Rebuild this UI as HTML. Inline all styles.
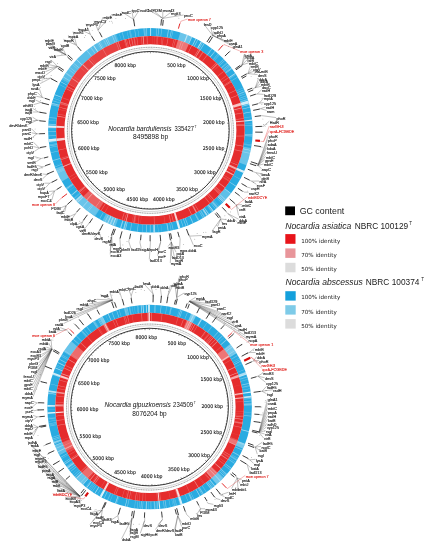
<!DOCTYPE html>
<html><head><meta charset="utf-8"><style>
html,body{margin:0;padding:0;background:#fff;}
svg{display:block;}
text{font-family:'Liberation Sans', 'DejaVu Sans', sans-serif;fill:#1a1a1a;}
.kb{font-size:5.1px;font-family:'DejaVu Sans',sans-serif;fill:#111;stroke:#111;stroke-width:0.12px;}
.it{font-style:italic;}
.gl{font-size:3.75px;fill:#1a1a1a;stroke:#1a1a1a;stroke-width:0.12px;}
.gl.r{fill:#e0201c;stroke:#e0201c;}
.ct{font-size:6.6px;fill:#111;}
.sup{font-size:3.4px;}
.lg{font-size:9.2px;}
.lh{font-size:8.8px;}
.lsup{font-size:4.6px;}
.li{font-size:5.6px;font-family:'DejaVu Sans',sans-serif;}
</style></head><body>
<svg width="435" height="550" viewBox="0 0 435 550">
<rect width="435" height="550" fill="#fff"/>
<circle cx="150.4" cy="130.3" r="98.30" fill="none" stroke="#29abe1" stroke-width="8.00"/>
<path d="M180.55,228.05A102.3,102.3 0 0 1 179.96,228.24L177.65,220.58A94.3,94.3 0 0 0 178.20,220.41Z" fill="#e0f3fb" fill-opacity="0.46"/>
<path d="M69.59,67.58A102.3,102.3 0 0 1 69.82,67.27L76.12,72.20A94.3,94.3 0 0 0 75.90,72.48Z" fill="#e0f3fb" fill-opacity="0.52"/>
<path d="M51.81,103.01A102.3,102.3 0 0 1 51.89,102.70L59.60,104.85A94.3,94.3 0 0 0 59.52,105.14Z" fill="#9ad6f0" fill-opacity="0.35"/>
<path d="M125.77,229.59A102.3,102.3 0 0 1 124.97,229.39L126.96,221.64A94.3,94.3 0 0 0 127.70,221.83Z" fill="#ffffff" fill-opacity="0.51"/>
<path d="M212.51,211.59A102.3,102.3 0 0 1 212.07,211.92L207.25,205.54A94.3,94.3 0 0 0 207.65,205.23Z" fill="#bfe6f7" fill-opacity="0.52"/>
<path d="M61.29,80.06A102.3,102.3 0 0 1 61.44,79.79L68.39,83.74A94.3,94.3 0 0 0 68.25,83.99Z" fill="#ffffff" fill-opacity="0.37"/>
<path d="M252.57,125.12A102.3,102.3 0 0 1 252.58,125.41L244.59,125.79A94.3,94.3 0 0 0 244.58,125.53Z" fill="#e0f3fb" fill-opacity="0.41"/>
<path d="M95.07,216.34A102.3,102.3 0 0 1 94.74,216.13L99.09,209.42A94.3,94.3 0 0 0 99.39,209.61Z" fill="#bfe6f7" fill-opacity="0.52"/>
<path d="M150.55,232.60A102.3,102.3 0 0 1 149.86,232.60L149.91,224.60A94.3,94.3 0 0 0 150.53,224.60Z" fill="#e0f3fb" fill-opacity="0.53"/>
<path d="M206.95,215.55A102.3,102.3 0 0 1 206.44,215.88L202.06,209.19A94.3,94.3 0 0 0 202.53,208.88Z" fill="#ffffff" fill-opacity="0.55"/>
<path d="M244.22,171.09A102.3,102.3 0 0 1 244.05,171.47L236.73,168.25A94.3,94.3 0 0 0 236.88,167.90Z" fill="#9ad6f0" fill-opacity="0.31"/>
<path d="M110.87,224.65A102.3,102.3 0 0 1 110.56,224.52L113.68,217.16A94.3,94.3 0 0 0 113.96,217.28Z" fill="#ffffff" fill-opacity="0.60"/>
<path d="M217.32,207.68A102.3,102.3 0 0 1 216.66,208.24L211.48,202.15A94.3,94.3 0 0 0 212.09,201.63Z" fill="#ffffff" fill-opacity="0.37"/>
<path d="M105.13,38.56A102.3,102.3 0 0 1 105.40,38.43L108.92,45.61A94.3,94.3 0 0 0 108.67,45.74Z" fill="#e0f3fb" fill-opacity="0.64"/>
<path d="M211.86,212.08A102.3,102.3 0 0 1 211.61,212.27L206.82,205.86A94.3,94.3 0 0 0 207.06,205.68Z" fill="#bfe6f7" fill-opacity="0.57"/>
<path d="M251.91,142.98A102.3,102.3 0 0 1 251.87,143.30L243.94,142.28A94.3,94.3 0 0 0 243.97,141.99Z" fill="#9ad6f0" fill-opacity="0.31"/>
<path d="M205.19,216.69A102.3,102.3 0 0 1 204.47,217.14L200.24,210.35A94.3,94.3 0 0 0 200.90,209.94Z" fill="#bfe6f7" fill-opacity="0.39"/>
<path d="M211.07,47.93A102.3,102.3 0 0 1 211.32,48.12L206.55,54.54A94.3,94.3 0 0 0 206.33,54.38Z" fill="#e0f3fb" fill-opacity="0.36"/>
<path d="M113.16,225.58A102.3,102.3 0 0 1 112.65,225.38L115.60,217.95A94.3,94.3 0 0 0 116.07,218.13Z" fill="#bfe6f7" fill-opacity="0.64"/>
<path d="M48.87,117.78A102.3,102.3 0 0 1 48.93,117.26L56.87,118.28A94.3,94.3 0 0 0 56.81,118.76Z" fill="#e0f3fb" fill-opacity="0.34"/>
<path d="M199.26,220.18A102.3,102.3 0 0 1 198.90,220.37L195.11,213.33A94.3,94.3 0 0 0 195.44,213.15Z" fill="#9ad6f0" fill-opacity="0.60"/>
<path d="M134.31,29.27A102.3,102.3 0 0 1 134.94,29.18L136.15,37.08A94.3,94.3 0 0 0 135.56,37.17Z" fill="#ffffff" fill-opacity="0.37"/>
<path d="M213.47,210.85A102.3,102.3 0 0 1 212.83,211.34L207.95,205.00A94.3,94.3 0 0 0 208.54,204.55Z" fill="#ffffff" fill-opacity="0.31"/>
<path d="M231.77,68.29A102.3,102.3 0 0 1 232.09,68.73L225.71,73.54A94.3,94.3 0 0 0 225.40,73.14Z" fill="#ffffff" fill-opacity="0.57"/>
<path d="M240.37,178.99A102.3,102.3 0 0 1 240.15,179.39L233.13,175.55A94.3,94.3 0 0 0 233.33,175.19Z" fill="#ffffff" fill-opacity="0.33"/>
<path d="M249.28,104.07A102.3,102.3 0 0 1 249.45,104.72L241.70,106.72A94.3,94.3 0 0 0 241.55,106.12Z" fill="#ffffff" fill-opacity="0.51"/>
<path d="M224.22,201.12A102.3,102.3 0 0 1 223.84,201.52L218.09,195.95A94.3,94.3 0 0 0 218.45,195.59Z" fill="#e0f3fb" fill-opacity="0.59"/>
<path d="M227.45,63.00A102.3,102.3 0 0 1 227.78,63.39L221.73,68.62A94.3,94.3 0 0 0 221.42,68.27Z" fill="#bfe6f7" fill-opacity="0.41"/>
<path d="M251.76,116.45A102.3,102.3 0 0 1 251.84,117.09L243.91,118.12A94.3,94.3 0 0 0 243.83,117.53Z" fill="#bfe6f7" fill-opacity="0.36"/>
<path d="M76.28,200.81A102.3,102.3 0 0 1 75.86,200.36L81.69,194.88A94.3,94.3 0 0 0 82.07,195.29Z" fill="#e0f3fb" fill-opacity="0.61"/>
<path d="M88.45,211.71A102.3,102.3 0 0 1 88.02,211.38L92.90,205.04A94.3,94.3 0 0 0 93.29,205.34Z" fill="#ffffff" fill-opacity="0.34"/>
<path d="M142.47,232.29A102.3,102.3 0 0 1 142.04,232.26L142.69,224.28A94.3,94.3 0 0 0 143.09,224.32Z" fill="#e0f3fb" fill-opacity="0.39"/>
<path d="M58.88,84.59A102.3,102.3 0 0 1 59.17,84.02L66.30,87.64A94.3,94.3 0 0 0 66.04,88.17Z" fill="#9ad6f0" fill-opacity="0.48"/>
<path d="M106.40,37.95A102.3,102.3 0 0 1 107.19,37.57L110.57,44.82A94.3,94.3 0 0 0 109.84,45.17Z" fill="#bfe6f7" fill-opacity="0.38"/>
<path d="M113.12,225.57A102.3,102.3 0 0 1 112.38,225.27L115.35,217.84A94.3,94.3 0 0 0 116.04,218.12Z" fill="#ffffff" fill-opacity="0.40"/>
<path d="M99.64,41.48A102.3,102.3 0 0 1 99.98,41.29L103.92,48.25A94.3,94.3 0 0 0 103.61,48.43Z" fill="#ffffff" fill-opacity="0.32"/>
<path d="M204.44,217.16A102.3,102.3 0 0 1 204.08,217.39L199.88,210.58A94.3,94.3 0 0 0 200.21,210.37Z" fill="#ffffff" fill-opacity="0.36"/>
<path d="M225.51,199.76A102.3,102.3 0 0 1 225.08,200.22L219.24,194.75A94.3,94.3 0 0 0 219.63,194.33Z" fill="#bfe6f7" fill-opacity="0.33"/>
<path d="M228.57,64.31A102.3,102.3 0 0 1 228.92,64.73L222.78,69.86A94.3,94.3 0 0 0 222.45,69.47Z" fill="#9ad6f0" fill-opacity="0.53"/>
<path d="M55.00,167.23A102.3,102.3 0 0 1 54.77,166.64L62.25,163.80A94.3,94.3 0 0 0 62.46,164.34Z" fill="#bfe6f7" fill-opacity="0.51"/>
<path d="M103.15,39.57A102.3,102.3 0 0 1 103.65,39.31L107.31,46.42A94.3,94.3 0 0 0 106.84,46.66Z" fill="#9ad6f0" fill-opacity="0.55"/>
<path d="M126.69,30.79A102.3,102.3 0 0 1 126.96,30.72L128.79,38.51A94.3,94.3 0 0 0 128.54,38.57Z" fill="#ffffff" fill-opacity="0.47"/>
<path d="M48.87,142.80A102.3,102.3 0 0 1 48.81,142.34L56.76,141.40A94.3,94.3 0 0 0 56.81,141.83Z" fill="#ffffff" fill-opacity="0.33"/>
<path d="M121.18,228.34A102.3,102.3 0 0 1 120.49,228.13L122.83,220.48A94.3,94.3 0 0 0 123.47,220.67Z" fill="#bfe6f7" fill-opacity="0.58"/>
<path d="M98.33,42.25A102.3,102.3 0 0 1 98.75,42.00L102.79,48.90A94.3,94.3 0 0 0 102.40,49.13Z" fill="#e0f3fb" fill-opacity="0.62"/>
<path d="M76.31,59.76A102.3,102.3 0 0 1 76.68,59.37L82.44,64.92A94.3,94.3 0 0 0 82.11,65.27Z" fill="#ffffff" fill-opacity="0.60"/>
<path d="M105.22,222.08A102.3,102.3 0 0 1 104.63,221.79L108.21,214.63A94.3,94.3 0 0 0 108.75,214.90Z" fill="#e0f3fb" fill-opacity="0.43"/>
<path d="M158.39,28.31A102.3,102.3 0 0 1 158.70,28.34L158.06,36.31A94.3,94.3 0 0 0 157.77,36.29Z" fill="#ffffff" fill-opacity="0.52"/>
<path d="M146.11,28.09A102.3,102.3 0 0 1 146.93,28.06L147.20,36.05A94.3,94.3 0 0 0 146.44,36.08Z" fill="#9ad6f0" fill-opacity="0.44"/>
<path d="M48.55,139.90A102.3,102.3 0 0 1 48.49,139.27L56.46,138.57A94.3,94.3 0 0 0 56.52,139.15Z" fill="#e0f3fb" fill-opacity="0.46"/>
<path d="M124.18,229.18A102.3,102.3 0 0 1 123.61,229.03L125.70,221.31A94.3,94.3 0 0 0 126.23,221.45Z" fill="#ffffff" fill-opacity="0.41"/>
<path d="M203.98,43.15A102.3,102.3 0 0 1 204.22,43.30L200.01,50.10A94.3,94.3 0 0 0 199.79,49.97Z" fill="#ffffff" fill-opacity="0.47"/>
<path d="M82.99,207.25A102.3,102.3 0 0 1 82.36,206.69L87.68,200.72A94.3,94.3 0 0 0 88.26,201.23Z" fill="#9ad6f0" fill-opacity="0.61"/>
<path d="M225.87,199.36A102.3,102.3 0 0 1 225.63,199.63L219.74,194.21A94.3,94.3 0 0 0 219.97,193.96Z" fill="#bfe6f7" fill-opacity="0.48"/>
<path d="M48.13,127.88A102.3,102.3 0 0 1 48.14,127.39L56.14,127.62A94.3,94.3 0 0 0 56.13,128.07Z" fill="#e0f3fb" fill-opacity="0.47"/>
<path d="M252.55,124.83A102.3,102.3 0 0 1 252.58,125.35L244.59,125.74A94.3,94.3 0 0 0 244.57,125.26Z" fill="#9ad6f0" fill-opacity="0.37"/>
<path d="M193.44,223.11A102.3,102.3 0 0 1 192.73,223.43L189.42,216.15A94.3,94.3 0 0 0 190.07,215.85Z" fill="#bfe6f7" fill-opacity="0.61"/>
<path d="M218.33,206.79A102.3,102.3 0 0 1 217.86,207.21L212.58,201.19A94.3,94.3 0 0 0 213.02,200.81Z" fill="#9ad6f0" fill-opacity="0.37"/>
<path d="M226.95,62.43A102.3,102.3 0 0 1 227.27,62.80L221.26,68.08A94.3,94.3 0 0 0 220.96,67.74Z" fill="#ffffff" fill-opacity="0.55"/>
<path d="M118.79,33.01A102.3,102.3 0 0 1 119.21,32.87L121.65,40.49A94.3,94.3 0 0 0 121.26,40.62Z" fill="#bfe6f7" fill-opacity="0.34"/>
<path d="M168.71,230.95A102.3,102.3 0 0 1 167.88,231.10L166.51,223.21A94.3,94.3 0 0 0 167.28,223.08Z" fill="#e0f3fb" fill-opacity="0.43"/>
<path d="M137.59,231.80A102.3,102.3 0 0 1 136.91,231.71L137.97,223.78A94.3,94.3 0 0 0 138.60,223.86Z" fill="#e0f3fb" fill-opacity="0.41"/>
<path d="M60.36,81.74A102.3,102.3 0 0 1 60.57,81.35L67.60,85.17A94.3,94.3 0 0 0 67.40,85.53Z" fill="#ffffff" fill-opacity="0.54"/>
<path d="M250.76,150.14A102.3,102.3 0 0 1 250.66,150.62L242.82,149.03A94.3,94.3 0 0 0 242.91,148.59Z" fill="#ffffff" fill-opacity="0.52"/>
<path d="M207.80,214.98A102.3,102.3 0 0 1 207.48,215.19L203.02,208.56A94.3,94.3 0 0 0 203.31,208.36Z" fill="#9ad6f0" fill-opacity="0.38"/>
<path d="M229.58,65.53A102.3,102.3 0 0 1 229.77,65.76L223.56,70.80A94.3,94.3 0 0 0 223.39,70.59Z" fill="#ffffff" fill-opacity="0.46"/>
<path d="M75.84,200.35A102.3,102.3 0 0 1 75.38,199.85L81.25,194.41A94.3,94.3 0 0 0 81.67,194.87Z" fill="#9ad6f0" fill-opacity="0.64"/>
<path d="M56.64,171.23A102.3,102.3 0 0 1 56.49,170.87L63.83,167.69A94.3,94.3 0 0 0 63.98,168.03Z" fill="#e0f3fb" fill-opacity="0.39"/>
<path d="M50.67,153.10A102.3,102.3 0 0 1 50.51,152.38L58.32,150.65A94.3,94.3 0 0 0 58.47,151.32Z" fill="#ffffff" fill-opacity="0.36"/>
<path d="M251.69,144.62A102.3,102.3 0 0 1 251.62,145.10L243.71,143.94A94.3,94.3 0 0 0 243.77,143.50Z" fill="#bfe6f7" fill-opacity="0.44"/>
<path d="M51.63,103.66A102.3,102.3 0 0 1 51.85,102.85L59.56,105.00A94.3,94.3 0 0 0 59.35,105.74Z" fill="#ffffff" fill-opacity="0.44"/>
<path d="M86.51,50.40A102.3,102.3 0 0 1 86.91,50.08L91.88,56.36A94.3,94.3 0 0 0 91.51,56.65Z" fill="#e0f3fb" fill-opacity="0.46"/>
<path d="M77.81,202.39A102.3,102.3 0 0 1 77.23,201.79L82.95,196.20A94.3,94.3 0 0 0 83.49,196.75Z" fill="#e0f3fb" fill-opacity="0.49"/>
<path d="M66.64,189.03A102.3,102.3 0 0 1 66.31,188.55L72.88,184.00A94.3,94.3 0 0 0 73.19,184.44Z" fill="#9ad6f0" fill-opacity="0.46"/>
<path d="M67.14,189.74A102.3,102.3 0 0 1 66.91,189.42L73.44,184.79A94.3,94.3 0 0 0 73.65,185.09Z" fill="#ffffff" fill-opacity="0.37"/>
<path d="M90.26,47.54A102.3,102.3 0 0 1 90.98,47.03L95.62,53.54A94.3,94.3 0 0 0 94.96,54.02Z" fill="#9ad6f0" fill-opacity="0.49"/>
<path d="M51.44,104.37A102.3,102.3 0 0 1 51.56,103.92L59.29,105.98A94.3,94.3 0 0 0 59.18,106.40Z" fill="#ffffff" fill-opacity="0.42"/>
<path d="M201.24,41.53A102.3,102.3 0 0 1 201.71,41.80L197.70,48.72A94.3,94.3 0 0 0 197.26,48.47Z" fill="#e0f3fb" fill-opacity="0.57"/>
<path d="M158.46,232.28A102.3,102.3 0 0 1 158.18,232.30L157.57,224.33A94.3,94.3 0 0 0 157.83,224.31Z" fill="#ffffff" fill-opacity="0.45"/>
<path d="M172.78,30.48A102.3,102.3 0 0 1 173.37,30.61L171.57,38.41A94.3,94.3 0 0 0 171.03,38.28Z" fill="#bfe6f7" fill-opacity="0.46"/>
<path d="M150.29,28.00A102.3,102.3 0 0 1 151.12,28.00L151.06,36.00A94.3,94.3 0 0 0 150.30,36.00Z" fill="#e0f3fb" fill-opacity="0.63"/>
<path d="M155.17,232.49A102.3,102.3 0 0 1 154.31,232.53L154.00,224.53A94.3,94.3 0 0 0 154.79,224.50Z" fill="#ffffff" fill-opacity="0.57"/>
<path d="M188.40,225.28A102.3,102.3 0 0 1 187.83,225.51L184.90,218.06A94.3,94.3 0 0 0 185.43,217.85Z" fill="#bfe6f7" fill-opacity="0.48"/>
<path d="M65.30,73.53A102.3,102.3 0 0 1 65.64,73.02L72.27,77.50A94.3,94.3 0 0 0 71.95,77.97Z" fill="#9ad6f0" fill-opacity="0.53"/>
<path d="M121.73,32.10A102.3,102.3 0 0 1 122.51,31.88L124.69,39.57A94.3,94.3 0 0 0 123.97,39.78Z" fill="#bfe6f7" fill-opacity="0.41"/>
<path d="M229.69,65.66A102.3,102.3 0 0 1 230.08,66.14L223.84,71.15A94.3,94.3 0 0 0 223.49,70.72Z" fill="#9ad6f0" fill-opacity="0.50"/>
<path d="M247.88,99.28A102.3,102.3 0 0 1 248.06,99.85L240.43,102.24A94.3,94.3 0 0 0 240.26,101.71Z" fill="#ffffff" fill-opacity="0.51"/>
<path d="M168.15,29.55A102.3,102.3 0 0 1 169.01,29.71L167.55,37.57A94.3,94.3 0 0 0 166.76,37.43Z" fill="#e0f3fb" fill-opacity="0.49"/>
<path d="M143.59,28.23A102.3,102.3 0 0 1 143.94,28.20L144.44,36.19A94.3,94.3 0 0 0 144.13,36.21Z" fill="#ffffff" fill-opacity="0.54"/>
<path d="M191.56,36.65A102.3,102.3 0 0 1 192.11,36.89L188.85,44.19A94.3,94.3 0 0 0 188.34,43.97Z" fill="#e0f3fb" fill-opacity="0.62"/>
<path d="M53.19,98.45A102.3,102.3 0 0 1 53.35,97.95L60.94,100.48A94.3,94.3 0 0 0 60.79,100.94Z" fill="#bfe6f7" fill-opacity="0.47"/>
<path d="M223.63,58.86A102.3,102.3 0 0 1 224.00,59.25L218.25,64.81A94.3,94.3 0 0 0 217.90,64.45Z" fill="#e0f3fb" fill-opacity="0.48"/>
<path d="M214.92,50.91A102.3,102.3 0 0 1 215.33,51.25L210.25,57.43A94.3,94.3 0 0 0 209.87,57.12Z" fill="#ffffff" fill-opacity="0.62"/>
<path d="M224.74,60.02A102.3,102.3 0 0 1 225.25,60.57L219.40,66.02A94.3,94.3 0 0 0 218.92,65.51Z" fill="#ffffff" fill-opacity="0.31"/>
<path d="M235.20,73.08A102.3,102.3 0 0 1 235.35,73.31L228.71,77.77A94.3,94.3 0 0 0 228.57,77.56Z" fill="#9ad6f0" fill-opacity="0.41"/>
<path d="M231.10,193.18A102.3,102.3 0 0 1 230.69,193.69L224.41,188.73A94.3,94.3 0 0 0 224.79,188.26Z" fill="#ffffff" fill-opacity="0.47"/>
<path d="M99.86,219.24A102.3,102.3 0 0 1 99.17,218.85L103.17,211.92A94.3,94.3 0 0 0 103.81,212.29Z" fill="#9ad6f0" fill-opacity="0.55"/>
<path d="M52.84,161.08A102.3,102.3 0 0 1 52.60,160.30L60.24,157.95A94.3,94.3 0 0 0 60.47,158.67Z" fill="#ffffff" fill-opacity="0.43"/>
<path d="M203.36,217.83A102.3,102.3 0 0 1 202.84,218.14L198.74,211.27A94.3,94.3 0 0 0 199.22,210.98Z" fill="#bfe6f7" fill-opacity="0.49"/>
<path d="M73.17,63.21A102.3,102.3 0 0 1 73.57,62.76L79.58,68.04A94.3,94.3 0 0 0 79.21,68.46Z" fill="#bfe6f7" fill-opacity="0.49"/>
<path d="M68.12,69.52A102.3,102.3 0 0 1 68.50,69.00L74.91,73.79A94.3,94.3 0 0 0 74.55,74.27Z" fill="#bfe6f7" fill-opacity="0.38"/>
<path d="M48.27,136.23A102.3,102.3 0 0 1 48.23,135.46L56.22,135.05A94.3,94.3 0 0 0 56.26,135.76Z" fill="#bfe6f7" fill-opacity="0.41"/>
<path d="M244.29,170.92A102.3,102.3 0 0 1 243.95,171.70L236.63,168.46A94.3,94.3 0 0 0 236.95,167.74Z" fill="#bfe6f7" fill-opacity="0.57"/>
<path d="M246.55,95.37A102.3,102.3 0 0 1 246.66,95.68L239.14,98.39A94.3,94.3 0 0 0 239.03,98.10Z" fill="#bfe6f7" fill-opacity="0.35"/>
<path d="M204.20,43.29A102.3,102.3 0 0 1 204.64,43.56L200.40,50.34A94.3,94.3 0 0 0 200.00,50.10Z" fill="#e0f3fb" fill-opacity="0.59"/>
<path d="M198.76,220.45A102.3,102.3 0 0 1 198.09,220.80L194.36,213.73A94.3,94.3 0 0 0 194.98,213.40Z" fill="#bfe6f7" fill-opacity="0.37"/>
<path d="M76.72,201.26A102.3,102.3 0 0 1 76.19,200.71L81.99,195.20A94.3,94.3 0 0 0 82.48,195.71Z" fill="#ffffff" fill-opacity="0.37"/>
<path d="M57.19,172.47A102.3,102.3 0 0 1 56.85,171.70L64.17,168.46A94.3,94.3 0 0 0 64.48,169.17Z" fill="#9ad6f0" fill-opacity="0.34"/>
<path d="M146.75,232.53A102.3,102.3 0 0 1 146.01,232.51L146.35,224.51A94.3,94.3 0 0 0 147.03,224.54Z" fill="#bfe6f7" fill-opacity="0.58"/>
<path d="M161.90,231.95A102.3,102.3 0 0 1 161.62,231.98L160.74,224.03A94.3,94.3 0 0 0 161.00,224.00Z" fill="#e0f3fb" fill-opacity="0.35"/>
<path d="M244.17,89.40A102.3,102.3 0 0 1 244.32,89.76L236.98,92.93A94.3,94.3 0 0 0 236.83,92.60Z" fill="#bfe6f7" fill-opacity="0.65"/>
<path d="M105.04,38.60A102.3,102.3 0 0 1 105.34,38.46L108.86,45.64A94.3,94.3 0 0 0 108.59,45.78Z" fill="#ffffff" fill-opacity="0.35"/>
<path d="M57.57,173.29A102.3,102.3 0 0 1 57.44,173.01L64.71,169.67A94.3,94.3 0 0 0 64.83,169.93Z" fill="#ffffff" fill-opacity="0.41"/>
<path d="M171.48,230.40A102.3,102.3 0 0 1 170.91,230.52L169.30,222.69A94.3,94.3 0 0 0 169.84,222.58Z" fill="#e0f3fb" fill-opacity="0.37"/>
<path d="M223.57,201.79A102.3,102.3 0 0 1 223.11,202.27L217.42,196.64A94.3,94.3 0 0 0 217.85,196.20Z" fill="#ffffff" fill-opacity="0.60"/>
<path d="M243.31,87.48A102.3,102.3 0 0 1 243.54,87.98L236.25,91.29A94.3,94.3 0 0 0 236.04,90.83Z" fill="#9ad6f0" fill-opacity="0.44"/>
<path d="M246.68,95.72A102.3,102.3 0 0 1 246.80,96.07L239.27,98.75A94.3,94.3 0 0 0 239.15,98.43Z" fill="#ffffff" fill-opacity="0.41"/>
<path d="M202.38,42.19A102.3,102.3 0 0 1 203.06,42.59L198.94,49.45A94.3,94.3 0 0 0 198.31,49.08Z" fill="#e0f3fb" fill-opacity="0.50"/>
<path d="M245.74,93.21A102.3,102.3 0 0 1 245.97,93.80L238.49,96.65A94.3,94.3 0 0 0 238.28,96.11Z" fill="#9ad6f0" fill-opacity="0.58"/>
<path d="M252.56,135.61A102.3,102.3 0 0 1 252.52,136.45L244.53,135.97A94.3,94.3 0 0 0 244.57,135.19Z" fill="#bfe6f7" fill-opacity="0.59"/>
<path d="M207.56,215.14A102.3,102.3 0 0 1 206.87,215.60L202.46,208.93A94.3,94.3 0 0 0 203.09,208.51Z" fill="#9ad6f0" fill-opacity="0.57"/>
<path d="M48.57,120.53A102.3,102.3 0 0 1 48.62,120.01L56.58,120.81A94.3,94.3 0 0 0 56.53,121.29Z" fill="#bfe6f7" fill-opacity="0.32"/>
<path d="M236.18,186.04A102.3,102.3 0 0 1 235.87,186.51L229.19,182.12A94.3,94.3 0 0 0 229.47,181.69Z" fill="#ffffff" fill-opacity="0.61"/>
<path d="M144.35,28.18A102.3,102.3 0 0 1 145.18,28.13L145.59,36.12A94.3,94.3 0 0 0 144.82,36.17Z" fill="#ffffff" fill-opacity="0.38"/>
<path d="M115.55,34.12A102.3,102.3 0 0 1 116.19,33.89L118.87,41.43A94.3,94.3 0 0 0 118.28,41.64Z" fill="#9ad6f0" fill-opacity="0.38"/>
<path d="M207.30,215.32A102.3,102.3 0 0 1 206.98,215.53L202.56,208.86A94.3,94.3 0 0 0 202.85,208.67Z" fill="#ffffff" fill-opacity="0.44"/>
<path d="M150.33,28.00A102.3,102.3 0 0 1 151.00,28.00L150.95,36.00A94.3,94.3 0 0 0 150.33,36.00Z" fill="#ffffff" fill-opacity="0.57"/>
<path d="M137.63,28.80A102.3,102.3 0 0 1 137.91,28.76L138.89,36.71A94.3,94.3 0 0 0 138.63,36.74Z" fill="#ffffff" fill-opacity="0.56"/>
<path d="M252.61,134.56A102.3,102.3 0 0 1 252.59,135.08L244.60,134.71A94.3,94.3 0 0 0 244.62,134.23Z" fill="#ffffff" fill-opacity="0.57"/>
<path d="M68.40,191.46A102.3,102.3 0 0 1 68.23,191.24L74.66,186.47A94.3,94.3 0 0 0 74.81,186.68Z" fill="#9ad6f0" fill-opacity="0.39"/>
<path d="M93.24,45.46A102.3,102.3 0 0 1 93.75,45.12L98.18,51.78A94.3,94.3 0 0 0 97.71,52.09Z" fill="#e0f3fb" fill-opacity="0.64"/>
<path d="M108.02,223.41A102.3,102.3 0 0 1 107.21,223.04L110.59,215.79A94.3,94.3 0 0 0 111.34,216.13Z" fill="#e0f3fb" fill-opacity="0.58"/>
<path d="M197.53,39.50A102.3,102.3 0 0 1 198.10,39.80L194.37,46.88A94.3,94.3 0 0 0 193.84,46.60Z" fill="#ffffff" fill-opacity="0.44"/>
<path d="M111.91,35.52A102.3,102.3 0 0 1 112.38,35.33L115.35,42.75A94.3,94.3 0 0 0 114.92,42.93Z" fill="#bfe6f7" fill-opacity="0.60"/>
<path d="M123.74,229.07A102.3,102.3 0 0 1 123.13,228.90L125.26,221.19A94.3,94.3 0 0 0 125.83,221.34Z" fill="#e0f3fb" fill-opacity="0.63"/>
<path d="M199.29,220.16A102.3,102.3 0 0 1 198.76,220.45L194.98,213.40A94.3,94.3 0 0 0 195.46,213.14Z" fill="#9ad6f0" fill-opacity="0.43"/>
<path d="M250.13,153.09A102.3,102.3 0 0 1 249.98,153.75L242.19,151.91A94.3,94.3 0 0 0 242.33,151.30Z" fill="#9ad6f0" fill-opacity="0.53"/>
<path d="M48.11,131.75A102.3,102.3 0 0 1 48.11,131.46L56.11,131.37A94.3,94.3 0 0 0 56.11,131.63Z" fill="#bfe6f7" fill-opacity="0.51"/>
<path d="M74.52,198.91A102.3,102.3 0 0 1 74.17,198.53L80.13,193.19A94.3,94.3 0 0 0 80.46,193.55Z" fill="#e0f3fb" fill-opacity="0.32"/>
<path d="M244.25,171.01A102.3,102.3 0 0 1 244.04,171.49L236.72,168.27A94.3,94.3 0 0 0 236.91,167.83Z" fill="#9ad6f0" fill-opacity="0.33"/>
<path d="M93.19,45.49A102.3,102.3 0 0 1 93.64,45.19L98.08,51.85A94.3,94.3 0 0 0 97.67,52.12Z" fill="#e0f3fb" fill-opacity="0.39"/>
<path d="M48.16,126.77A102.3,102.3 0 0 1 48.17,126.47L56.17,126.77A94.3,94.3 0 0 0 56.16,127.04Z" fill="#ffffff" fill-opacity="0.63"/>
<path d="M49.60,147.74A102.3,102.3 0 0 1 49.50,147.19L57.39,145.86A94.3,94.3 0 0 0 57.48,146.37Z" fill="#bfe6f7" fill-opacity="0.51"/>
<path d="M218.10,53.60A102.3,102.3 0 0 1 218.59,54.04L213.26,60.00A94.3,94.3 0 0 0 212.80,59.60Z" fill="#e0f3fb" fill-opacity="0.34"/>
<path d="M72.04,64.53A102.3,102.3 0 0 1 72.36,64.16L78.46,69.33A94.3,94.3 0 0 0 78.17,69.68Z" fill="#bfe6f7" fill-opacity="0.34"/>
<path d="M186.34,226.08A102.3,102.3 0 0 1 185.70,226.32L182.94,218.81A94.3,94.3 0 0 0 183.53,218.59Z" fill="#e0f3fb" fill-opacity="0.51"/>
<path d="M71.74,195.71A102.3,102.3 0 0 1 71.30,195.17L77.49,190.10A94.3,94.3 0 0 0 77.89,190.59Z" fill="#9ad6f0" fill-opacity="0.57"/>
<path d="M130.75,230.69A102.3,102.3 0 0 1 129.87,230.52L131.48,222.68A94.3,94.3 0 0 0 132.28,222.84Z" fill="#9ad6f0" fill-opacity="0.56"/>
<path d="M252.43,122.86A102.3,102.3 0 0 1 252.45,123.20L244.47,123.75A94.3,94.3 0 0 0 244.45,123.44Z" fill="#9ad6f0" fill-opacity="0.57"/>
<path d="M78.07,202.65A102.3,102.3 0 0 1 77.73,202.30L83.41,196.67A94.3,94.3 0 0 0 83.73,196.99Z" fill="#9ad6f0" fill-opacity="0.51"/>
<path d="M49.35,146.26A102.3,102.3 0 0 1 49.24,145.56L57.15,144.37A94.3,94.3 0 0 0 57.25,145.01Z" fill="#bfe6f7" fill-opacity="0.52"/>
<path d="M48.12,128.15A102.3,102.3 0 0 1 48.13,127.76L56.13,127.96A94.3,94.3 0 0 0 56.12,128.32Z" fill="#bfe6f7" fill-opacity="0.48"/>
<path d="M66.54,188.89A102.3,102.3 0 0 1 66.32,188.57L72.89,184.02A94.3,94.3 0 0 0 73.10,184.31Z" fill="#ffffff" fill-opacity="0.52"/>
<path d="M156.49,28.18A102.3,102.3 0 0 1 156.92,28.21L156.41,36.19A94.3,94.3 0 0 0 156.01,36.17Z" fill="#ffffff" fill-opacity="0.52"/>
<path d="M211.81,48.48A102.3,102.3 0 0 1 212.29,48.85L207.45,55.22A94.3,94.3 0 0 0 207.01,54.88Z" fill="#ffffff" fill-opacity="0.56"/>
<path d="M97.16,42.95A102.3,102.3 0 0 1 97.48,42.75L101.61,49.60A94.3,94.3 0 0 0 101.32,49.78Z" fill="#bfe6f7" fill-opacity="0.52"/>
<path d="M223.56,201.81A102.3,102.3 0 0 1 223.16,202.21L217.47,196.59A94.3,94.3 0 0 0 217.84,196.21Z" fill="#bfe6f7" fill-opacity="0.42"/>
<path d="M154.00,232.54A102.3,102.3 0 0 1 153.64,232.55L153.39,224.55A94.3,94.3 0 0 0 153.71,224.54Z" fill="#ffffff" fill-opacity="0.58"/>
<path d="M183.65,227.04A102.3,102.3 0 0 1 182.91,227.30L180.37,219.71A94.3,94.3 0 0 0 181.05,219.48Z" fill="#bfe6f7" fill-opacity="0.46"/>
<path d="M48.11,132.02A102.3,102.3 0 0 1 48.11,131.51L56.11,131.42A94.3,94.3 0 0 0 56.11,131.89Z" fill="#bfe6f7" fill-opacity="0.43"/>
<path d="M66.28,188.51A102.3,102.3 0 0 1 65.78,187.78L72.39,183.29A94.3,94.3 0 0 0 72.86,183.96Z" fill="#9ad6f0" fill-opacity="0.40"/>
<path d="M48.26,124.53A102.3,102.3 0 0 1 48.31,123.75L56.29,124.26A94.3,94.3 0 0 0 56.25,124.98Z" fill="#bfe6f7" fill-opacity="0.45"/>
<path d="M225.30,199.98A102.3,102.3 0 0 1 225.07,200.22L219.23,194.75A94.3,94.3 0 0 0 219.44,194.53Z" fill="#9ad6f0" fill-opacity="0.33"/>
<path d="M201.38,41.61A102.3,102.3 0 0 1 201.91,41.92L197.88,48.83A94.3,94.3 0 0 0 197.39,48.54Z" fill="#e0f3fb" fill-opacity="0.59"/>
<path d="M173.65,229.92A102.3,102.3 0 0 1 172.89,230.10L171.13,222.29A94.3,94.3 0 0 0 171.83,222.13Z" fill="#ffffff" fill-opacity="0.33"/>
<path d="M249.99,106.89A102.3,102.3 0 0 1 250.14,107.56L242.34,109.34A94.3,94.3 0 0 0 242.20,108.72Z" fill="#ffffff" fill-opacity="0.54"/>
<path d="M153.77,232.54A102.3,102.3 0 0 1 153.02,232.57L152.82,224.57A94.3,94.3 0 0 0 153.50,224.55Z" fill="#9ad6f0" fill-opacity="0.40"/>
<path d="M230.41,66.55A102.3,102.3 0 0 1 230.71,66.93L224.43,71.89A94.3,94.3 0 0 0 224.15,71.53Z" fill="#9ad6f0" fill-opacity="0.43"/>
<path d="M219.19,54.58A102.3,102.3 0 0 1 219.72,55.06L214.30,60.95A94.3,94.3 0 0 0 213.81,60.51Z" fill="#9ad6f0" fill-opacity="0.45"/>
<path d="M53.73,96.83A102.3,102.3 0 0 1 53.88,96.40L61.43,99.05A94.3,94.3 0 0 0 61.29,99.45Z" fill="#9ad6f0" fill-opacity="0.38"/>
<path d="M129.82,30.09A102.3,102.3 0 0 1 130.53,29.95L132.09,37.80A94.3,94.3 0 0 0 131.43,37.93Z" fill="#bfe6f7" fill-opacity="0.33"/>
<path d="M60.30,81.85A102.3,102.3 0 0 1 60.43,81.60L67.47,85.41A94.3,94.3 0 0 0 67.35,85.64Z" fill="#e0f3fb" fill-opacity="0.50"/>
<path d="M52.37,101.06A102.3,102.3 0 0 1 52.58,100.36L60.23,102.70A94.3,94.3 0 0 0 60.03,103.35Z" fill="#9ad6f0" fill-opacity="0.58"/>
<path d="M124.61,229.30A102.3,102.3 0 0 1 123.85,229.09L125.92,221.37A94.3,94.3 0 0 0 126.63,221.55Z" fill="#bfe6f7" fill-opacity="0.36"/>
<path d="M48.26,124.55A102.3,102.3 0 0 1 48.31,123.74L56.29,124.25A94.3,94.3 0 0 0 56.25,125.00Z" fill="#9ad6f0" fill-opacity="0.58"/>
<path d="M251.03,111.91A102.3,102.3 0 0 1 251.09,112.21L243.21,113.63A94.3,94.3 0 0 0 243.16,113.35Z" fill="#bfe6f7" fill-opacity="0.50"/>
<path d="M128.97,30.27A102.3,102.3 0 0 1 129.63,30.13L131.26,37.96A94.3,94.3 0 0 0 130.65,38.09Z" fill="#e0f3fb" fill-opacity="0.32"/>
<path d="M120.74,228.21A102.3,102.3 0 0 1 120.01,227.98L122.39,220.34A94.3,94.3 0 0 0 123.06,220.55Z" fill="#ffffff" fill-opacity="0.42"/>
<path d="M251.57,145.44A102.3,102.3 0 0 1 251.52,145.77L243.62,144.56A94.3,94.3 0 0 0 243.66,144.26Z" fill="#9ad6f0" fill-opacity="0.33"/>
<path d="M74.04,198.37A102.3,102.3 0 0 1 73.80,198.10L79.79,192.80A94.3,94.3 0 0 0 80.01,193.05Z" fill="#e0f3fb" fill-opacity="0.39"/>
<path d="M250.94,111.41A102.3,102.3 0 0 1 251.08,112.15L243.20,113.57A94.3,94.3 0 0 0 243.08,112.89Z" fill="#9ad6f0" fill-opacity="0.57"/>
<path d="M213.41,210.89A102.3,102.3 0 0 1 213.04,211.18L208.14,204.86A94.3,94.3 0 0 0 208.49,204.59Z" fill="#9ad6f0" fill-opacity="0.54"/>
<path d="M154.47,232.52A102.3,102.3 0 0 1 153.87,232.54L153.60,224.55A94.3,94.3 0 0 0 154.15,224.53Z" fill="#ffffff" fill-opacity="0.55"/>
<path d="M98.31,42.25A102.3,102.3 0 0 1 98.76,41.99L102.80,48.89A94.3,94.3 0 0 0 102.39,49.14Z" fill="#9ad6f0" fill-opacity="0.60"/>
<path d="M54.35,95.10A102.3,102.3 0 0 1 54.62,94.36L62.11,97.17A94.3,94.3 0 0 0 61.86,97.85Z" fill="#e0f3fb" fill-opacity="0.64"/>
<path d="M71.46,195.37A102.3,102.3 0 0 1 71.09,194.91L77.29,189.86A94.3,94.3 0 0 0 77.64,190.28Z" fill="#ffffff" fill-opacity="0.58"/>
<path d="M198.77,220.44A102.3,102.3 0 0 1 198.31,220.69L194.56,213.62A94.3,94.3 0 0 0 194.99,213.39Z" fill="#bfe6f7" fill-opacity="0.39"/>
<path d="M237.54,76.71A102.3,102.3 0 0 1 237.89,77.28L231.05,81.43A94.3,94.3 0 0 0 230.73,80.90Z" fill="#bfe6f7" fill-opacity="0.41"/>
<path d="M215.94,208.85A102.3,102.3 0 0 1 215.48,209.23L210.39,203.06A94.3,94.3 0 0 0 210.82,202.70Z" fill="#9ad6f0" fill-opacity="0.64"/>
<path d="M187.58,35.00A102.3,102.3 0 0 1 188.01,35.17L185.07,42.61A94.3,94.3 0 0 0 184.68,42.45Z" fill="#ffffff" fill-opacity="0.41"/>
<path d="M235.20,73.07A102.3,102.3 0 0 1 235.66,73.77L229.00,78.19A94.3,94.3 0 0 0 228.56,77.55Z" fill="#ffffff" fill-opacity="0.56"/>
<path d="M161.41,28.59A102.3,102.3 0 0 1 161.98,28.66L161.07,36.61A94.3,94.3 0 0 0 160.55,36.55Z" fill="#ffffff" fill-opacity="0.41"/>
<path d="M247.21,97.24A102.3,102.3 0 0 1 247.37,97.71L239.79,100.25A94.3,94.3 0 0 0 239.64,99.82Z" fill="#bfe6f7" fill-opacity="0.51"/>
<path d="M168.36,231.01A102.3,102.3 0 0 1 167.78,231.11L166.42,223.23A94.3,94.3 0 0 0 166.96,223.14Z" fill="#e0f3fb" fill-opacity="0.36"/>
<path d="M250.76,150.14A102.3,102.3 0 0 1 250.68,150.51L242.84,148.93A94.3,94.3 0 0 0 242.91,148.59Z" fill="#9ad6f0" fill-opacity="0.52"/>
<path d="M113.94,34.72A102.3,102.3 0 0 1 114.51,34.50L117.32,41.99A94.3,94.3 0 0 0 116.79,42.19Z" fill="#9ad6f0" fill-opacity="0.47"/>
<path d="M209.16,214.04A102.3,102.3 0 0 1 208.45,214.53L203.91,207.95A94.3,94.3 0 0 0 204.57,207.49Z" fill="#ffffff" fill-opacity="0.47"/>
<path d="M251.01,111.77A102.3,102.3 0 0 1 251.06,112.06L243.19,113.49A94.3,94.3 0 0 0 243.14,113.22Z" fill="#bfe6f7" fill-opacity="0.58"/>
<path d="M218.06,207.03A102.3,102.3 0 0 1 217.61,207.42L212.36,201.39A94.3,94.3 0 0 0 212.77,201.03Z" fill="#9ad6f0" fill-opacity="0.58"/>
<path d="M186.82,34.70A102.3,102.3 0 0 1 187.61,35.01L184.70,42.46A94.3,94.3 0 0 0 183.98,42.18Z" fill="#ffffff" fill-opacity="0.61"/>
<path d="M93.02,45.61A102.3,102.3 0 0 1 93.48,45.30L97.93,51.95A94.3,94.3 0 0 0 97.51,52.23Z" fill="#bfe6f7" fill-opacity="0.55"/>
<path d="M87.16,210.71A102.3,102.3 0 0 1 86.87,210.48L91.84,204.21A94.3,94.3 0 0 0 92.10,204.42Z" fill="#bfe6f7" fill-opacity="0.57"/>
<path d="M231.13,67.47A102.3,102.3 0 0 1 231.64,68.13L225.29,72.99A94.3,94.3 0 0 0 224.82,72.38Z" fill="#bfe6f7" fill-opacity="0.52"/>
<path d="M145.98,28.10A102.3,102.3 0 0 1 146.41,28.08L146.72,36.07A94.3,94.3 0 0 0 146.32,36.09Z" fill="#ffffff" fill-opacity="0.35"/>
<path d="M48.94,117.24A102.3,102.3 0 0 1 48.97,116.97L56.90,118.01A94.3,94.3 0 0 0 56.87,118.26Z" fill="#bfe6f7" fill-opacity="0.59"/>
<path d="M201.04,41.42A102.3,102.3 0 0 1 201.42,41.63L197.43,48.57A94.3,94.3 0 0 0 197.08,48.37Z" fill="#ffffff" fill-opacity="0.61"/>
<path d="M54.44,165.74A102.3,102.3 0 0 1 54.33,165.44L61.84,162.69A94.3,94.3 0 0 0 61.94,162.97Z" fill="#9ad6f0" fill-opacity="0.31"/>
<path d="M244.98,91.31A102.3,102.3 0 0 1 245.12,91.67L237.72,94.69A94.3,94.3 0 0 0 237.58,94.36Z" fill="#ffffff" fill-opacity="0.57"/>
<path d="M187.95,225.46A102.3,102.3 0 0 1 187.67,225.57L184.76,218.12A94.3,94.3 0 0 0 185.01,218.02Z" fill="#e0f3fb" fill-opacity="0.48"/>
<path d="M235.92,74.16A102.3,102.3 0 0 1 236.35,74.82L229.63,79.16A94.3,94.3 0 0 0 229.23,78.55Z" fill="#9ad6f0" fill-opacity="0.41"/>
<path d="M207.66,215.08A102.3,102.3 0 0 1 207.14,215.42L202.71,208.76A94.3,94.3 0 0 0 203.18,208.45Z" fill="#e0f3fb" fill-opacity="0.53"/>
<path d="M192.23,36.94A102.3,102.3 0 0 1 192.52,37.07L189.22,44.36A94.3,94.3 0 0 0 188.96,44.24Z" fill="#bfe6f7" fill-opacity="0.34"/>
<path d="M213.49,210.83A102.3,102.3 0 0 1 213.05,211.17L208.15,204.85A94.3,94.3 0 0 0 208.55,204.53Z" fill="#ffffff" fill-opacity="0.53"/>
<path d="M158.33,28.31A102.3,102.3 0 0 1 158.83,28.35L158.17,36.32A94.3,94.3 0 0 0 157.71,36.28Z" fill="#e0f3fb" fill-opacity="0.38"/>
<path d="M110.29,224.41A102.3,102.3 0 0 1 109.78,224.19L112.96,216.85A94.3,94.3 0 0 0 113.43,217.05Z" fill="#ffffff" fill-opacity="0.60"/>
<path d="M65.61,73.06A102.3,102.3 0 0 1 66.02,72.47L72.61,76.99A94.3,94.3 0 0 0 72.24,77.54Z" fill="#bfe6f7" fill-opacity="0.40"/>
<path d="M222.29,203.09A102.3,102.3 0 0 1 221.85,203.51L216.27,197.78A94.3,94.3 0 0 0 216.66,197.39Z" fill="#9ad6f0" fill-opacity="0.63"/>
<path d="M48.15,127.14A102.3,102.3 0 0 1 48.17,126.52L56.16,126.82A94.3,94.3 0 0 0 56.15,127.38Z" fill="#ffffff" fill-opacity="0.39"/>
<path d="M247.68,98.65A102.3,102.3 0 0 1 247.90,99.34L240.28,101.76A94.3,94.3 0 0 0 240.07,101.13Z" fill="#9ad6f0" fill-opacity="0.41"/>
<path d="M251.56,145.55A102.3,102.3 0 0 1 251.47,146.10L243.57,144.86A94.3,94.3 0 0 0 243.65,144.35Z" fill="#9ad6f0" fill-opacity="0.46"/>
<path d="M219.28,205.94A102.3,102.3 0 0 1 219.03,206.16L213.67,200.23A94.3,94.3 0 0 0 213.89,200.02Z" fill="#ffffff" fill-opacity="0.35"/>
<path d="M75.65,200.15A102.3,102.3 0 0 1 75.40,199.87L81.26,194.43A94.3,94.3 0 0 0 81.50,194.68Z" fill="#bfe6f7" fill-opacity="0.44"/>
<path d="M62.98,77.17A102.3,102.3 0 0 1 63.31,76.62L70.12,80.82A94.3,94.3 0 0 0 69.82,81.32Z" fill="#ffffff" fill-opacity="0.34"/>
<path d="M171.06,30.11A102.3,102.3 0 0 1 171.92,30.29L170.24,38.11A94.3,94.3 0 0 0 169.44,37.94Z" fill="#e0f3fb" fill-opacity="0.44"/>
<path d="M195.51,38.48A102.3,102.3 0 0 1 196.27,38.86L192.68,46.01A94.3,94.3 0 0 0 191.98,45.66Z" fill="#e0f3fb" fill-opacity="0.62"/>
<path d="M228.83,64.62A102.3,102.3 0 0 1 229.09,64.93L222.93,70.04A94.3,94.3 0 0 0 222.70,69.76Z" fill="#bfe6f7" fill-opacity="0.59"/>
<path d="M217.60,207.44A102.3,102.3 0 0 1 217.24,207.75L212.01,201.69A94.3,94.3 0 0 0 212.34,201.40Z" fill="#e0f3fb" fill-opacity="0.52"/>
<path d="M49.17,145.07A102.3,102.3 0 0 1 49.08,144.43L57.00,143.32A94.3,94.3 0 0 0 57.09,143.92Z" fill="#9ad6f0" fill-opacity="0.64"/>
<path d="M51.26,105.06A102.3,102.3 0 0 1 51.43,104.41L59.17,106.43A94.3,94.3 0 0 0 59.01,107.04Z" fill="#ffffff" fill-opacity="0.39"/>
<path d="M245.22,91.90A102.3,102.3 0 0 1 245.39,92.33L237.96,95.30A94.3,94.3 0 0 0 237.80,94.90Z" fill="#e0f3fb" fill-opacity="0.34"/>
<path d="M180.31,32.47A102.3,102.3 0 0 1 192.01,36.84L188.76,44.15A94.3,94.3 0 0 0 177.97,40.12Z" fill="#ffffff" fill-opacity="0.3"/>
<path d="M248.23,100.39A102.3,102.3 0 0 1 249.12,103.48L241.40,105.58A94.3,94.3 0 0 0 240.58,102.73Z" fill="#ffffff" fill-opacity="0.8"/>
<path d="M252.14,119.61A102.3,102.3 0 0 1 252.26,120.85L244.30,121.59A94.3,94.3 0 0 0 244.18,120.44Z" fill="#ffffff" fill-opacity="0.8"/>
<path d="M251.15,148.06A102.3,102.3 0 0 1 246.53,165.29L239.01,162.55A94.3,94.3 0 0 0 243.27,146.68Z" fill="#ffffff" fill-opacity="0.3"/>
<path d="M244.22,171.09A102.3,102.3 0 0 1 243.34,173.05L236.07,169.70A94.3,94.3 0 0 0 236.88,167.90Z" fill="#ffffff" fill-opacity="0.8"/>
<path d="M231.01,193.28A102.3,102.3 0 0 1 223.99,201.36L218.23,195.81A94.3,94.3 0 0 0 224.71,188.36Z" fill="#ffffff" fill-opacity="0.25"/>
<path d="M180.31,228.13A102.3,102.3 0 0 1 178.25,228.73L176.08,221.04A94.3,94.3 0 0 0 177.97,220.48Z" fill="#ffffff" fill-opacity="0.85"/>
<path d="M115.41,226.43A102.3,102.3 0 0 1 102.37,220.63L106.13,213.56A94.3,94.3 0 0 0 118.15,218.91Z" fill="#ffffff" fill-opacity="0.25"/>
<path d="M94.68,216.10A102.3,102.3 0 0 1 75.58,200.07L81.43,194.61A94.3,94.3 0 0 0 99.04,209.39Z" fill="#ffffff" fill-opacity="0.3"/>
<path d="M61.81,181.45A102.3,102.3 0 0 1 55.55,168.62L62.97,165.63A94.3,94.3 0 0 0 68.73,177.45Z" fill="#ffffff" fill-opacity="0.3"/>
<path d="M48.76,141.88A102.3,102.3 0 0 1 48.49,139.22L56.46,138.52A94.3,94.3 0 0 0 56.71,140.98Z" fill="#ffffff" fill-opacity="0.8"/>
<path d="M48.14,127.62A102.3,102.3 0 0 1 48.21,125.48L56.20,125.86A94.3,94.3 0 0 0 56.13,127.83Z" fill="#ffffff" fill-opacity="0.8"/>
<path d="M61.81,79.15A102.3,102.3 0 0 1 115.41,34.17L118.15,41.69A94.3,94.3 0 0 0 68.73,83.15Z" fill="#ffffff" fill-opacity="0.22"/>
<circle cx="150.4" cy="130.3" r="90.15" fill="none" stroke="#e52c2d" stroke-width="8.30"/>
<path d="M165.40,223.40A94.3,94.3 0 0 1 164.78,223.50L163.52,215.29A86.0,86.0 0 0 0 164.08,215.20Z" fill="#f08a8a" fill-opacity="0.35"/>
<path d="M156.83,36.22A94.3,94.3 0 0 1 157.29,36.25L156.68,44.53A86.0,86.0 0 0 0 156.26,44.50Z" fill="#f08a8a" fill-opacity="0.53"/>
<path d="M173.73,221.67A94.3,94.3 0 0 1 173.00,221.85L171.01,213.79A86.0,86.0 0 0 0 171.67,213.63Z" fill="#f6b0b0" fill-opacity="0.50"/>
<path d="M70.36,180.17A94.3,94.3 0 0 1 70.19,179.88L77.25,175.52A86.0,86.0 0 0 0 77.41,175.78Z" fill="#fad6d6" fill-opacity="0.43"/>
<path d="M230.12,180.67A94.3,94.3 0 0 1 229.92,180.98L222.92,176.52A86.0,86.0 0 0 0 223.10,176.24Z" fill="#f6b0b0" fill-opacity="0.33"/>
<path d="M63.40,166.69A94.3,94.3 0 0 1 63.24,166.28L70.91,163.12A86.0,86.0 0 0 0 71.06,163.49Z" fill="#fad6d6" fill-opacity="0.58"/>
<path d="M199.60,49.85A94.3,94.3 0 0 1 200.26,50.26L195.87,57.30A86.0,86.0 0 0 0 195.27,56.93Z" fill="#f6b0b0" fill-opacity="0.33"/>
<path d="M142.79,36.31A94.3,94.3 0 0 1 143.58,36.25L144.18,44.53A86.0,86.0 0 0 0 143.46,44.58Z" fill="#ffffff" fill-opacity="0.53"/>
<path d="M133.50,37.53A94.3,94.3 0 0 1 134.05,37.43L135.49,45.60A86.0,86.0 0 0 0 134.99,45.69Z" fill="#f6b0b0" fill-opacity="0.64"/>
<path d="M88.29,59.34A94.3,94.3 0 0 1 88.72,58.97L94.15,65.25A86.0,86.0 0 0 0 93.76,65.59Z" fill="#ffffff" fill-opacity="0.44"/>
<path d="M196.43,212.60A94.3,94.3 0 0 1 195.91,212.89L191.91,205.62A86.0,86.0 0 0 0 192.38,205.36Z" fill="#fad6d6" fill-opacity="0.51"/>
<path d="M126.29,221.47A94.3,94.3 0 0 1 125.69,221.31L127.87,213.30A86.0,86.0 0 0 0 128.41,213.44Z" fill="#ffffff" fill-opacity="0.64"/>
<path d="M136.41,37.04A94.3,94.3 0 0 1 137.03,36.95L138.21,45.17A86.0,86.0 0 0 0 137.64,45.25Z" fill="#f08a8a" fill-opacity="0.63"/>
<path d="M80.11,67.44A94.3,94.3 0 0 1 80.42,67.09L86.58,72.65A86.0,86.0 0 0 0 86.30,72.97Z" fill="#f08a8a" fill-opacity="0.34"/>
<path d="M244.28,121.41A94.3,94.3 0 0 1 244.32,121.86L236.06,122.61A86.0,86.0 0 0 0 236.02,122.19Z" fill="#f6b0b0" fill-opacity="0.31"/>
<path d="M65.73,88.78A94.3,94.3 0 0 1 65.95,88.33L73.39,92.03A86.0,86.0 0 0 0 73.19,92.43Z" fill="#ffffff" fill-opacity="0.38"/>
<path d="M192.02,214.92A94.3,94.3 0 0 1 191.60,215.12L187.97,207.66A86.0,86.0 0 0 0 188.36,207.47Z" fill="#ffffff" fill-opacity="0.56"/>
<path d="M243.10,113.00A94.3,94.3 0 0 1 243.15,113.29L234.99,114.79A86.0,86.0 0 0 0 234.94,114.53Z" fill="#f08a8a" fill-opacity="0.31"/>
<path d="M243.39,145.96A94.3,94.3 0 0 1 243.32,146.40L235.14,144.98A86.0,86.0 0 0 0 235.21,144.58Z" fill="#ffffff" fill-opacity="0.48"/>
<path d="M219.83,194.12A94.3,94.3 0 0 1 219.52,194.44L213.44,188.80A86.0,86.0 0 0 0 213.71,188.50Z" fill="#fad6d6" fill-opacity="0.47"/>
<path d="M126.23,39.15A94.3,94.3 0 0 1 126.74,39.02L128.82,47.05A86.0,86.0 0 0 0 128.36,47.17Z" fill="#f6b0b0" fill-opacity="0.46"/>
<path d="M121.90,220.19A94.3,94.3 0 0 1 121.57,220.08L124.11,212.18A86.0,86.0 0 0 0 124.41,212.28Z" fill="#f6b0b0" fill-opacity="0.62"/>
<path d="M154.35,36.08A94.3,94.3 0 0 1 154.75,36.10L154.37,44.39A86.0,86.0 0 0 0 154.01,44.38Z" fill="#f08a8a" fill-opacity="0.36"/>
<path d="M59.84,104.02A94.3,94.3 0 0 1 59.99,103.51L67.94,105.87A86.0,86.0 0 0 0 67.81,106.33Z" fill="#f6b0b0" fill-opacity="0.52"/>
<path d="M140.83,36.49A94.3,94.3 0 0 1 141.65,36.41L142.42,44.67A86.0,86.0 0 0 0 141.67,44.74Z" fill="#f6b0b0" fill-opacity="0.31"/>
<path d="M235.10,171.76A94.3,94.3 0 0 1 234.79,172.39L227.36,168.69A86.0,86.0 0 0 0 227.64,168.11Z" fill="#f08a8a" fill-opacity="0.52"/>
<path d="M243.92,118.20A94.3,94.3 0 0 1 243.99,118.74L235.75,119.76A86.0,86.0 0 0 0 235.69,119.26Z" fill="#fad6d6" fill-opacity="0.47"/>
<path d="M225.37,187.50A94.3,94.3 0 0 1 224.98,188.01L218.41,182.93A86.0,86.0 0 0 0 218.77,182.47Z" fill="#fad6d6" fill-opacity="0.61"/>
<path d="M230.69,80.85A94.3,94.3 0 0 1 230.91,81.20L223.83,85.53A86.0,86.0 0 0 0 223.63,85.20Z" fill="#ffffff" fill-opacity="0.40"/>
<path d="M117.85,41.80A94.3,94.3 0 0 1 118.36,41.61L121.18,49.42A86.0,86.0 0 0 0 120.71,49.59Z" fill="#fad6d6" fill-opacity="0.55"/>
<path d="M242.31,109.19A94.3,94.3 0 0 1 242.40,109.59L234.30,111.41A86.0,86.0 0 0 0 234.22,111.05Z" fill="#f08a8a" fill-opacity="0.31"/>
<path d="M152.59,36.03A94.3,94.3 0 0 1 152.85,36.03L152.63,44.33A86.0,86.0 0 0 0 152.39,44.32Z" fill="#f08a8a" fill-opacity="0.45"/>
<path d="M244.56,125.11A94.3,94.3 0 0 1 244.58,125.60L236.29,126.02A86.0,86.0 0 0 0 236.27,125.56Z" fill="#ffffff" fill-opacity="0.50"/>
<path d="M83.83,197.09A94.3,94.3 0 0 1 83.28,196.54L89.19,190.71A86.0,86.0 0 0 0 89.69,191.21Z" fill="#f08a8a" fill-opacity="0.57"/>
<path d="M197.04,212.26A94.3,94.3 0 0 1 196.53,212.55L192.47,205.31A86.0,86.0 0 0 0 192.94,205.04Z" fill="#fad6d6" fill-opacity="0.58"/>
<path d="M104.89,212.89A94.3,94.3 0 0 1 104.49,212.67L108.54,205.42A86.0,86.0 0 0 0 108.89,205.62Z" fill="#f08a8a" fill-opacity="0.52"/>
<path d="M212.74,201.05A94.3,94.3 0 0 1 212.49,201.27L207.02,195.03A86.0,86.0 0 0 0 207.26,194.82Z" fill="#f6b0b0" fill-opacity="0.62"/>
<path d="M60.31,102.44A94.3,94.3 0 0 1 60.54,101.71L68.45,104.23A86.0,86.0 0 0 0 68.24,104.89Z" fill="#fad6d6" fill-opacity="0.49"/>
<path d="M58.93,107.36A94.3,94.3 0 0 1 59.05,106.90L67.09,108.96A86.0,86.0 0 0 0 66.98,109.38Z" fill="#ffffff" fill-opacity="0.55"/>
<path d="M237.84,95.00A94.3,94.3 0 0 1 237.99,95.38L230.28,98.45A86.0,86.0 0 0 0 230.15,98.11Z" fill="#fad6d6" fill-opacity="0.52"/>
<path d="M216.96,63.50A94.3,94.3 0 0 1 217.35,63.90L211.46,69.74A86.0,86.0 0 0 0 211.10,69.38Z" fill="#fad6d6" fill-opacity="0.50"/>
<path d="M191.48,45.42A94.3,94.3 0 0 1 191.88,45.61L188.23,53.07A86.0,86.0 0 0 0 187.86,52.89Z" fill="#ffffff" fill-opacity="0.54"/>
<path d="M223.74,71.02A94.3,94.3 0 0 1 223.93,71.25L217.45,76.45A86.0,86.0 0 0 0 217.28,76.24Z" fill="#f08a8a" fill-opacity="0.41"/>
<path d="M235.65,90.00A94.3,94.3 0 0 1 235.92,90.57L228.40,94.07A86.0,86.0 0 0 0 228.15,93.54Z" fill="#fad6d6" fill-opacity="0.43"/>
<path d="M167.92,37.64A94.3,94.3 0 0 1 168.44,37.74L166.85,45.89A86.0,86.0 0 0 0 166.38,45.80Z" fill="#fad6d6" fill-opacity="0.47"/>
<path d="M183.27,41.91A94.3,94.3 0 0 1 183.82,42.12L180.88,49.88A86.0,86.0 0 0 0 180.38,49.69Z" fill="#fad6d6" fill-opacity="0.38"/>
<path d="M233.75,174.40A94.3,94.3 0 0 1 233.38,175.10L226.08,171.15A86.0,86.0 0 0 0 226.42,170.52Z" fill="#ffffff" fill-opacity="0.64"/>
<path d="M220.55,193.32A94.3,94.3 0 0 1 220.06,193.86L213.93,188.27A86.0,86.0 0 0 0 214.38,187.77Z" fill="#fad6d6" fill-opacity="0.40"/>
<path d="M140.70,224.10A94.3,94.3 0 0 1 140.37,224.07L141.25,215.81A86.0,86.0 0 0 0 141.55,215.84Z" fill="#f08a8a" fill-opacity="0.36"/>
<path d="M171.18,222.28A94.3,94.3 0 0 1 170.60,222.41L168.82,214.30A86.0,86.0 0 0 0 169.36,214.19Z" fill="#f6b0b0" fill-opacity="0.46"/>
<path d="M58.43,109.48A94.3,94.3 0 0 1 58.49,109.21L66.58,111.06A86.0,86.0 0 0 0 66.52,111.31Z" fill="#f6b0b0" fill-opacity="0.44"/>
<path d="M60.93,160.08A94.3,94.3 0 0 1 60.71,159.41L68.60,156.85A86.0,86.0 0 0 0 68.80,157.46Z" fill="#fad6d6" fill-opacity="0.53"/>
<path d="M134.15,37.41A94.3,94.3 0 0 1 134.71,37.31L136.09,45.50A86.0,86.0 0 0 0 135.58,45.59Z" fill="#f08a8a" fill-opacity="0.42"/>
<path d="M56.69,140.79A94.3,94.3 0 0 1 56.64,140.36L64.89,139.48A86.0,86.0 0 0 0 64.93,139.87Z" fill="#fad6d6" fill-opacity="0.61"/>
<path d="M80.64,193.75A94.3,94.3 0 0 1 80.41,193.49L86.57,187.93A86.0,86.0 0 0 0 86.78,188.17Z" fill="#fad6d6" fill-opacity="0.38"/>
<path d="M124.49,220.97A94.3,94.3 0 0 1 124.11,220.86L126.43,212.89A86.0,86.0 0 0 0 126.77,212.99Z" fill="#ffffff" fill-opacity="0.45"/>
<path d="M221.22,192.57A94.3,94.3 0 0 1 220.90,192.93L214.69,187.42A86.0,86.0 0 0 0 214.99,187.09Z" fill="#f08a8a" fill-opacity="0.44"/>
<path d="M82.93,64.42A94.3,94.3 0 0 1 83.46,63.88L89.35,69.72A86.0,86.0 0 0 0 88.87,70.22Z" fill="#f08a8a" fill-opacity="0.35"/>
<path d="M244.54,135.81A94.3,94.3 0 0 1 244.52,136.07L236.24,135.56A86.0,86.0 0 0 0 236.25,135.32Z" fill="#fad6d6" fill-opacity="0.44"/>
<path d="M86.80,199.93A94.3,94.3 0 0 1 86.51,199.66L92.13,193.55A86.0,86.0 0 0 0 92.40,193.80Z" fill="#fad6d6" fill-opacity="0.57"/>
<path d="M154.87,224.49A94.3,94.3 0 0 1 154.08,224.53L153.76,216.23A86.0,86.0 0 0 0 154.48,216.20Z" fill="#f6b0b0" fill-opacity="0.36"/>
<path d="M240.97,104.04A94.3,94.3 0 0 1 241.08,104.42L233.10,106.70A86.0,86.0 0 0 0 233.00,106.35Z" fill="#f08a8a" fill-opacity="0.48"/>
<path d="M181.18,41.17A94.3,94.3 0 0 1 181.87,41.41L179.10,49.23A86.0,86.0 0 0 0 178.47,49.01Z" fill="#f08a8a" fill-opacity="0.64"/>
<path d="M102.42,49.12A94.3,94.3 0 0 1 103.01,48.77L107.18,55.95A86.0,86.0 0 0 0 106.64,56.27Z" fill="#f08a8a" fill-opacity="0.59"/>
<path d="M241.91,107.54A94.3,94.3 0 0 1 242.09,108.27L234.02,110.21A86.0,86.0 0 0 0 233.86,109.55Z" fill="#ffffff" fill-opacity="0.49"/>
<path d="M175.32,39.35A94.3,94.3 0 0 1 176.01,39.54L173.76,47.53A86.0,86.0 0 0 0 173.13,47.36Z" fill="#f6b0b0" fill-opacity="0.36"/>
<path d="M58.27,150.39A94.3,94.3 0 0 1 58.18,149.98L66.29,148.25A86.0,86.0 0 0 0 66.37,148.62Z" fill="#f6b0b0" fill-opacity="0.64"/>
<path d="M57.13,116.43A94.3,94.3 0 0 1 57.21,115.87L65.41,117.14A86.0,86.0 0 0 0 65.34,117.65Z" fill="#ffffff" fill-opacity="0.51"/>
<path d="M206.94,54.83A94.3,94.3 0 0 1 207.45,55.22L202.43,61.82A86.0,86.0 0 0 0 201.96,61.47Z" fill="#f6b0b0" fill-opacity="0.46"/>
<path d="M134.15,223.19A94.3,94.3 0 0 1 133.53,223.08L135.02,214.91A86.0,86.0 0 0 0 135.58,215.01Z" fill="#fad6d6" fill-opacity="0.48"/>
<path d="M79.45,192.42A94.3,94.3 0 0 1 79.11,192.03L85.39,186.59A86.0,86.0 0 0 0 85.69,186.95Z" fill="#fad6d6" fill-opacity="0.60"/>
<path d="M91.56,56.61A94.3,94.3 0 0 1 91.76,56.45L96.92,62.95A86.0,86.0 0 0 0 96.73,63.10Z" fill="#f08a8a" fill-opacity="0.31"/>
<path d="M228.41,77.32A94.3,94.3 0 0 1 228.79,77.89L221.89,82.50A86.0,86.0 0 0 0 221.55,81.99Z" fill="#f08a8a" fill-opacity="0.54"/>
<path d="M124.85,39.53A94.3,94.3 0 0 1 125.46,39.36L127.66,47.36A86.0,86.0 0 0 0 127.10,47.52Z" fill="#fad6d6" fill-opacity="0.49"/>
<path d="M128.47,38.59A94.3,94.3 0 0 1 128.92,38.48L130.81,46.56A86.0,86.0 0 0 0 130.40,46.66Z" fill="#ffffff" fill-opacity="0.59"/>
<path d="M218.86,65.45A94.3,94.3 0 0 1 219.06,65.66L213.01,71.35A86.0,86.0 0 0 0 212.84,71.16Z" fill="#ffffff" fill-opacity="0.45"/>
<path d="M61.85,97.88A94.3,94.3 0 0 1 62.10,97.20L69.87,100.11A86.0,86.0 0 0 0 69.64,100.74Z" fill="#f6b0b0" fill-opacity="0.31"/>
<path d="M63.48,166.88A94.3,94.3 0 0 1 63.26,166.35L70.93,163.18A86.0,86.0 0 0 0 71.13,163.66Z" fill="#ffffff" fill-opacity="0.51"/>
<path d="M101.35,210.84A94.3,94.3 0 0 1 100.74,210.46L105.11,203.41A86.0,86.0 0 0 0 105.66,203.75Z" fill="#f6b0b0" fill-opacity="0.46"/>
<path d="M231.04,179.18A94.3,94.3 0 0 1 230.72,179.71L223.65,175.36A86.0,86.0 0 0 0 223.94,174.88Z" fill="#f08a8a" fill-opacity="0.58"/>
<path d="M210.16,203.24A94.3,94.3 0 0 1 209.68,203.64L204.46,197.18A86.0,86.0 0 0 0 204.90,196.82Z" fill="#f08a8a" fill-opacity="0.63"/>
<path d="M142.54,36.33A94.3,94.3 0 0 1 143.23,36.27L143.86,44.55A86.0,86.0 0 0 0 143.24,44.60Z" fill="#f08a8a" fill-opacity="0.35"/>
<path d="M216.01,62.56A94.3,94.3 0 0 1 216.38,62.93L210.58,68.86A86.0,86.0 0 0 0 210.23,68.52Z" fill="#f6b0b0" fill-opacity="0.53"/>
<path d="M157.82,36.29A94.3,94.3 0 0 1 158.20,36.32L157.51,44.59A86.0,86.0 0 0 0 157.17,44.57Z" fill="#fad6d6" fill-opacity="0.45"/>
<path d="M229.99,180.88A94.3,94.3 0 0 1 229.73,181.28L222.75,176.80A86.0,86.0 0 0 0 222.98,176.43Z" fill="#f08a8a" fill-opacity="0.42"/>
<path d="M214.25,199.70A94.3,94.3 0 0 1 213.70,200.20L208.13,194.05A86.0,86.0 0 0 0 208.63,193.59Z" fill="#fad6d6" fill-opacity="0.42"/>
<path d="M90.03,57.86A94.3,94.3 0 0 1 90.50,57.47L95.77,63.88A86.0,86.0 0 0 0 95.34,64.23Z" fill="#f08a8a" fill-opacity="0.32"/>
<path d="M229.59,181.51A94.3,94.3 0 0 1 229.37,181.84L222.42,177.31A86.0,86.0 0 0 0 222.62,177.00Z" fill="#f6b0b0" fill-opacity="0.59"/>
<path d="M68.86,177.68A94.3,94.3 0 0 1 68.61,177.24L75.81,173.11A86.0,86.0 0 0 0 76.04,173.51Z" fill="#f08a8a" fill-opacity="0.39"/>
<path d="M196.62,212.50A94.3,94.3 0 0 1 196.35,212.65L192.31,205.40A86.0,86.0 0 0 0 192.55,205.26Z" fill="#fad6d6" fill-opacity="0.36"/>
<path d="M122.35,220.33A94.3,94.3 0 0 1 121.79,220.15L124.31,212.25A86.0,86.0 0 0 0 124.82,212.41Z" fill="#f08a8a" fill-opacity="0.43"/>
<path d="M238.11,164.93A94.3,94.3 0 0 1 237.95,165.34L230.24,162.26A86.0,86.0 0 0 0 230.39,161.88Z" fill="#f08a8a" fill-opacity="0.63"/>
<path d="M95.79,207.18A94.3,94.3 0 0 1 95.56,207.01L100.38,200.26A86.0,86.0 0 0 0 100.60,200.41Z" fill="#fad6d6" fill-opacity="0.61"/>
<path d="M115.88,42.55A94.3,94.3 0 0 1 116.44,42.33L119.43,50.07A86.0,86.0 0 0 0 118.92,50.27Z" fill="#f08a8a" fill-opacity="0.60"/>
<path d="M223.75,71.04A94.3,94.3 0 0 1 224.03,71.38L217.55,76.57A86.0,86.0 0 0 0 217.30,76.26Z" fill="#fad6d6" fill-opacity="0.31"/>
<path d="M233.43,175.00A94.3,94.3 0 0 1 233.17,175.49L225.88,171.51A86.0,86.0 0 0 0 226.12,171.06Z" fill="#ffffff" fill-opacity="0.60"/>
<path d="M231.17,81.63A94.3,94.3 0 0 1 231.44,82.08L224.31,86.32A86.0,86.0 0 0 0 224.06,85.91Z" fill="#ffffff" fill-opacity="0.54"/>
<path d="M233.49,85.70A94.3,94.3 0 0 1 233.72,86.14L226.39,90.03A86.0,86.0 0 0 0 226.17,89.63Z" fill="#f08a8a" fill-opacity="0.32"/>
<path d="M63.21,166.22A94.3,94.3 0 0 1 63.07,165.89L70.76,162.75A86.0,86.0 0 0 0 70.88,163.05Z" fill="#f08a8a" fill-opacity="0.52"/>
<path d="M78.82,191.69A94.3,94.3 0 0 1 78.44,191.24L84.77,185.88A86.0,86.0 0 0 0 85.12,186.28Z" fill="#fad6d6" fill-opacity="0.56"/>
<path d="M238.05,165.08A94.3,94.3 0 0 1 237.93,165.38L230.23,162.29A86.0,86.0 0 0 0 230.34,162.02Z" fill="#fad6d6" fill-opacity="0.44"/>
<path d="M170.76,222.37A94.3,94.3 0 0 1 170.32,222.47L168.57,214.36A86.0,86.0 0 0 0 168.97,214.27Z" fill="#f6b0b0" fill-opacity="0.38"/>
<path d="M135.06,223.34A94.3,94.3 0 0 1 134.40,223.23L135.81,215.05A86.0,86.0 0 0 0 136.41,215.15Z" fill="#f08a8a" fill-opacity="0.42"/>
<path d="M238.81,163.12A94.3,94.3 0 0 1 238.71,163.36L230.94,160.45A86.0,86.0 0 0 0 231.02,160.23Z" fill="#f08a8a" fill-opacity="0.44"/>
<path d="M131.10,38.00A94.3,94.3 0 0 1 131.85,37.84L133.49,45.98A86.0,86.0 0 0 0 132.80,46.12Z" fill="#f6b0b0" fill-opacity="0.54"/>
<path d="M138.39,223.83A94.3,94.3 0 0 1 137.82,223.76L138.92,215.53A86.0,86.0 0 0 0 139.45,215.60Z" fill="#f6b0b0" fill-opacity="0.39"/>
<path d="M199.00,211.11A94.3,94.3 0 0 1 198.77,211.25L194.51,204.13A86.0,86.0 0 0 0 194.73,204.00Z" fill="#ffffff" fill-opacity="0.46"/>
<path d="M132.06,222.80A94.3,94.3 0 0 1 131.68,222.72L133.33,214.59A86.0,86.0 0 0 0 133.67,214.66Z" fill="#f6b0b0" fill-opacity="0.34"/>
<path d="M68.31,83.89A94.3,94.3 0 0 1 68.54,83.48L75.75,87.60A86.0,86.0 0 0 0 75.54,87.97Z" fill="#fad6d6" fill-opacity="0.41"/>
<path d="M202.49,51.70A94.3,94.3 0 0 1 202.79,51.89L198.18,58.79A86.0,86.0 0 0 0 197.91,58.61Z" fill="#f6b0b0" fill-opacity="0.43"/>
<path d="M133.44,223.06A94.3,94.3 0 0 1 133.05,222.99L134.58,214.83A86.0,86.0 0 0 0 134.93,214.90Z" fill="#f08a8a" fill-opacity="0.57"/>
<path d="M217.44,63.98A94.3,94.3 0 0 1 217.69,64.24L211.77,70.05A86.0,86.0 0 0 0 211.54,69.82Z" fill="#ffffff" fill-opacity="0.58"/>
<path d="M244.49,136.65A94.3,94.3 0 0 1 244.45,137.20L236.17,136.59A86.0,86.0 0 0 0 236.20,136.09Z" fill="#fad6d6" fill-opacity="0.34"/>
<path d="M86.99,200.10A94.3,94.3 0 0 1 86.73,199.86L92.34,193.74A86.0,86.0 0 0 0 92.57,193.96Z" fill="#ffffff" fill-opacity="0.45"/>
<path d="M163.10,36.86A94.3,94.3 0 0 1 163.63,36.93L162.47,45.15A86.0,86.0 0 0 0 161.99,45.08Z" fill="#f08a8a" fill-opacity="0.59"/>
<path d="M198.39,49.13A94.3,94.3 0 0 1 198.88,49.41L194.61,56.53A86.0,86.0 0 0 0 194.17,56.27Z" fill="#fad6d6" fill-opacity="0.50"/>
<path d="M71.52,78.62A94.3,94.3 0 0 1 71.94,77.99L78.85,82.59A86.0,86.0 0 0 0 78.46,83.17Z" fill="#fad6d6" fill-opacity="0.49"/>
<path d="M73.10,76.29A94.3,94.3 0 0 1 73.36,75.91L80.14,80.70A86.0,86.0 0 0 0 79.90,81.04Z" fill="#f6b0b0" fill-opacity="0.31"/>
<path d="M60.03,103.35A94.3,94.3 0 0 1 60.19,102.83L68.13,105.24A86.0,86.0 0 0 0 67.99,105.73Z" fill="#f08a8a" fill-opacity="0.65"/>
<path d="M243.01,112.55A94.3,94.3 0 0 1 243.10,113.03L234.94,114.55A86.0,86.0 0 0 0 234.86,114.11Z" fill="#fad6d6" fill-opacity="0.48"/>
<path d="M57.46,114.36A94.3,94.3 0 0 1 57.57,113.73L65.74,115.19A86.0,86.0 0 0 0 65.64,115.76Z" fill="#f08a8a" fill-opacity="0.53"/>
<path d="M221.80,191.90A94.3,94.3 0 0 1 221.53,192.21L215.27,186.76A86.0,86.0 0 0 0 215.52,186.47Z" fill="#ffffff" fill-opacity="0.53"/>
<path d="M66.42,87.41A94.3,94.3 0 0 1 66.56,87.13L73.94,90.93A86.0,86.0 0 0 0 73.81,91.18Z" fill="#f6b0b0" fill-opacity="0.32"/>
<path d="M226.80,75.03A94.3,94.3 0 0 1 227.21,75.60L220.45,80.41A86.0,86.0 0 0 0 220.08,79.89Z" fill="#f6b0b0" fill-opacity="0.36"/>
<path d="M66.82,86.64A94.3,94.3 0 0 1 67.16,85.98L74.49,89.88A86.0,86.0 0 0 0 74.17,90.48Z" fill="#f6b0b0" fill-opacity="0.59"/>
<path d="M161.93,36.71A94.3,94.3 0 0 1 162.26,36.75L161.21,44.98A86.0,86.0 0 0 0 160.91,44.95Z" fill="#fad6d6" fill-opacity="0.50"/>
<path d="M60.51,158.81A94.3,94.3 0 0 1 60.31,158.17L68.24,155.71A86.0,86.0 0 0 0 68.43,156.30Z" fill="#f08a8a" fill-opacity="0.56"/>
<path d="M242.38,151.11A94.3,94.3 0 0 1 242.22,151.77L234.14,149.88A86.0,86.0 0 0 0 234.28,149.28Z" fill="#fad6d6" fill-opacity="0.37"/>
<path d="M123.79,39.83A94.3,94.3 0 0 1 124.54,39.62L126.82,47.60A86.0,86.0 0 0 0 126.13,47.80Z" fill="#f08a8a" fill-opacity="0.43"/>
<path d="M202.92,51.98A94.3,94.3 0 0 1 203.36,52.27L198.70,59.14A86.0,86.0 0 0 0 198.30,58.87Z" fill="#fad6d6" fill-opacity="0.42"/>
<path d="M173.91,38.98A94.3,94.3 0 0 1 174.32,39.08L172.22,47.11A86.0,86.0 0 0 0 171.85,47.02Z" fill="#ffffff" fill-opacity="0.40"/>
<path d="M82.47,64.89A94.3,94.3 0 0 1 82.77,64.59L88.72,70.37A86.0,86.0 0 0 0 88.45,70.65Z" fill="#ffffff" fill-opacity="0.62"/>
<path d="M244.48,123.92A94.3,94.3 0 0 1 244.52,124.48L236.24,125.00A86.0,86.0 0 0 0 236.20,124.49Z" fill="#f6b0b0" fill-opacity="0.61"/>
<path d="M199.62,49.86A94.3,94.3 0 0 1 200.30,50.28L195.91,57.33A86.0,86.0 0 0 0 195.29,56.94Z" fill="#f6b0b0" fill-opacity="0.56"/>
<path d="M146.64,36.08A94.3,94.3 0 0 1 147.45,36.05L147.71,44.34A86.0,86.0 0 0 0 146.97,44.37Z" fill="#f08a8a" fill-opacity="0.65"/>
<path d="M68.73,83.15A94.3,94.3 0 0 1 118.15,41.69L120.99,49.49A86.0,86.0 0 0 0 75.92,87.30Z" fill="#ffffff" fill-opacity="0.1"/>
<path d="M177.97,40.12A94.3,94.3 0 0 1 188.76,44.15L185.38,51.74A86.0,86.0 0 0 0 175.54,48.06Z" fill="#ffffff" fill-opacity="0.35"/>
<path d="M240.58,102.73A94.3,94.3 0 0 1 241.40,105.58L233.39,107.75A86.0,86.0 0 0 0 232.64,105.16Z" fill="#ffffff" fill-opacity="0.7"/>
<path d="M244.18,120.44A94.3,94.3 0 0 1 244.30,121.59L236.03,122.36A86.0,86.0 0 0 0 235.93,121.31Z" fill="#ffffff" fill-opacity="0.7"/>
<path d="M236.88,167.90A94.3,94.3 0 0 1 236.07,169.70L228.53,166.24A86.0,86.0 0 0 0 229.27,164.59Z" fill="#ffffff" fill-opacity="0.6"/>
<path d="M177.97,220.48A94.3,94.3 0 0 1 176.08,221.04L173.82,213.05A86.0,86.0 0 0 0 175.54,212.54Z" fill="#ffffff" fill-opacity="0.8"/>
<path d="M99.04,209.39A94.3,94.3 0 0 1 83.72,196.98L89.59,191.11A86.0,86.0 0 0 0 103.56,202.43Z" fill="#ffffff" fill-opacity="0.25"/>
<path d="M56.71,140.98A94.3,94.3 0 0 1 56.46,138.52L64.73,137.80A86.0,86.0 0 0 0 64.95,140.04Z" fill="#ffffff" fill-opacity="0.8"/>
<path d="M56.13,127.83A94.3,94.3 0 0 1 56.20,125.86L64.50,126.25A86.0,86.0 0 0 0 64.43,128.05Z" fill="#ffffff" fill-opacity="0.8"/>
<circle cx="150.4" cy="130.3" r="83.0" fill="none" stroke="#555" stroke-width="0.6" stroke-dasharray="1.2 0.5"/>
<polyline points="150.40,49.17 151.11,49.07 151.82,49.05 152.53,49.00 153.23,49.21 153.94,49.28 154.64,49.35 155.35,49.37 156.07,49.26 156.76,49.45 157.48,49.43 158.17,49.57 158.88,49.63 159.59,49.67 160.31,49.62 161.01,49.74 161.68,50.02 162.39,50.10 163.08,50.24 163.81,50.14 164.52,50.22 165.22,50.34 165.92,50.46 166.61,50.62 167.32,50.71 168.00,50.89 168.66,51.21 169.38,51.25 170.05,51.49 170.75,51.61 171.43,51.82 172.10,52.06 172.77,52.29 173.45,52.48 174.12,52.71 174.78,52.99 175.51,53.02 176.20,53.20 176.89,53.36 177.54,53.65 178.19,53.95 178.87,54.16 179.47,54.57 180.17,54.72 180.81,55.02 181.44,55.37 182.08,55.66 182.77,55.86 183.39,56.20 184.06,56.44 184.73,56.69 185.35,57.03 185.94,57.42 186.61,57.67 187.22,58.03 187.84,58.37 188.46,58.71 189.11,59.01 189.69,59.41 190.38,59.63 191.07,59.86 191.62,60.33 192.26,60.64 192.91,60.94 193.38,61.52 193.96,61.93 194.65,62.16 195.28,62.49 195.85,62.92 196.35,63.45 196.95,63.83 197.61,64.12 198.21,64.49 198.78,64.92 199.24,65.49 199.89,65.81 200.39,66.32 200.99,66.70 201.44,67.27 202.12,67.56 202.64,68.05 203.19,68.49 203.63,69.06 204.22,69.47 204.75,69.93 205.28,70.41 205.76,70.94 206.33,71.36 206.79,71.91 207.26,72.43 207.73,72.97 208.33,73.37 208.73,73.97 209.22,74.49 209.67,75.03 210.26,75.45 210.75,75.96 211.23,76.48 211.58,77.12 212.10,77.60 212.55,78.15 212.95,78.74 213.36,79.32 214.02,79.69 214.32,80.36 214.75,80.92 215.17,81.49 215.67,82.00 215.99,82.65 216.47,83.17 216.87,83.76 217.39,84.26 217.62,84.96 218.04,85.53 218.48,86.09 219.00,86.60 219.30,87.25 219.64,87.87 220.05,88.45 220.33,89.11 220.59,89.78 221.03,90.34 221.51,90.88 221.85,91.50 222.06,92.20 222.46,92.79 222.85,93.38 223.04,94.09 223.40,94.70 223.65,95.36 223.91,96.02 224.21,96.66 224.47,97.32 224.79,97.95 225.00,98.64 225.35,99.26 225.55,99.94 225.98,100.53 226.24,101.19 226.33,101.91 226.74,102.51 226.87,103.22 227.15,103.87 227.41,104.53 227.58,105.22 227.77,105.91 228.01,106.57 228.14,107.27 228.52,107.90 228.56,108.63 228.90,109.27 228.95,109.99 229.11,110.67 229.30,111.36 229.37,112.07 229.52,112.76 229.74,113.44 229.93,114.12 230.21,114.79 230.41,115.47 230.28,116.21 230.47,116.90 230.49,117.62 230.76,118.29 230.77,119.00 231.01,119.69 231.04,120.40 230.98,121.12 230.98,121.83 231.10,122.53 231.36,123.22 231.27,123.94 231.37,124.64 231.40,125.35 231.43,126.05 231.59,126.75 231.49,127.47 231.62,128.17 231.65,128.88 231.75,129.59 231.65,130.30 231.74,131.01 231.61,131.72 231.60,132.43 231.60,133.14 231.64,133.85 231.64,134.56 231.38,135.25 231.27,135.96 231.32,136.67 231.38,137.38 231.26,138.09 231.11,138.78 231.20,139.51 230.97,140.19 230.78,140.88 230.64,141.58 230.52,142.27 230.61,143.00 230.37,143.68 230.40,144.41 230.36,145.12 230.29,145.83 230.12,146.52 229.85,147.19 229.72,147.88 229.63,148.59 229.45,149.28 229.16,149.94 229.08,150.65 228.74,151.29 228.56,151.98 228.57,152.72 228.28,153.37 227.99,154.02 227.91,154.74 227.63,155.39 227.26,156.02 227.00,156.68 226.82,157.36 226.62,158.04 226.56,158.77 226.17,159.38 226.04,160.09 225.81,160.77 225.43,161.38 225.29,162.09 224.98,162.73 224.61,163.34 224.23,163.95 223.96,164.60 223.79,165.31 223.42,165.92 223.00,166.50 222.70,167.14 222.40,167.78 222.01,168.37 221.75,169.04 221.29,169.60 221.12,170.31 220.65,170.86 220.24,171.44 219.99,172.11 219.58,172.69 219.34,173.38 218.91,173.94 218.51,174.53 218.20,175.18 217.67,175.68 217.37,176.32 216.97,176.91 216.50,177.45 216.20,178.11 215.59,178.54 215.31,179.21 214.75,179.68 214.45,180.34 213.88,180.80 213.38,181.30 213.02,181.92 212.69,182.57 212.12,183.01 211.67,183.56 211.24,184.12 210.69,184.59 210.26,185.15 209.68,185.58 209.26,186.15 208.85,186.75 208.29,187.19 207.75,187.65 207.20,188.10 206.81,188.72 206.28,189.19 205.86,189.77 205.33,190.25 204.67,190.58 204.27,191.19 203.78,191.70 203.23,192.15 202.69,192.61 202.11,193.03 201.56,193.48 201.00,193.91 200.42,194.33 199.80,194.67 199.19,195.05 198.72,195.60 198.15,196.02 197.48,196.31 196.98,196.82 196.41,197.25 195.81,197.63 195.27,198.08 194.70,198.52 194.03,198.79 193.48,199.24 192.84,199.56 192.24,199.93 191.60,200.25 191.06,200.73 190.40,200.99 189.84,201.44 189.14,201.65 188.54,202.04 187.96,202.45 187.31,202.74 186.63,202.96 185.94,203.17 185.34,203.55 184.70,203.86 184.11,204.26 183.47,204.58 182.85,204.93 182.14,205.08 181.47,205.30 180.82,205.60 180.19,205.92 179.46,206.01 178.80,206.25 178.12,206.47 177.47,206.75 176.81,206.99 176.20,207.41 175.48,207.47 174.85,207.85 174.13,207.93 173.43,208.06 172.81,208.46 172.08,208.46 171.38,208.60 170.69,208.76 170.00,208.92 169.34,209.17 168.64,209.31 167.95,209.44 167.24,209.54 166.59,209.87 165.87,209.88 165.18,210.02 164.50,210.25 163.82,210.49 163.12,210.58 162.41,210.69 161.71,210.80 161.01,210.92 160.31,211.03 159.59,210.92 158.87,210.90 158.18,211.12 157.48,211.19 156.77,211.26 156.07,211.39 155.35,211.28 154.65,211.43 153.94,211.41 153.23,211.42 152.52,211.39 151.82,211.40 151.11,211.49 150.40,211.52 149.69,211.62 148.98,211.46 148.27,211.53 147.57,211.35 146.86,211.44 146.16,211.29 145.44,211.43 144.72,211.46 144.03,211.22 143.32,211.28 142.62,211.07 141.92,210.98 141.22,210.84 140.51,210.84 139.82,210.67 139.10,210.73 138.39,210.64 137.70,210.49 136.99,210.44 136.31,210.20 135.62,210.07 134.92,209.95 134.24,209.71 133.50,209.79 132.85,209.47 132.17,209.27 131.43,209.30 130.73,209.19 130.06,208.93 129.39,208.72 128.73,208.44 128.07,208.18 127.35,208.11 126.69,207.86 126.02,207.62 125.28,207.60 124.67,207.19 123.99,207.00 123.28,206.89 122.60,206.69 122.00,206.27 121.28,206.15 120.63,205.88 119.96,205.63 119.27,205.46 118.62,205.17 117.99,204.83 117.33,204.57 116.72,204.21 116.07,203.91 115.40,203.68 114.78,203.34 114.18,202.95 113.60,202.52 112.89,202.36 112.30,201.96 111.67,201.63 111.07,201.26 110.42,200.97 109.82,200.59 109.14,200.34 108.55,199.95 107.96,199.56 107.32,199.24 106.77,198.79 106.17,198.41 105.54,198.08 104.94,197.69 104.35,197.30 103.74,196.94 103.21,196.46 102.65,196.02 102.15,195.51 101.59,195.07 101.00,194.68 100.42,194.27 99.78,193.94 99.36,193.32 98.80,192.90 98.17,192.54 97.66,192.05 97.06,191.66 96.64,191.06 96.03,190.69 95.54,190.17 95.01,189.70 94.59,189.11 94.04,188.66 93.44,188.27 92.92,187.78 92.45,187.25 92.00,186.70 91.60,186.10 91.00,185.69 90.54,185.15 90.01,184.68 89.55,184.14 89.13,183.56 88.57,183.11 88.26,182.44 87.66,182.02 87.37,181.34 86.76,180.92 86.37,180.33 85.98,179.73 85.45,179.25 85.09,178.63 84.70,178.04 84.40,177.38 83.84,176.90 83.43,176.32 83.13,175.67 82.80,175.04 82.35,174.49 81.82,173.99 81.42,173.41 81.14,172.74 80.91,172.05 80.38,171.54 80.14,170.86 79.69,170.31 79.37,169.67 78.91,169.11 78.76,168.39 78.31,167.83 77.97,167.20 77.84,166.48 77.43,165.89 77.17,165.23 76.77,164.63 76.37,164.04 76.13,163.37 75.91,162.69 75.62,162.04 75.44,161.35 75.14,160.71 74.97,160.01 74.57,159.41 74.46,158.69 74.12,158.06 73.96,157.37 73.64,156.73 73.53,156.02 73.35,155.34 72.97,154.71 72.69,154.06 72.41,153.40 72.26,152.71 71.98,152.05 72.02,151.30 71.76,150.64 71.57,149.96 71.52,149.24 71.41,148.54 71.24,147.85 71.00,147.18 70.75,146.50 70.61,145.81 70.51,145.11 70.54,144.38 70.28,143.71 70.19,143.00 70.19,142.29 69.98,141.60 69.97,140.89 69.88,140.19 69.76,139.49 69.58,138.79 69.67,138.07 69.56,137.37 69.54,136.66 69.37,135.97 69.25,135.26 69.35,134.55 69.22,133.84 69.24,133.13 69.31,132.42 69.30,131.72 69.22,131.01 69.11,130.30 69.15,129.59 69.35,128.89 69.18,128.17 69.21,127.46 69.29,126.76 69.39,126.05 69.39,125.35 69.35,124.63 69.51,123.93 69.63,123.23 69.50,122.51 69.64,121.81 69.85,121.12 69.73,120.39 69.99,119.71 70.06,119.01 70.08,118.30 70.15,117.59 70.18,116.88 70.49,116.21 70.56,115.50 70.58,114.78 70.81,114.11 70.90,113.40 71.11,112.72 71.21,112.02 71.29,111.31 71.61,110.66 71.72,109.95 71.99,109.29 72.05,108.57 72.24,107.89 72.41,107.20 72.60,106.51 72.89,105.86 73.02,105.16 73.45,104.55 73.62,103.86 73.98,103.24 74.11,102.53 74.29,101.84 74.64,101.22 74.78,100.51 75.11,99.88 75.47,99.26 75.76,98.62 75.95,97.93 76.26,97.29 76.65,96.69 76.90,96.03 77.01,95.29 77.40,94.69 77.68,94.04 78.05,93.44 78.49,92.87 78.71,92.18 79.12,91.60 79.50,91.00 79.73,90.32 80.03,89.67 80.55,89.15 80.72,88.43 81.26,87.93 81.65,87.34 81.99,86.72 82.25,86.04 82.61,85.43 83.00,84.84 83.47,84.30 83.78,83.65 84.35,83.19 84.61,82.50 85.21,82.06 85.66,81.51 85.95,80.85 86.34,80.25 86.79,79.70 87.34,79.23 87.67,78.59 88.17,78.08 88.71,77.62 89.23,77.12 89.51,76.43 90.13,76.04 90.62,75.52 91.07,74.97 91.43,74.34 91.90,73.81 92.38,73.29 92.93,72.83 93.57,72.47 93.97,71.86 94.56,71.46 94.95,70.83 95.42,70.30 96.12,70.01 96.56,69.45 97.17,69.07 97.75,68.66 98.16,68.04 98.75,67.64 99.34,67.24 99.85,66.75 100.49,66.42 101.01,65.93 101.52,65.43 102.03,64.93 102.72,64.67 103.19,64.12 103.88,63.86 104.47,63.48 105.04,63.05 105.65,62.69 106.26,62.33 106.77,61.82 107.39,61.46 108.03,61.15 108.59,60.72 109.25,60.44 109.79,59.96 110.34,59.50 111.02,59.25 111.66,58.95 112.30,58.64 112.93,58.32 113.55,57.99 114.22,57.73 114.85,57.40 115.43,56.98 116.08,56.71 116.78,56.53 117.43,56.25 118.00,55.78 118.68,55.58 119.29,55.20 119.96,54.95 120.62,54.70 121.31,54.52 121.96,54.23 122.64,54.02 123.30,53.76 123.92,53.40 124.66,53.37 125.34,53.18 125.96,52.77 126.61,52.50 127.30,52.31 127.98,52.10 128.72,52.12 129.37,51.82 130.09,51.78 130.74,51.44 131.45,51.35 132.14,51.19 132.82,51.02 133.54,50.96 134.21,50.74 134.89,50.49 135.60,50.44 136.30,50.35 137.01,50.26 137.71,50.20 138.41,50.09 139.09,49.82 139.78,49.63 140.50,49.69 141.21,49.68 141.92,49.61 142.61,49.39 143.33,49.45 144.04,49.46 144.74,49.39 145.45,49.40 146.16,49.36 146.86,49.30 147.57,49.14 148.27,49.00 148.98,49.15 149.69,49.18 150.40,49.10" fill="none" stroke="#9a9a9a" stroke-width="0.45"/>
<circle cx="150.4" cy="130.3" r="78.8" fill="none" stroke="#222" stroke-width="0.9"/>
<path d="M150.40,51.50L150.40,53.30M153.31,51.55L153.28,52.55M156.22,51.72L156.15,52.71M159.12,51.98L159.01,52.98M162.01,52.36L161.87,53.35M164.89,52.84L164.70,53.83M167.74,53.43L167.52,54.41M170.57,54.13L170.31,55.09M173.37,54.92L173.08,55.88M176.14,55.82L175.82,56.77M178.88,56.83L178.23,58.50M181.58,57.93L181.18,58.85M184.23,59.13L183.80,60.03M186.84,60.43L186.38,61.32M189.40,61.83L188.90,62.69M191.90,63.31L191.37,64.16M194.35,64.89L193.79,65.72M196.74,66.56L196.15,67.37M199.06,68.32L198.44,69.11M201.32,70.16L200.67,70.92M203.51,72.09L202.29,73.41M205.62,74.09L204.92,74.80M207.66,76.17L206.94,76.86M209.63,78.32L208.87,78.98M211.51,80.55L210.73,81.18M213.30,82.84L212.51,83.44M215.02,85.20L214.20,85.77M216.64,87.62L215.80,88.16M218.17,90.10L217.31,90.61M219.61,92.63L218.73,93.11M220.96,95.21L219.35,96.02M222.21,97.85L221.30,98.26M223.36,100.52L222.43,100.90M224.41,103.24L223.47,103.58M225.36,105.99L224.41,106.30M226.21,108.78L225.24,109.06M226.95,111.60L225.98,111.84M227.59,114.44L226.61,114.64M228.12,117.31L227.14,117.47M228.55,120.19L227.56,120.32M228.87,123.09L227.08,123.25M229.08,125.99L228.08,126.05M229.19,128.90L228.19,128.92M229.19,131.82L228.19,131.80M229.08,134.73L228.08,134.67M228.86,137.63L227.86,137.54M228.53,140.53L227.54,140.40M228.10,143.41L227.12,143.24M227.56,146.27L226.58,146.07M226.92,149.12L225.95,148.88M226.17,151.93L224.44,151.44M225.32,154.72L224.37,154.41M224.37,157.47L223.43,157.13M223.31,160.19L222.39,159.81M222.16,162.86L221.25,162.45M220.90,165.49L220.01,165.05M219.56,168.08L218.68,167.60M218.11,170.61L217.25,170.10M216.57,173.08L215.74,172.54M214.95,175.50L214.13,174.93M213.23,177.85L211.80,176.77M211.43,180.15L210.66,179.51M209.55,182.37L208.80,181.71M207.58,184.52L206.86,183.83M205.54,186.60L204.84,185.88M203.42,188.60L202.75,187.86M201.23,190.52L200.58,189.75M198.97,192.35L198.35,191.57M196.64,194.11L196.05,193.30M194.25,195.77L193.69,194.94M191.80,197.35L190.85,195.82M189.29,198.83L188.80,197.96M186.73,200.22L186.27,199.34M184.12,201.52L183.69,200.62M181.47,202.72L181.07,201.80M178.77,203.82L178.41,202.88M176.03,204.82L175.70,203.87M173.26,205.71L172.97,204.75M170.45,206.51L170.20,205.54M167.62,207.19L167.40,206.22M164.77,207.78L164.44,206.01M161.89,208.26L161.75,207.27M159.00,208.63L158.90,207.63M156.10,208.89L156.03,207.90M153.19,209.05L153.16,208.05M150.28,209.10L150.28,208.10M147.37,209.04L147.41,208.04M144.46,208.88L144.53,207.88M141.56,208.60L141.67,207.61M138.67,208.22L138.82,207.23M135.80,207.73L136.13,205.97M132.94,207.14L133.16,206.17M130.11,206.44L130.37,205.48M127.31,205.64L127.61,204.69M124.54,204.74L124.87,203.79M121.81,203.73L122.17,202.80M119.11,202.62L119.51,201.71M116.46,201.42L116.89,200.51M113.86,200.11L114.32,199.23M111.30,198.72L111.80,197.85M108.80,197.22L109.75,195.69M106.35,195.64L106.91,194.81M103.97,193.97L104.56,193.16M101.64,192.21L102.26,191.42M99.39,190.36L100.04,189.60M97.20,188.43L97.88,187.70M95.09,186.43L95.79,185.72M93.05,184.34L93.78,183.66M91.09,182.19L91.85,181.53M89.22,179.96L89.99,179.33M87.42,177.66L88.86,176.58M85.72,175.30L86.54,174.73M84.10,172.88L84.94,172.34M82.57,170.40L83.43,169.89M81.13,167.87L82.01,167.39M79.79,165.28L80.69,164.84M78.54,162.65L79.46,162.23M77.40,159.97L78.32,159.59M76.35,157.25L77.29,156.91M75.41,154.49L76.36,154.18M74.56,151.70L76.29,151.21M73.82,148.88L74.79,148.65M73.19,146.04L74.17,145.84M72.66,143.18L73.65,143.01M72.24,140.29L73.23,140.17M71.92,137.40L72.92,137.31M71.71,134.49L72.71,134.44M71.61,131.58L72.61,131.56M71.62,128.66L72.62,128.68M71.73,125.75L72.73,125.81M71.95,122.85L73.75,123.02M72.28,119.95L73.27,120.08M72.72,117.07L73.70,117.24M73.26,114.21L74.24,114.41M73.91,111.37L74.88,111.61M74.66,108.55L75.62,108.83M75.52,105.77L76.47,106.08M76.47,103.02L77.41,103.36M77.53,100.30L78.46,100.68M78.69,97.63L79.60,98.04M79.95,95.00L81.56,95.81M81.30,92.42L82.18,92.90M82.75,89.89L83.61,90.40M84.29,87.42L85.13,87.96M85.92,85.00L86.74,85.58M87.64,82.65L88.44,83.25M89.44,80.36L90.22,81.00M91.33,78.14L92.08,78.80M93.30,75.99L94.02,76.68M95.35,73.92L96.05,74.64M97.47,71.92L98.68,73.26M99.66,70.01L100.31,70.77M101.93,68.17L102.54,68.96M104.26,66.42L104.84,67.23M106.65,64.76L107.20,65.59M109.10,63.19L109.63,64.04M111.61,61.71L112.10,62.58M114.17,60.32L114.63,61.21M116.79,59.03L117.21,59.93M119.44,57.84L119.84,58.75M122.14,56.74L122.79,58.42M124.88,55.75L125.21,56.69M127.66,54.85L127.95,55.81M130.46,54.06L130.71,55.03M133.29,53.38L133.51,54.36M136.15,52.80L136.33,53.78M139.02,52.33L139.17,53.32M141.91,51.96L142.02,52.95M144.82,51.70L144.89,52.70M147.73,51.55L147.76,52.54" stroke="#333" stroke-width="0.55" fill="none"/>
<text x="125.2" y="66.8" text-anchor="middle" class="kb" textLength="21.6" lengthAdjust="spacingAndGlyphs">8000 kbp</text>
<text x="176.4" y="66.8" text-anchor="middle" class="kb" textLength="18.3" lengthAdjust="spacingAndGlyphs">500 kbp</text>
<text x="104.9" y="79.7" text-anchor="middle" class="kb" textLength="21.6" lengthAdjust="spacingAndGlyphs">7500 kbp</text>
<text x="198" y="79.7" text-anchor="middle" class="kb" textLength="21.6" lengthAdjust="spacingAndGlyphs">1000 kbp</text>
<text x="91.9" y="100.3" text-anchor="middle" class="kb" textLength="21.6" lengthAdjust="spacingAndGlyphs">7000 kbp</text>
<text x="210.7" y="100.3" text-anchor="middle" class="kb" textLength="21.6" lengthAdjust="spacingAndGlyphs">1500 kbp</text>
<text x="88" y="124.2" text-anchor="middle" class="kb" textLength="21.6" lengthAdjust="spacingAndGlyphs">6500 kbp</text>
<text x="213.8" y="124.2" text-anchor="middle" class="kb" textLength="21.6" lengthAdjust="spacingAndGlyphs">2000 kbp</text>
<text x="88.7" y="150" text-anchor="middle" class="kb" textLength="21.6" lengthAdjust="spacingAndGlyphs">6000 kbp</text>
<text x="213.5" y="150" text-anchor="middle" class="kb" textLength="21.6" lengthAdjust="spacingAndGlyphs">2500 kbp</text>
<text x="96.9" y="173.6" text-anchor="middle" class="kb" textLength="21.6" lengthAdjust="spacingAndGlyphs">5500 kbp</text>
<text x="204.9" y="173.6" text-anchor="middle" class="kb" textLength="21.6" lengthAdjust="spacingAndGlyphs">3000 kbp</text>
<text x="114.2" y="190.9" text-anchor="middle" class="kb" textLength="21.6" lengthAdjust="spacingAndGlyphs">5000 kbp</text>
<text x="187" y="190.9" text-anchor="middle" class="kb" textLength="21.6" lengthAdjust="spacingAndGlyphs">3500 kbp</text>
<text x="137.4" y="200.5" text-anchor="middle" class="kb" textLength="21.6" lengthAdjust="spacingAndGlyphs">4500 kbp</text>
<text x="163.8" y="200.5" text-anchor="middle" class="kb" textLength="21.6" lengthAdjust="spacingAndGlyphs">4000 kbp</text>
<g fill="none" stroke-width="0.35"><path d="M121.40,11.60L133.40,19.22" stroke="#4a4a4a"/><path d="M131.60,10.00L133.40,19.22" stroke="#4a4a4a"/><path d="M139.80,9.30L133.40,19.22" stroke="#4a4a4a"/><path d="M133.69,21.07L133.40,19.22" stroke="#555"/><path d="M147.90,9.30L162.76,18.35" stroke="#4a4a4a"/><path d="M152.00,9.30L162.76,18.35" stroke="#4a4a4a"/><path d="M162.80,10.00L162.76,18.35" stroke="#4a4a4a"/><path d="M170.90,12.30L162.76,18.35" stroke="#4a4a4a"/><path d="M183.60,15.00L162.76,18.35" stroke="#4a4a4a"/><path d="M162.53,20.47L162.76,18.35" stroke="#555"/><path d="M232.60,46.00L212.68,35.48" stroke="#4a4a4a"/><path d="M228.60,42.60L212.68,35.48" stroke="#4a4a4a"/><path d="M223.60,39.80L212.68,35.48" stroke="#4a4a4a"/><path d="M216.60,34.30L212.68,35.48" stroke="#4a4a4a"/><path d="M213.60,31.30L212.68,35.48" stroke="#4a4a4a"/><path d="M210.60,26.60L212.68,35.48" stroke="#4a4a4a"/><path d="M203.60,23.80L212.68,35.48" stroke="#4a4a4a"/><path d="M211.07,37.94L212.68,35.48" stroke="#555"/><path d="M228.94,52.57L230.87,50.67" stroke="#555"/><path d="M248.60,62.80L241.96,64.99" stroke="#4a4a4a"/><path d="M247.20,59.70L241.96,64.99" stroke="#4a4a4a"/><path d="M245.10,57.00L241.96,64.99" stroke="#4a4a4a"/><path d="M244.10,54.50L241.96,64.99" stroke="#4a4a4a"/><path d="M240.36,66.13L241.96,64.99" stroke="#555"/><path d="M257.60,74.60L247.93,73.54" stroke="#4a4a4a"/><path d="M254.40,71.00L247.93,73.54" stroke="#4a4a4a"/><path d="M252.60,68.60L247.93,73.54" stroke="#4a4a4a"/><path d="M250.60,65.80L247.93,73.54" stroke="#4a4a4a"/><path d="M245.90,74.72L247.93,73.54" stroke="#555"/><path d="M261.60,86.20L255.23,87.73" stroke="#4a4a4a"/><path d="M260.60,83.50L255.23,87.73" stroke="#4a4a4a"/><path d="M259.60,80.80L255.23,87.73" stroke="#4a4a4a"/><path d="M258.60,78.30L255.23,87.73" stroke="#4a4a4a"/><path d="M252.78,88.73L255.23,87.73" stroke="#555"/><path d="M263.60,94.40L257.30,93.91" stroke="#4a4a4a"/><path d="M261.60,89.70L257.30,93.91" stroke="#4a4a4a"/><path d="M255.00,94.69L257.30,93.91" stroke="#555"/><path d="M263.60,102.70L259.43,103.12" stroke="#4a4a4a"/><path d="M263.60,98.00L259.43,103.12" stroke="#4a4a4a"/><path d="M257.62,103.57L259.43,103.12" stroke="#555"/><path d="M266.60,110.40L260.54,108.69" stroke="#4a4a4a"/><path d="M265.60,106.90L260.54,108.69" stroke="#4a4a4a"/><path d="M258.83,109.03L260.54,108.69" stroke="#555"/><path d="M276.10,117.60L261.79,115.64" stroke="#4a4a4a"/><path d="M259.95,115.88L261.79,115.64" stroke="#555"/><path d="M269.30,121.20L263.26,126.36" stroke="#4a4a4a"/><path d="M260.83,126.44L263.26,126.36" stroke="#555"/><path d="M260.88,132.23L262.73,132.26" stroke="#555"/><path d="M259.66,146.82L262.82,147.30" stroke="#555"/><path d="M261.60,168.70L257.92,165.44" stroke="#4a4a4a"/><path d="M263.60,164.00L257.92,165.44" stroke="#4a4a4a"/><path d="M264.60,159.80L257.92,165.44" stroke="#4a4a4a"/><path d="M265.60,156.30L257.92,165.44" stroke="#4a4a4a"/><path d="M266.60,152.00L257.92,165.44" stroke="#4a4a4a"/><path d="M266.60,147.90L257.92,165.44" stroke="#4a4a4a"/><path d="M267.40,143.80L257.92,165.44" stroke="#4a4a4a"/><path d="M267.60,139.60L257.92,165.44" stroke="#4a4a4a"/><path d="M268.30,135.20L257.92,165.44" stroke="#4a4a4a"/><path d="M255.43,164.63L257.92,165.44" stroke="#555"/><path d="M261.00,177.50L255.90,172.71" stroke="#4a4a4a"/><path d="M261.00,173.60L255.90,172.71" stroke="#4a4a4a"/><path d="M252.93,171.52L255.90,172.71" stroke="#555"/><path d="M256.40,184.30L251.53,181.17" stroke="#4a4a4a"/><path d="M259.10,181.00L251.53,181.17" stroke="#4a4a4a"/><path d="M249.12,179.95L251.53,181.17" stroke="#555"/><path d="M250.60,188.00L247.22,187.11" stroke="#4a4a4a"/><path d="M245.71,186.22L247.22,187.11" stroke="#555"/><path d="M248.60,192.20L244.56,192.15" stroke="#4a4a4a"/><path d="M242.76,190.97L244.56,192.15" stroke="#555"/><path d="M244.30,200.40L240.75,196.91" stroke="#4a4a4a"/><path d="M239.34,195.87L240.75,196.91" stroke="#555"/><path d="M238.60,215.50L236.13,204.83" stroke="#4a4a4a"/><path d="M238.60,209.00L236.13,204.83" stroke="#4a4a4a"/><path d="M241.90,204.60L236.13,204.83" stroke="#4a4a4a"/><path d="M233.80,202.79L236.13,204.83" stroke="#555"/><path d="M237.10,221.80L227.78,213.57" stroke="#4a4a4a"/><path d="M238.60,219.20L227.78,213.57" stroke="#4a4a4a"/><path d="M225.62,211.25L227.78,213.57" stroke="#555"/><path d="M212.10,231.00L220.65,218.93" stroke="#4a4a4a"/><path d="M217.60,226.60L220.65,218.93" stroke="#4a4a4a"/><path d="M221.60,222.60L220.65,218.93" stroke="#4a4a4a"/><path d="M226.60,219.70L220.65,218.93" stroke="#4a4a4a"/><path d="M219.04,216.90L220.65,218.93" stroke="#555"/><path d="M193.30,244.90L189.54,236.11" stroke="#4a4a4a"/><path d="M201.60,235.50L189.54,236.11" stroke="#4a4a4a"/><path d="M188.74,233.94L189.54,236.11" stroke="#555"/><path d="M179.60,249.20L180.14,239.01" stroke="#4a4a4a"/><path d="M179.56,236.88L180.14,239.01" stroke="#555"/><path d="M168.00,246.50L171.31,242.05" stroke="#4a4a4a"/><path d="M176.00,252.20L171.31,242.05" stroke="#4a4a4a"/><path d="M171.40,256.40L171.31,242.05" stroke="#4a4a4a"/><path d="M174.90,259.80L171.31,242.05" stroke="#4a4a4a"/><path d="M170.30,263.00L171.31,242.05" stroke="#4a4a4a"/><path d="M170.73,238.91L171.31,242.05" stroke="#555"/><path d="M157.60,251.00L160.59,242.26" stroke="#4a4a4a"/><path d="M157.60,255.70L160.59,242.26" stroke="#4a4a4a"/><path d="M160.41,240.35L160.59,242.26" stroke="#555"/><path d="M149.30,259.50L150.40,243.11" stroke="#4a4a4a"/><path d="M150.40,240.80L150.40,243.11" stroke="#555"/><path d="M141.20,248.30L139.97,242.70" stroke="#4a4a4a"/><path d="M140.19,240.33L139.97,242.70" stroke="#555"/><path d="M130.90,248.30L128.77,241.58" stroke="#4a4a4a"/><path d="M129.32,238.77L128.77,241.58" stroke="#555"/><path d="M120.60,248.80L119.95,239.36" stroke="#4a4a4a"/><path d="M120.68,236.73L119.95,239.36" stroke="#555"/><path d="M109.00,243.50L111.67,236.72" stroke="#4a4a4a"/><path d="M112.50,247.60L111.67,236.72" stroke="#4a4a4a"/><path d="M110.20,251.00L111.67,236.72" stroke="#4a4a4a"/><path d="M110.20,254.50L111.67,236.72" stroke="#4a4a4a"/><path d="M112.61,234.14L111.67,236.72" stroke="#555"/><path d="M94.10,237.30L98.83,231.50" stroke="#4a4a4a"/><path d="M102.10,240.70L98.83,231.50" stroke="#4a4a4a"/><path d="M100.23,228.76L98.83,231.50" stroke="#555"/><path d="M81.40,232.70L87.99,224.59" stroke="#4a4a4a"/><path d="M89.41,222.44L87.99,224.59" stroke="#555"/><path d="M75.60,225.60L82.73,221.75" stroke="#4a4a4a"/><path d="M79.10,229.20L82.73,221.75" stroke="#4a4a4a"/><path d="M84.67,219.13L82.73,221.75" stroke="#555"/><path d="M64.00,219.00L75.40,213.89" stroke="#4a4a4a"/><path d="M69.60,222.40L75.40,213.89" stroke="#4a4a4a"/><path d="M76.60,212.55L75.40,213.89" stroke="#555"/><path d="M61.10,207.70L66.31,205.49" stroke="#4a4a4a"/><path d="M64.80,211.40L66.31,205.49" stroke="#4a4a4a"/><path d="M60.60,215.40L66.31,205.49" stroke="#4a4a4a"/><path d="M68.02,203.95L66.31,205.49" stroke="#555"/><path d="M49.10,191.50L54.50,190.92" stroke="#4a4a4a"/><path d="M50.10,195.60L54.50,190.92" stroke="#4a4a4a"/><path d="M51.90,199.80L54.50,190.92" stroke="#4a4a4a"/><path d="M57.00,189.35L54.50,190.92" stroke="#555"/><path d="M44.40,183.20L49.68,183.18" stroke="#4a4a4a"/><path d="M45.40,187.80L49.68,183.18" stroke="#4a4a4a"/><path d="M52.56,181.67L49.68,183.18" stroke="#555"/><path d="M42.70,174.00L47.27,174.50" stroke="#4a4a4a"/><path d="M42.70,178.70L47.27,174.50" stroke="#4a4a4a"/><path d="M48.84,173.83L47.27,174.50" stroke="#555"/><path d="M37.20,165.40L42.78,166.94" stroke="#4a4a4a"/><path d="M38.10,169.00L42.78,166.94" stroke="#4a4a4a"/><path d="M45.80,165.91L42.78,166.94" stroke="#555"/><path d="M34.40,156.60L41.08,158.57" stroke="#4a4a4a"/><path d="M36.20,161.70L41.08,158.57" stroke="#4a4a4a"/><path d="M43.42,157.97L41.08,158.57" stroke="#555"/><path d="M33.40,142.20L39.40,148.08" stroke="#4a4a4a"/><path d="M33.40,146.50L39.40,148.08" stroke="#4a4a4a"/><path d="M34.40,151.40L39.40,148.08" stroke="#4a4a4a"/><path d="M41.29,147.78L39.40,148.08" stroke="#555"/><path d="M31.70,129.00L36.71,133.87" stroke="#4a4a4a"/><path d="M31.70,132.80L36.71,133.87" stroke="#4a4a4a"/><path d="M32.40,137.40L36.71,133.87" stroke="#4a4a4a"/><path d="M39.95,133.77L36.71,133.87" stroke="#555"/><path d="M32.60,117.20L37.21,120.20" stroke="#4a4a4a"/><path d="M32.60,120.80L37.21,120.20" stroke="#4a4a4a"/><path d="M28.00,124.50L37.21,120.20" stroke="#4a4a4a"/><path d="M40.34,120.48L37.21,120.20" stroke="#555"/><path d="M32.60,108.30L38.42,111.96" stroke="#4a4a4a"/><path d="M32.60,112.00L38.42,111.96" stroke="#4a4a4a"/><path d="M41.35,112.44L38.42,111.96" stroke="#555"/><path d="M35.40,100.00L41.03,102.42" stroke="#4a4a4a"/><path d="M33.50,104.70L41.03,102.42" stroke="#4a4a4a"/><path d="M43.32,103.01L41.03,102.42" stroke="#555"/><path d="M39.00,87.70L42.32,97.46" stroke="#4a4a4a"/><path d="M37.20,92.30L42.32,97.46" stroke="#4a4a4a"/><path d="M36.30,96.30L42.32,97.46" stroke="#4a4a4a"/><path d="M44.67,98.18L42.32,97.46" stroke="#555"/><path d="M41.80,79.00L50.65,78.15" stroke="#4a4a4a"/><path d="M39.90,83.70L50.65,78.15" stroke="#4a4a4a"/><path d="M52.47,79.11L50.65,78.15" stroke="#555"/><path d="M51.90,60.70L57.61,66.53" stroke="#4a4a4a"/><path d="M49.10,64.70L57.61,66.53" stroke="#4a4a4a"/><path d="M47.30,68.00L57.61,66.53" stroke="#4a4a4a"/><path d="M45.40,71.70L57.61,66.53" stroke="#4a4a4a"/><path d="M45.40,75.40L57.61,66.53" stroke="#4a4a4a"/><path d="M59.33,67.71L57.61,66.53" stroke="#555"/><path d="M44.80,40.00L65.98,54.82" stroke="#4a4a4a"/><path d="M45.50,42.80L65.98,54.82" stroke="#4a4a4a"/><path d="M60.60,44.20L65.98,54.82" stroke="#4a4a4a"/><path d="M48.20,47.00L65.98,54.82" stroke="#4a4a4a"/><path d="M53.70,48.30L65.98,54.82" stroke="#4a4a4a"/><path d="M56.40,56.00L65.98,54.82" stroke="#4a4a4a"/><path d="M68.02,56.65L65.98,54.82" stroke="#555"/><path d="M73.00,31.50L76.60,45.40" stroke="#4a4a4a"/><path d="M68.20,35.20L76.60,45.40" stroke="#4a4a4a"/><path d="M63.40,39.30L76.60,45.40" stroke="#4a4a4a"/><path d="M77.91,46.90L76.60,45.40" stroke="#555"/><path d="M85.90,23.80L90.43,34.33" stroke="#4a4a4a"/><path d="M77.90,28.40L90.43,34.33" stroke="#4a4a4a"/><path d="M91.84,36.59L90.43,34.33" stroke="#555"/><path d="M103.00,17.00L98.05,30.16" stroke="#4a4a4a"/><path d="M112.20,14.00L98.05,30.16" stroke="#4a4a4a"/><path d="M94.00,20.80L98.05,30.16" stroke="#4a4a4a"/><path d="M99.21,32.37L98.05,30.16" stroke="#555"/><path d="M187.60,19.00L180.85,21.25" stroke="#e03030"/><path d="M180.12,23.87L180.85,21.25" stroke="#e03030"/><path d="M55.40,204.00L60.00,199.17" stroke="#e03030"/><path d="M62.50,197.26L60.00,199.17" stroke="#e03030"/><path d="M247.60,196.60L231.48,209.42" stroke="#e03030"/><path d="M229.48,207.47L231.48,209.42" stroke="#e03030"/><path d="M269.30,130.40L263.57,141.60" stroke="#e03030"/><path d="M269.30,126.00L263.57,141.60" stroke="#e03030"/><path d="M260.35,141.27L263.57,141.60" stroke="#e03030"/><path d="M239.90,51.00L223.94,44.49" stroke="#e03030"/><path d="M222.31,46.40L223.94,44.49" stroke="#e03030"/></g>
<path d="M134.66,26.23L133.60,19.21M160.87,25.49L161.49,19.21M162.64,25.73L163.30,20.06M206.93,42.03L210.94,35.77M208.59,43.07L212.56,37.12M224.92,56.11L229.53,51.52M235.23,68.89L240.19,65.31M236.01,69.84L242.25,65.43M240.97,77.10L246.56,73.82M242.00,78.39L246.35,75.93M247.20,90.19L252.24,88.10M248.24,91.88L253.24,89.92M250.09,96.09L255.63,94.19M252.05,105.26L257.89,103.82M253.20,110.36L259.68,109.10M254.78,116.54L260.78,115.75M255.37,126.62L261.82,126.39M255.22,132.11L262.55,132.23M254.02,145.57L260.96,146.59M250.89,161.76L257.63,163.87M249.90,163.66L256.04,165.72M247.81,169.23L252.98,171.29M244.09,177.39L249.55,180.13M241.55,183.58L246.63,186.55M237.90,188.26L242.63,191.39M234.94,192.23L239.60,195.64M229.67,198.92L234.71,203.28M222.26,207.35L226.05,211.42M216.57,212.52L220.55,217.47M215.20,213.48L218.57,217.80M186.48,229.06L188.81,235.44M177.79,231.88L179.20,237.10M170.59,233.28L171.69,238.89M169.18,233.40L170.42,240.22M160.14,234.89L160.73,241.18M150.14,235.16L150.12,241.22M141.06,234.70L140.56,240.23M130.63,233.70L129.64,238.89M122.04,231.35L120.04,238.45M115.38,228.91L113.24,234.91M113.85,228.81L111.32,235.62M102.96,224.29L99.78,230.59M92.50,218.45L89.42,223.13M87.41,214.84L83.29,220.38M80.14,208.20L76.50,212.24M72.37,199.96L67.50,204.30M61.54,186.48L56.80,189.48M57.29,179.44L51.69,182.40M53.86,171.18L46.83,174.16M50.45,163.94L45.20,165.70M48.26,156.86L43.87,158.00M46.25,146.56L39.97,147.54M45.02,133.59L39.35,133.77M45.74,121.36L39.36,120.81M46.49,113.36L39.45,112.21M48.94,104.72L41.65,102.88M49.79,99.84L44.83,98.34M57.37,81.94L50.89,78.57M62.78,71.60L57.85,68.30M63.89,70.31L58.60,66.64M71.70,60.76L67.55,57.09M72.69,59.35L67.87,54.94M81.23,50.91L77.51,46.64M94.55,40.97L91.63,36.29M102.06,37.19L99.51,32.28" stroke="#1a1a1a" stroke-width="0.85" fill="none"/>
<path d="M178.43,28.64L179.82,23.60M67.05,193.76L61.84,197.72M218.26,50.52L222.62,45.39" stroke="#e01010" stroke-width="0.9" fill="none"/>
<path d="M225.72,203.79L229.80,207.76M255.31,140.47L259.95,140.92" stroke="#d80c0c" stroke-width="2.2" fill="none"/>
<g fill="#555"><circle cx="85.4" cy="35.6" r="0.35"/><circle cx="216.9" cy="225.2" r="0.35"/><circle cx="79.8" cy="221.2" r="0.35"/><circle cx="245.3" cy="200.6" r="0.35"/><circle cx="111.0" cy="238.5" r="0.35"/><circle cx="42.1" cy="80.9" r="0.35"/><circle cx="197.1" cy="233.3" r="0.35"/><circle cx="261.7" cy="170.6" r="0.35"/><circle cx="251.1" cy="76.5" r="0.35"/><circle cx="40.7" cy="100.4" r="0.35"/><circle cx="57.7" cy="63.4" r="0.35"/><circle cx="225.9" cy="219.1" r="0.35"/><circle cx="226.6" cy="40.7" r="0.35"/><circle cx="194.8" cy="239.2" r="0.35"/><circle cx="37.4" cy="120.3" r="0.35"/><circle cx="44.5" cy="78.4" r="0.35"/><circle cx="266.8" cy="124.2" r="0.35"/><circle cx="262.1" cy="98.2" r="0.35"/><circle cx="35.1" cy="129.0" r="0.35"/><circle cx="127.0" cy="241.7" r="0.35"/><circle cx="61.9" cy="54.1" r="0.35"/><circle cx="51.1" cy="75.4" r="0.35"/><circle cx="36.9" cy="133.6" r="0.35"/><circle cx="110.6" cy="237.6" r="0.35"/><circle cx="84.5" cy="37.7" r="0.35"/><circle cx="170.0" cy="244.5" r="0.35"/><circle cx="224.9" cy="215.8" r="0.35"/><circle cx="47.7" cy="190.1" r="0.35"/><circle cx="241.2" cy="206.3" r="0.35"/><circle cx="247.7" cy="191.0" r="0.35"/><circle cx="183.7" cy="244.4" r="0.35"/><circle cx="35.6" cy="108.8" r="0.35"/><circle cx="178.9" cy="18.2" r="0.35"/><circle cx="161.0" cy="17.4" r="0.35"/><circle cx="230.6" cy="211.9" r="0.35"/><circle cx="221.0" cy="38.2" r="0.35"/><circle cx="34.3" cy="106.3" r="0.35"/><circle cx="92.2" cy="30.5" r="0.35"/><circle cx="257.4" cy="78.6" r="0.35"/><circle cx="203.7" cy="232.3" r="0.35"/><circle cx="46.5" cy="78.0" r="0.35"/><circle cx="115.9" cy="18.3" r="0.35"/><circle cx="112.4" cy="22.9" r="0.35"/><circle cx="109.8" cy="21.4" r="0.35"/><circle cx="42.0" cy="168.1" r="0.35"/><circle cx="265.1" cy="126.1" r="0.35"/><circle cx="254.5" cy="73.1" r="0.35"/><circle cx="228.4" cy="46.6" r="0.35"/><circle cx="65.4" cy="206.6" r="0.35"/><circle cx="261.9" cy="104.4" r="0.35"/><circle cx="262.9" cy="119.0" r="0.35"/><circle cx="33.7" cy="137.6" r="0.35"/><circle cx="260.4" cy="174.0" r="0.35"/><circle cx="108.7" cy="236.8" r="0.35"/><circle cx="125.5" cy="18.7" r="0.35"/><circle cx="40.7" cy="87.2" r="0.35"/><circle cx="152.6" cy="12.2" r="0.35"/><circle cx="205.9" cy="232.2" r="0.35"/><circle cx="111.8" cy="21.2" r="0.35"/><circle cx="263.5" cy="124.4" r="0.35"/><circle cx="74.1" cy="43.3" r="0.35"/><circle cx="37.0" cy="158.5" r="0.35"/><circle cx="135.5" cy="12.6" r="0.35"/><circle cx="104.9" cy="23.6" r="0.35"/><circle cx="89.0" cy="33.2" r="0.35"/><circle cx="232.6" cy="47.3" r="0.35"/><circle cx="171.6" cy="13.4" r="0.35"/><circle cx="253.4" cy="182.7" r="0.35"/><circle cx="261.6" cy="159.5" r="0.35"/><circle cx="122.9" cy="244.9" r="0.35"/></g>
<text x="103.4" y="19.3" text-anchor="start" class="gl">mbtE</text>
<text x="112.6" y="16.3" text-anchor="start" class="gl">mbsE</text>
<text x="121.8" y="13.9" text-anchor="start" class="gl">nodC</text>
<text x="132" y="12.3" text-anchor="start" class="gl">tycC</text>
<text x="140.2" y="11.6" text-anchor="start" class="gl">nodC</text>
<text x="148.3" y="11.6" text-anchor="start" class="gl">lcl</text>
<text x="152.4" y="11.6" text-anchor="start" class="gl">PDIM</text>
<text x="163.2" y="12.3" text-anchor="start" class="gl">mce43</text>
<text x="171.3" y="14.6" text-anchor="start" class="gl">mglt3</text>
<text x="184" y="17.3" text-anchor="start" class="gl">pncC</text>
<text x="188" y="21.3" text-anchor="start" class="gl r">mce operon 7</text>
<text x="94.4" y="23.1" text-anchor="start" class="gl">mycC3</text>
<text x="86.3" y="26.1" text-anchor="start" class="gl">mycP3</text>
<text x="78.3" y="30.7" text-anchor="start" class="gl">eccA1</text>
<text x="73.4" y="33.8" text-anchor="start" class="gl">eccB1</text>
<text x="68.6" y="37.5" text-anchor="start" class="gl">mpxA</text>
<text x="63.8" y="41.6" text-anchor="start" class="gl">mpxR</text>
<text x="45.2" y="42.3" text-anchor="start" class="gl">mbtE</text>
<text x="45.9" y="45.1" text-anchor="start" class="gl">pknG</text>
<text x="61" y="46.5" text-anchor="start" class="gl">cydB</text>
<text x="48.6" y="49.3" text-anchor="start" class="gl">virB</text>
<text x="54.1" y="50.6" text-anchor="start" class="gl">mbtB</text>
<text x="56" y="58.3" text-anchor="end" class="gl">virA</text>
<text x="51.5" y="63.0" text-anchor="end" class="gl">rsgI</text>
<text x="48.7" y="67.0" text-anchor="end" class="gl">mbtB</text>
<text x="46.9" y="70.3" text-anchor="end" class="gl">mbtE</text>
<text x="45" y="74.0" text-anchor="end" class="gl">macD</text>
<text x="45" y="77.7" text-anchor="end" class="gl">ctpV</text>
<text x="41.4" y="81.3" text-anchor="end" class="gl">pmpL</text>
<text x="39.5" y="86.0" text-anchor="end" class="gl">lysA</text>
<text x="38.6" y="90.0" text-anchor="end" class="gl">ruvA</text>
<text x="36.8" y="94.6" text-anchor="end" class="gl">phpC</text>
<text x="35.9" y="98.6" text-anchor="end" class="gl">dsbE</text>
<text x="35" y="102.3" text-anchor="end" class="gl">rsgI</text>
<text x="33.1" y="107.0" text-anchor="end" class="gl">whiB3</text>
<text x="32.2" y="110.6" text-anchor="end" class="gl">isqA</text>
<text x="32.2" y="114.3" text-anchor="end" class="gl">isqB</text>
<text x="32.2" y="119.5" text-anchor="end" class="gl">cyp125</text>
<text x="32.2" y="123.1" text-anchor="end" class="gl">rsgI</text>
<text x="27.6" y="126.8" text-anchor="end" class="gl">devR/devK</text>
<text x="31.3" y="131.3" text-anchor="end" class="gl">panD</text>
<text x="31.3" y="135.1" text-anchor="end" class="gl">panC</text>
<text x="32" y="139.7" text-anchor="end" class="gl">radH</text>
<text x="33" y="144.5" text-anchor="end" class="gl">mbtC</text>
<text x="33" y="148.8" text-anchor="end" class="gl">pchD</text>
<text x="34" y="153.7" text-anchor="end" class="gl">ctpV</text>
<text x="34" y="158.9" text-anchor="end" class="gl">rsgI</text>
<text x="35.8" y="164.0" text-anchor="end" class="gl">smtB</text>
<text x="36.8" y="167.7" text-anchor="end" class="gl">fadE5</text>
<text x="37.7" y="171.3" text-anchor="end" class="gl">rsgI</text>
<text x="42.3" y="176.3" text-anchor="end" class="gl">devR/devK</text>
<text x="42.3" y="181.0" text-anchor="end" class="gl">devS</text>
<text x="44" y="185.5" text-anchor="end" class="gl">ctpV</text>
<text x="45" y="190.1" text-anchor="end" class="gl">ctpV</text>
<text x="48.7" y="193.8" text-anchor="end" class="gl">hupA</text>
<text x="49.7" y="197.9" text-anchor="end" class="gl">mpcFT</text>
<text x="51.5" y="202.1" text-anchor="end" class="gl">ecoC4</text>
<text x="55" y="206.3" text-anchor="end" class="gl r">mce operon 8</text>
<text x="60.7" y="210.0" text-anchor="end" class="gl">PDIM</text>
<text x="64.4" y="213.7" text-anchor="end" class="gl">fadC</text>
<text x="61" y="217.7" text-anchor="start" class="gl">mbtE</text>
<text x="64.4" y="221.3" text-anchor="start" class="gl">mbtB</text>
<text x="70" y="224.7" text-anchor="start" class="gl">clpA</text>
<text x="76" y="227.9" text-anchor="start" class="gl">cysA</text>
<text x="79.5" y="231.5" text-anchor="start" class="gl">virB</text>
<text x="81.8" y="235.0" text-anchor="start" class="gl">devR/devK</text>
<text x="94.5" y="239.6" text-anchor="start" class="gl">devS</text>
<text x="102.5" y="243.0" text-anchor="start" class="gl">rsgM</text>
<text x="109.4" y="245.8" text-anchor="start" class="gl">relA</text>
<text x="112.9" y="249.9" text-anchor="start" class="gl">mprF</text>
<text x="121" y="251.1" text-anchor="start" class="gl">pknG</text>
<text x="110.6" y="253.3" text-anchor="start" class="gl">ecoB3</text>
<text x="110.6" y="256.8" text-anchor="start" class="gl">ecoA3</text>
<text x="131.3" y="250.6" text-anchor="start" class="gl">fadD5</text>
<text x="141.6" y="250.6" text-anchor="start" class="gl">sigA/rpoH</text>
<text x="149.7" y="261.8" text-anchor="start" class="gl">fadD13</text>
<text x="158" y="253.3" text-anchor="start" class="gl">purC</text>
<text x="158" y="258.0" text-anchor="start" class="gl">purF</text>
<text x="168.4" y="248.8" text-anchor="start" class="gl">ecoB3</text>
<text x="180" y="251.5" text-anchor="start" class="gl">mpa ddrA</text>
<text x="176.4" y="254.5" text-anchor="start" class="gl">pqlA</text>
<text x="171.8" y="258.7" text-anchor="start" class="gl">fadD13</text>
<text x="175.3" y="262.1" text-anchor="start" class="gl">fagR</text>
<text x="170.7" y="265.3" text-anchor="start" class="gl">mymA</text>
<text x="193.7" y="247.2" text-anchor="start" class="gl">ecoC</text>
<text x="202" y="237.8" text-anchor="start" class="gl">mymA</text>
<text x="212.5" y="233.3" text-anchor="start" class="gl">fagR</text>
<text x="218" y="228.9" text-anchor="start" class="gl">pntA</text>
<text x="222" y="224.9" text-anchor="start" class="gl">fes</text>
<text x="227" y="222.0" text-anchor="start" class="gl">ddrA</text>
<text x="237.5" y="224.1" text-anchor="start" class="gl">mbtE</text>
<text x="239" y="221.5" text-anchor="start" class="gl">ddrA</text>
<text x="239" y="217.8" text-anchor="start" class="gl">virA</text>
<text x="239" y="211.3" text-anchor="start" class="gl">cnB</text>
<text x="242.3" y="206.9" text-anchor="start" class="gl">mbtC</text>
<text x="244.7" y="202.7" text-anchor="start" class="gl">fadA</text>
<text x="248" y="198.9" text-anchor="start" class="gl r">mbtBDCYE</text>
<text x="249" y="194.5" text-anchor="start" class="gl">narK2</text>
<text x="251" y="190.3" text-anchor="start" class="gl">cspH</text>
<text x="256.8" y="186.6" text-anchor="start" class="gl">ecsF</text>
<text x="259.5" y="183.3" text-anchor="start" class="gl">nirA</text>
<text x="261.4" y="179.8" text-anchor="start" class="gl">glnB</text>
<text x="261.4" y="175.9" text-anchor="start" class="gl">kasA</text>
<text x="262" y="171.0" text-anchor="start" class="gl">napC</text>
<text x="264" y="166.3" text-anchor="start" class="gl">mbtC</text>
<text x="265" y="162.1" text-anchor="start" class="gl">gpsE</text>
<text x="266" y="158.6" text-anchor="start" class="gl">mbtC</text>
<text x="267" y="154.3" text-anchor="start" class="gl">fenuU</text>
<text x="267" y="150.2" text-anchor="start" class="gl">kduA</text>
<text x="267.8" y="146.1" text-anchor="start" class="gl">adaA</text>
<text x="268" y="141.9" text-anchor="start" class="gl">phoP</text>
<text x="268.7" y="137.5" text-anchor="start" class="gl">phoR</text>
<text x="269.7" y="132.7" text-anchor="start" class="gl r">qcrA-FCGBDE</text>
<text x="269.7" y="128.3" text-anchor="start" class="gl r">narGHJI</text>
<text x="269.7" y="123.5" text-anchor="start" class="gl">HsdR</text>
<text x="276.5" y="119.9" text-anchor="start" class="gl">phoR</text>
<text x="267" y="112.7" text-anchor="start" class="gl">nam</text>
<text x="266" y="109.2" text-anchor="start" class="gl">radH</text>
<text x="264" y="105.0" text-anchor="start" class="gl">cyp125</text>
<text x="264" y="100.3" text-anchor="start" class="gl">mptA</text>
<text x="264" y="96.7" text-anchor="start" class="gl">fadD29</text>
<text x="262" y="92.0" text-anchor="start" class="gl">radH</text>
<text x="262" y="88.5" text-anchor="start" class="gl">dacC</text>
<text x="261" y="85.8" text-anchor="start" class="gl">mbtB</text>
<text x="260" y="83.1" text-anchor="start" class="gl">ddrA</text>
<text x="259" y="80.6" text-anchor="start" class="gl">ddrA</text>
<text x="258" y="76.9" text-anchor="start" class="gl">devS</text>
<text x="254.8" y="73.3" text-anchor="start" class="gl">cfa-mtB</text>
<text x="253" y="70.9" text-anchor="start" class="gl">ctpV</text>
<text x="251" y="68.1" text-anchor="start" class="gl">rmlB</text>
<text x="249" y="65.1" text-anchor="start" class="gl">mbtC</text>
<text x="247.6" y="62.0" text-anchor="start" class="gl">lsrB</text>
<text x="245.5" y="59.3" text-anchor="start" class="gl">nopA</text>
<text x="244.5" y="56.8" text-anchor="start" class="gl">katA</text>
<text x="240.3" y="53.3" text-anchor="start" class="gl r">mce operon 3</text>
<text x="233" y="48.3" text-anchor="start" class="gl">glnA1</text>
<text x="229" y="44.9" text-anchor="start" class="gl">cseA</text>
<text x="224" y="42.1" text-anchor="start" class="gl">mbtE</text>
<text x="217" y="36.6" text-anchor="start" class="gl">phpA</text>
<text x="214" y="33.6" text-anchor="start" class="gl">adhD</text>
<text x="211" y="28.9" text-anchor="start" class="gl">cyp125</text>
<text x="204" y="26.1" text-anchor="start" class="gl">lesD</text>
<circle cx="149.6" cy="407.05" r="98.30" fill="none" stroke="#29abe1" stroke-width="8.00"/>
<path d="M237.64,354.95A102.3,102.3 0 0 1 237.99,355.55L231.08,359.58A94.3,94.3 0 0 0 230.75,359.02Z" fill="#9ad6f0" fill-opacity="0.47"/>
<path d="M249.58,385.37A102.3,102.3 0 0 1 249.74,386.12L241.90,387.75A94.3,94.3 0 0 0 241.76,387.07Z" fill="#bfe6f7" fill-opacity="0.48"/>
<path d="M251.51,398.10A102.3,102.3 0 0 1 251.53,398.37L243.56,399.05A94.3,94.3 0 0 0 243.54,398.80Z" fill="#9ad6f0" fill-opacity="0.63"/>
<path d="M194.21,499.11A102.3,102.3 0 0 1 193.88,499.27L190.42,492.06A94.3,94.3 0 0 0 190.72,491.91Z" fill="#bfe6f7" fill-opacity="0.62"/>
<path d="M53.59,442.36A102.3,102.3 0 0 1 53.40,441.85L60.92,439.13A94.3,94.3 0 0 0 61.09,439.60Z" fill="#e0f3fb" fill-opacity="0.52"/>
<path d="M171.33,307.09A102.3,102.3 0 0 1 171.79,307.19L170.06,315.00A94.3,94.3 0 0 0 169.63,314.90Z" fill="#e0f3fb" fill-opacity="0.54"/>
<path d="M67.29,467.79A102.3,102.3 0 0 1 66.78,467.11L73.26,462.41A94.3,94.3 0 0 0 73.72,463.04Z" fill="#ffffff" fill-opacity="0.35"/>
<path d="M56.37,364.95A102.3,102.3 0 0 1 56.51,364.63L63.79,367.95A94.3,94.3 0 0 0 63.66,368.24Z" fill="#ffffff" fill-opacity="0.46"/>
<path d="M116.77,503.94A102.3,102.3 0 0 1 116.31,503.78L118.91,496.22A94.3,94.3 0 0 0 119.33,496.36Z" fill="#e0f3fb" fill-opacity="0.35"/>
<path d="M61.51,459.07A102.3,102.3 0 0 1 61.23,458.58L68.14,454.55A94.3,94.3 0 0 0 68.40,455.00Z" fill="#bfe6f7" fill-opacity="0.33"/>
<path d="M246.36,373.84A102.3,102.3 0 0 1 246.58,374.49L239.00,377.04A94.3,94.3 0 0 0 238.79,376.44Z" fill="#ffffff" fill-opacity="0.34"/>
<path d="M164.76,508.22A102.3,102.3 0 0 1 163.98,508.33L162.86,500.41A94.3,94.3 0 0 0 163.58,500.31Z" fill="#bfe6f7" fill-opacity="0.42"/>
<path d="M230.88,344.94A102.3,102.3 0 0 1 231.25,345.42L224.86,350.24A94.3,94.3 0 0 0 224.53,349.79Z" fill="#9ad6f0" fill-opacity="0.43"/>
<path d="M180.40,504.60A102.3,102.3 0 0 1 179.92,504.75L177.55,497.11A94.3,94.3 0 0 0 177.99,496.97Z" fill="#e0f3fb" fill-opacity="0.44"/>
<path d="M166.77,306.20A102.3,102.3 0 0 1 167.09,306.26L165.72,314.14A94.3,94.3 0 0 0 165.43,314.09Z" fill="#e0f3fb" fill-opacity="0.30"/>
<path d="M193.23,314.52A102.3,102.3 0 0 1 193.81,314.79L190.35,322.01A94.3,94.3 0 0 0 189.81,321.75Z" fill="#bfe6f7" fill-opacity="0.50"/>
<path d="M242.53,449.82A102.3,102.3 0 0 1 242.16,450.61L234.92,447.21A94.3,94.3 0 0 0 235.26,446.47Z" fill="#ffffff" fill-opacity="0.36"/>
<path d="M239.27,357.82A102.3,102.3 0 0 1 239.51,358.24L232.48,362.06A94.3,94.3 0 0 0 232.26,361.67Z" fill="#9ad6f0" fill-opacity="0.42"/>
<path d="M90.92,490.84A102.3,102.3 0 0 1 90.54,490.58L95.16,484.05A94.3,94.3 0 0 0 95.50,484.29Z" fill="#ffffff" fill-opacity="0.36"/>
<path d="M102.09,316.45A102.3,102.3 0 0 1 102.42,316.28L106.11,323.38A94.3,94.3 0 0 0 105.80,323.54Z" fill="#e0f3fb" fill-opacity="0.43"/>
<path d="M56.14,448.65A102.3,102.3 0 0 1 55.86,448.02L63.19,444.81A94.3,94.3 0 0 0 63.45,445.40Z" fill="#bfe6f7" fill-opacity="0.44"/>
<path d="M142.61,304.99A102.3,102.3 0 0 1 143.47,304.93L143.95,312.92A94.3,94.3 0 0 0 143.15,312.97Z" fill="#ffffff" fill-opacity="0.61"/>
<path d="M155.44,509.18A102.3,102.3 0 0 1 154.94,509.21L154.52,501.22A94.3,94.3 0 0 0 154.98,501.20Z" fill="#bfe6f7" fill-opacity="0.63"/>
<path d="M251.87,404.40A102.3,102.3 0 0 1 251.88,405.02L243.88,405.17A94.3,94.3 0 0 0 243.87,404.60Z" fill="#e0f3fb" fill-opacity="0.58"/>
<path d="M48.45,391.73A102.3,102.3 0 0 1 48.54,391.17L56.44,392.41A94.3,94.3 0 0 0 56.36,392.93Z" fill="#9ad6f0" fill-opacity="0.32"/>
<path d="M251.77,412.17A102.3,102.3 0 0 1 251.75,412.62L243.76,412.19A94.3,94.3 0 0 0 243.78,411.77Z" fill="#e0f3fb" fill-opacity="0.39"/>
<path d="M212.54,487.70A102.3,102.3 0 0 1 211.90,488.19L207.03,481.85A94.3,94.3 0 0 0 207.62,481.39Z" fill="#bfe6f7" fill-opacity="0.64"/>
<path d="M47.33,409.72A102.3,102.3 0 0 1 47.32,409.15L55.32,408.99A94.3,94.3 0 0 0 55.33,409.51Z" fill="#9ad6f0" fill-opacity="0.35"/>
<path d="M66.74,467.05A102.3,102.3 0 0 1 66.25,466.37L72.77,461.73A94.3,94.3 0 0 0 73.22,462.36Z" fill="#e0f3fb" fill-opacity="0.31"/>
<path d="M249.01,382.91A102.3,102.3 0 0 1 249.20,383.68L241.41,385.51A94.3,94.3 0 0 0 241.24,384.80Z" fill="#bfe6f7" fill-opacity="0.61"/>
<path d="M88.77,489.30A102.3,102.3 0 0 1 88.34,488.98L93.13,482.57A94.3,94.3 0 0 0 93.52,482.87Z" fill="#e0f3fb" fill-opacity="0.41"/>
<path d="M127.70,506.98A102.3,102.3 0 0 1 127.27,506.88L129.02,499.08A94.3,94.3 0 0 0 129.41,499.16Z" fill="#ffffff" fill-opacity="0.43"/>
<path d="M222.34,335.12A102.3,102.3 0 0 1 222.84,335.63L217.11,341.21A94.3,94.3 0 0 0 216.65,340.74Z" fill="#9ad6f0" fill-opacity="0.51"/>
<path d="M69.22,470.33A102.3,102.3 0 0 1 68.73,469.70L75.05,464.80A94.3,94.3 0 0 0 75.50,465.38Z" fill="#e0f3fb" fill-opacity="0.39"/>
<path d="M206.78,491.88A102.3,102.3 0 0 1 206.06,492.36L201.64,485.69A94.3,94.3 0 0 0 202.31,485.25Z" fill="#bfe6f7" fill-opacity="0.35"/>
<path d="M207.02,322.38A102.3,102.3 0 0 1 207.29,322.57L202.77,329.17A94.3,94.3 0 0 0 202.53,329.00Z" fill="#ffffff" fill-opacity="0.52"/>
<path d="M49.93,384.02A102.3,102.3 0 0 1 50.00,383.71L57.79,385.54A94.3,94.3 0 0 0 57.72,385.82Z" fill="#ffffff" fill-opacity="0.53"/>
<path d="M222.63,335.41A102.3,102.3 0 0 1 223.05,335.84L217.31,341.41A94.3,94.3 0 0 0 216.92,341.01Z" fill="#9ad6f0" fill-opacity="0.44"/>
<path d="M83.38,329.07A102.3,102.3 0 0 1 83.89,328.65L89.03,334.78A94.3,94.3 0 0 0 88.56,335.17Z" fill="#bfe6f7" fill-opacity="0.36"/>
<path d="M220.65,480.65A102.3,102.3 0 0 1 220.13,481.15L214.62,475.35A94.3,94.3 0 0 0 215.09,474.90Z" fill="#ffffff" fill-opacity="0.51"/>
<path d="M146.46,509.30A102.3,102.3 0 0 1 145.73,509.28L146.03,501.28A94.3,94.3 0 0 0 146.71,501.31Z" fill="#ffffff" fill-opacity="0.58"/>
<path d="M154.63,304.87A102.3,102.3 0 0 1 155.18,304.90L154.75,312.89A94.3,94.3 0 0 0 154.23,312.86Z" fill="#ffffff" fill-opacity="0.44"/>
<path d="M107.83,500.43A102.3,102.3 0 0 1 107.10,500.10L110.42,492.83A94.3,94.3 0 0 0 111.10,493.13Z" fill="#bfe6f7" fill-opacity="0.39"/>
<path d="M52.98,440.65A102.3,102.3 0 0 1 52.82,440.21L60.39,437.62A94.3,94.3 0 0 0 60.53,438.02Z" fill="#ffffff" fill-opacity="0.39"/>
<path d="M234.63,350.17A102.3,102.3 0 0 1 235.03,350.78L228.35,355.18A94.3,94.3 0 0 0 227.98,354.62Z" fill="#9ad6f0" fill-opacity="0.59"/>
<path d="M52.94,373.56A102.3,102.3 0 0 1 53.12,373.02L60.67,375.68A94.3,94.3 0 0 0 60.49,376.18Z" fill="#ffffff" fill-opacity="0.49"/>
<path d="M187.29,311.95A102.3,102.3 0 0 1 187.88,312.18L184.89,319.60A94.3,94.3 0 0 0 184.34,319.38Z" fill="#9ad6f0" fill-opacity="0.64"/>
<path d="M244.68,444.80A102.3,102.3 0 0 1 244.42,445.46L237.00,442.45A94.3,94.3 0 0 0 237.24,441.85Z" fill="#bfe6f7" fill-opacity="0.32"/>
<path d="M55.63,366.61A102.3,102.3 0 0 1 55.98,365.80L63.31,369.03A94.3,94.3 0 0 0 62.98,369.77Z" fill="#9ad6f0" fill-opacity="0.32"/>
<path d="M63.94,462.97A102.3,102.3 0 0 1 63.65,462.52L70.37,458.18A94.3,94.3 0 0 0 70.63,458.60Z" fill="#ffffff" fill-opacity="0.53"/>
<path d="M76.56,478.68A102.3,102.3 0 0 1 76.02,478.13L81.78,472.57A94.3,94.3 0 0 0 82.27,473.08Z" fill="#e0f3fb" fill-opacity="0.48"/>
<path d="M116.19,310.36A102.3,102.3 0 0 1 116.85,310.14L119.41,317.71A94.3,94.3 0 0 0 118.80,317.92Z" fill="#e0f3fb" fill-opacity="0.46"/>
<path d="M141.25,509.01A102.3,102.3 0 0 1 140.44,508.94L141.15,500.97A94.3,94.3 0 0 0 141.90,501.04Z" fill="#ffffff" fill-opacity="0.38"/>
<path d="M180.49,309.53A102.3,102.3 0 0 1 181.00,309.69L178.55,317.30A94.3,94.3 0 0 0 178.07,317.15Z" fill="#bfe6f7" fill-opacity="0.40"/>
<path d="M95.11,493.63A102.3,102.3 0 0 1 94.67,493.35L98.96,486.60A94.3,94.3 0 0 0 99.37,486.86Z" fill="#e0f3fb" fill-opacity="0.46"/>
<path d="M251.53,398.34A102.3,102.3 0 0 1 251.57,398.85L243.60,399.49A94.3,94.3 0 0 0 243.56,399.02Z" fill="#e0f3fb" fill-opacity="0.38"/>
<path d="M97.34,319.10A102.3,102.3 0 0 1 97.92,318.76L101.97,325.67A94.3,94.3 0 0 0 101.43,325.98Z" fill="#ffffff" fill-opacity="0.47"/>
<path d="M154.81,509.22A102.3,102.3 0 0 1 154.10,509.25L153.75,501.26A94.3,94.3 0 0 0 154.41,501.23Z" fill="#bfe6f7" fill-opacity="0.57"/>
<path d="M76.45,478.56A102.3,102.3 0 0 1 75.93,478.03L81.69,472.48A94.3,94.3 0 0 0 82.17,472.97Z" fill="#9ad6f0" fill-opacity="0.39"/>
<path d="M98.46,318.45A102.3,102.3 0 0 1 98.90,318.20L102.86,325.15A94.3,94.3 0 0 0 102.46,325.38Z" fill="#e0f3fb" fill-opacity="0.59"/>
<path d="M126.47,307.40A102.3,102.3 0 0 1 127.34,307.20L129.08,315.01A94.3,94.3 0 0 0 128.28,315.19Z" fill="#ffffff" fill-opacity="0.36"/>
<path d="M247.29,376.68A102.3,102.3 0 0 1 247.53,377.46L239.87,379.78A94.3,94.3 0 0 0 239.65,379.06Z" fill="#bfe6f7" fill-opacity="0.33"/>
<path d="M240.84,360.79A102.3,102.3 0 0 1 241.11,361.32L233.95,364.90A94.3,94.3 0 0 0 233.71,364.41Z" fill="#e0f3fb" fill-opacity="0.56"/>
<path d="M173.58,506.50A102.3,102.3 0 0 1 173.25,506.58L171.40,498.80A94.3,94.3 0 0 0 171.70,498.72Z" fill="#bfe6f7" fill-opacity="0.55"/>
<path d="M247.98,379.01A102.3,102.3 0 0 1 248.11,379.47L240.41,381.63A94.3,94.3 0 0 0 240.29,381.21Z" fill="#bfe6f7" fill-opacity="0.39"/>
<path d="M118.75,309.51A102.3,102.3 0 0 1 119.19,309.37L121.57,317.01A94.3,94.3 0 0 0 121.16,317.14Z" fill="#9ad6f0" fill-opacity="0.63"/>
<path d="M128.66,306.92A102.3,102.3 0 0 1 129.48,306.75L131.05,314.59A94.3,94.3 0 0 0 130.30,314.75Z" fill="#bfe6f7" fill-opacity="0.38"/>
<path d="M54.92,445.80A102.3,102.3 0 0 1 54.66,445.14L62.08,442.16A94.3,94.3 0 0 0 62.33,442.77Z" fill="#bfe6f7" fill-opacity="0.63"/>
<path d="M170.68,507.15A102.3,102.3 0 0 1 170.15,507.26L168.54,499.43A94.3,94.3 0 0 0 169.03,499.33Z" fill="#9ad6f0" fill-opacity="0.53"/>
<path d="M60.69,457.64A102.3,102.3 0 0 1 60.36,457.07L67.34,453.16A94.3,94.3 0 0 0 67.64,453.69Z" fill="#ffffff" fill-opacity="0.37"/>
<path d="M124.65,307.84A102.3,102.3 0 0 1 124.93,307.77L126.86,315.53A94.3,94.3 0 0 0 126.60,315.60Z" fill="#9ad6f0" fill-opacity="0.31"/>
<path d="M148.83,509.35A102.3,102.3 0 0 1 148.54,509.34L148.62,501.34A94.3,94.3 0 0 0 148.89,501.35Z" fill="#e0f3fb" fill-opacity="0.55"/>
<path d="M251.71,400.77A102.3,102.3 0 0 1 251.72,401.04L243.74,401.51A94.3,94.3 0 0 0 243.72,401.26Z" fill="#bfe6f7" fill-opacity="0.33"/>
<path d="M244.96,444.09A102.3,102.3 0 0 1 244.76,444.60L237.32,441.67A94.3,94.3 0 0 0 237.50,441.19Z" fill="#ffffff" fill-opacity="0.43"/>
<path d="M226.32,339.37A102.3,102.3 0 0 1 226.82,339.95L220.78,345.20A94.3,94.3 0 0 0 220.32,344.67Z" fill="#e0f3fb" fill-opacity="0.49"/>
<path d="M180.70,309.59A102.3,102.3 0 0 1 181.06,309.71L178.60,317.32A94.3,94.3 0 0 0 178.27,317.21Z" fill="#e0f3fb" fill-opacity="0.61"/>
<path d="M251.83,403.40A102.3,102.3 0 0 1 251.86,404.03L243.86,404.26A94.3,94.3 0 0 0 243.84,403.69Z" fill="#e0f3fb" fill-opacity="0.61"/>
<path d="M160.89,305.38A102.3,102.3 0 0 1 161.52,305.45L160.59,313.39A94.3,94.3 0 0 0 160.01,313.33Z" fill="#ffffff" fill-opacity="0.45"/>
<path d="M60.81,356.24A102.3,102.3 0 0 1 61.25,355.48L68.16,359.51A94.3,94.3 0 0 0 67.75,360.22Z" fill="#bfe6f7" fill-opacity="0.35"/>
<path d="M151.30,509.34A102.3,102.3 0 0 1 150.70,509.34L150.62,501.34A94.3,94.3 0 0 0 151.17,501.34Z" fill="#e0f3fb" fill-opacity="0.46"/>
<path d="M52.33,375.37A102.3,102.3 0 0 1 52.48,374.91L60.07,377.43A94.3,94.3 0 0 0 59.94,377.85Z" fill="#9ad6f0" fill-opacity="0.35"/>
<path d="M249.00,431.23A102.3,102.3 0 0 1 248.84,431.88L241.08,429.93A94.3,94.3 0 0 0 241.23,429.34Z" fill="#ffffff" fill-opacity="0.61"/>
<path d="M193.75,314.77A102.3,102.3 0 0 1 194.03,314.90L190.55,322.11A94.3,94.3 0 0 0 190.29,321.98Z" fill="#ffffff" fill-opacity="0.54"/>
<path d="M244.66,369.26A102.3,102.3 0 0 1 244.82,369.67L237.38,372.59A94.3,94.3 0 0 0 237.23,372.22Z" fill="#ffffff" fill-opacity="0.36"/>
<path d="M97.37,495.01A102.3,102.3 0 0 1 96.99,494.79L101.11,487.93A94.3,94.3 0 0 0 101.45,488.13Z" fill="#e0f3fb" fill-opacity="0.36"/>
<path d="M211.85,325.87A102.3,102.3 0 0 1 212.52,326.39L207.60,332.70A94.3,94.3 0 0 0 206.98,332.22Z" fill="#9ad6f0" fill-opacity="0.44"/>
<path d="M54.28,444.19A102.3,102.3 0 0 1 54.02,443.52L61.50,440.67A94.3,94.3 0 0 0 61.74,441.29Z" fill="#e0f3fb" fill-opacity="0.33"/>
<path d="M59.12,359.31A102.3,102.3 0 0 1 59.31,358.95L66.37,362.71A94.3,94.3 0 0 0 66.20,363.04Z" fill="#ffffff" fill-opacity="0.55"/>
<path d="M86.05,487.22A102.3,102.3 0 0 1 85.53,486.80L90.54,480.57A94.3,94.3 0 0 0 91.02,480.95Z" fill="#bfe6f7" fill-opacity="0.31"/>
<path d="M224.83,476.37A102.3,102.3 0 0 1 224.45,476.79L218.59,471.33A94.3,94.3 0 0 0 218.95,470.95Z" fill="#e0f3fb" fill-opacity="0.58"/>
<path d="M92.83,321.95A102.3,102.3 0 0 1 93.41,321.57L97.80,328.25A94.3,94.3 0 0 0 97.27,328.60Z" fill="#bfe6f7" fill-opacity="0.54"/>
<path d="M67.65,468.29A102.3,102.3 0 0 1 67.27,467.77L73.70,463.02A94.3,94.3 0 0 0 74.06,463.50Z" fill="#ffffff" fill-opacity="0.64"/>
<path d="M214.74,485.93A102.3,102.3 0 0 1 214.07,486.48L209.03,480.26A94.3,94.3 0 0 0 209.64,479.76Z" fill="#9ad6f0" fill-opacity="0.30"/>
<path d="M231.63,468.17A102.3,102.3 0 0 1 231.24,468.69L224.86,463.87A94.3,94.3 0 0 0 225.22,463.39Z" fill="#ffffff" fill-opacity="0.56"/>
<path d="M68.04,468.80A102.3,102.3 0 0 1 67.82,468.51L74.21,463.70A94.3,94.3 0 0 0 74.42,463.97Z" fill="#e0f3fb" fill-opacity="0.37"/>
<path d="M148.35,304.76A102.3,102.3 0 0 1 148.97,304.75L149.02,312.75A94.3,94.3 0 0 0 148.45,312.76Z" fill="#e0f3fb" fill-opacity="0.56"/>
<path d="M80.89,331.26A102.3,102.3 0 0 1 81.25,330.93L86.60,336.88A94.3,94.3 0 0 0 86.26,337.19Z" fill="#ffffff" fill-opacity="0.38"/>
<path d="M89.80,490.05A102.3,102.3 0 0 1 89.40,489.76L94.11,483.30A94.3,94.3 0 0 0 94.47,483.56Z" fill="#9ad6f0" fill-opacity="0.50"/>
<path d="M145.84,304.82A102.3,102.3 0 0 1 146.68,304.79L146.91,312.79A94.3,94.3 0 0 0 146.14,312.81Z" fill="#ffffff" fill-opacity="0.64"/>
<path d="M47.50,413.43A102.3,102.3 0 0 1 47.46,412.70L55.44,412.26A94.3,94.3 0 0 0 55.48,412.93Z" fill="#bfe6f7" fill-opacity="0.62"/>
<path d="M134.85,508.28A102.3,102.3 0 0 1 134.03,508.16L135.25,500.25A94.3,94.3 0 0 0 136.00,500.36Z" fill="#9ad6f0" fill-opacity="0.34"/>
<path d="M251.70,400.66A102.3,102.3 0 0 1 251.73,401.19L243.75,401.65A94.3,94.3 0 0 0 243.72,401.16Z" fill="#e0f3fb" fill-opacity="0.57"/>
<path d="M47.30,406.16A102.3,102.3 0 0 1 47.31,405.49L55.31,405.61A94.3,94.3 0 0 0 55.30,406.23Z" fill="#9ad6f0" fill-opacity="0.36"/>
<path d="M59.07,359.42A102.3,102.3 0 0 1 59.26,359.06L66.32,362.81A94.3,94.3 0 0 0 66.15,363.14Z" fill="#e0f3fb" fill-opacity="0.39"/>
<path d="M125.52,506.48A102.3,102.3 0 0 1 124.98,506.34L126.91,498.58A94.3,94.3 0 0 0 127.40,498.70Z" fill="#ffffff" fill-opacity="0.58"/>
<path d="M237.29,459.73A102.3,102.3 0 0 1 237.01,460.20L230.18,456.04A94.3,94.3 0 0 0 230.43,455.61Z" fill="#9ad6f0" fill-opacity="0.56"/>
<path d="M48.04,419.34A102.3,102.3 0 0 1 47.94,418.46L55.89,417.56A94.3,94.3 0 0 0 55.98,418.38Z" fill="#e0f3fb" fill-opacity="0.35"/>
<path d="M170.50,306.91A102.3,102.3 0 0 1 171.24,307.06L169.55,314.88A94.3,94.3 0 0 0 168.87,314.74Z" fill="#9ad6f0" fill-opacity="0.50"/>
<path d="M148.09,304.76A102.3,102.3 0 0 1 148.48,304.76L148.57,312.76A94.3,94.3 0 0 0 148.21,312.76Z" fill="#bfe6f7" fill-opacity="0.60"/>
<path d="M115.96,503.66A102.3,102.3 0 0 1 115.25,503.41L117.94,495.88A94.3,94.3 0 0 0 118.59,496.10Z" fill="#ffffff" fill-opacity="0.31"/>
<path d="M98.30,318.54A102.3,102.3 0 0 1 98.60,318.37L102.59,325.30A94.3,94.3 0 0 0 102.31,325.46Z" fill="#9ad6f0" fill-opacity="0.46"/>
<path d="M215.08,485.65A102.3,102.3 0 0 1 214.57,486.07L209.49,479.89A94.3,94.3 0 0 0 209.96,479.50Z" fill="#ffffff" fill-opacity="0.60"/>
<path d="M47.30,406.22A102.3,102.3 0 0 1 47.31,405.72L55.31,405.82A94.3,94.3 0 0 0 55.30,406.28Z" fill="#9ad6f0" fill-opacity="0.56"/>
<path d="M175.79,505.94A102.3,102.3 0 0 1 175.46,506.03L173.44,498.29A94.3,94.3 0 0 0 173.75,498.21Z" fill="#bfe6f7" fill-opacity="0.51"/>
<path d="M238.24,458.12A102.3,102.3 0 0 1 237.84,458.81L230.94,454.76A94.3,94.3 0 0 0 231.31,454.13Z" fill="#9ad6f0" fill-opacity="0.39"/>
<path d="M224.12,336.97A102.3,102.3 0 0 1 224.63,337.51L218.76,342.94A94.3,94.3 0 0 0 218.29,342.45Z" fill="#9ad6f0" fill-opacity="0.34"/>
<path d="M80.96,482.90A102.3,102.3 0 0 1 80.46,482.45L85.87,476.55A94.3,94.3 0 0 0 86.33,476.97Z" fill="#bfe6f7" fill-opacity="0.35"/>
<path d="M48.20,393.47A102.3,102.3 0 0 1 48.28,392.90L56.21,394.01A94.3,94.3 0 0 0 56.13,394.54Z" fill="#ffffff" fill-opacity="0.54"/>
<path d="M237.62,459.18A102.3,102.3 0 0 1 237.27,459.76L230.42,455.64A94.3,94.3 0 0 0 230.74,455.11Z" fill="#9ad6f0" fill-opacity="0.30"/>
<path d="M64.19,350.74A102.3,102.3 0 0 1 64.44,350.37L71.10,354.80A94.3,94.3 0 0 0 70.87,355.14Z" fill="#9ad6f0" fill-opacity="0.54"/>
<path d="M202.41,494.66A102.3,102.3 0 0 1 202.11,494.84L198.01,487.98A94.3,94.3 0 0 0 198.28,487.81Z" fill="#ffffff" fill-opacity="0.65"/>
<path d="M251.28,395.81A102.3,102.3 0 0 1 251.36,396.51L243.40,397.34A94.3,94.3 0 0 0 243.33,396.69Z" fill="#e0f3fb" fill-opacity="0.48"/>
<path d="M125.54,307.62A102.3,102.3 0 0 1 126.03,307.50L127.87,315.29A94.3,94.3 0 0 0 127.42,315.39Z" fill="#ffffff" fill-opacity="0.52"/>
<path d="M226.03,475.05A102.3,102.3 0 0 1 225.70,475.41L219.75,470.07A94.3,94.3 0 0 0 220.05,469.74Z" fill="#e0f3fb" fill-opacity="0.52"/>
<path d="M176.96,505.62A102.3,102.3 0 0 1 176.39,505.78L174.29,498.06A94.3,94.3 0 0 0 174.82,497.92Z" fill="#bfe6f7" fill-opacity="0.45"/>
<path d="M251.28,395.81A102.3,102.3 0 0 1 251.37,396.60L243.41,397.42A94.3,94.3 0 0 0 243.33,396.69Z" fill="#e0f3fb" fill-opacity="0.60"/>
<path d="M48.53,391.24A102.3,102.3 0 0 1 48.66,390.42L56.55,391.72A94.3,94.3 0 0 0 56.43,392.48Z" fill="#ffffff" fill-opacity="0.42"/>
<path d="M233.99,349.23A102.3,102.3 0 0 1 234.15,349.46L227.54,353.96A94.3,94.3 0 0 0 227.39,353.75Z" fill="#9ad6f0" fill-opacity="0.41"/>
<path d="M239.75,455.40A102.3,102.3 0 0 1 239.56,455.76L232.53,451.95A94.3,94.3 0 0 0 232.70,451.62Z" fill="#ffffff" fill-opacity="0.46"/>
<path d="M247.26,376.58A102.3,102.3 0 0 1 247.34,376.84L239.69,379.20A94.3,94.3 0 0 0 239.62,378.96Z" fill="#bfe6f7" fill-opacity="0.60"/>
<path d="M250.21,388.52A102.3,102.3 0 0 1 250.27,388.86L242.40,390.28A94.3,94.3 0 0 0 242.34,389.97Z" fill="#ffffff" fill-opacity="0.52"/>
<path d="M220.69,333.49A102.3,102.3 0 0 1 220.94,333.73L215.36,339.46A94.3,94.3 0 0 0 215.13,339.24Z" fill="#bfe6f7" fill-opacity="0.49"/>
<path d="M201.67,318.99A102.3,102.3 0 0 1 202.03,319.21L197.93,326.08A94.3,94.3 0 0 0 197.60,325.88Z" fill="#ffffff" fill-opacity="0.39"/>
<path d="M192.08,500.11A102.3,102.3 0 0 1 191.39,500.43L188.12,493.12A94.3,94.3 0 0 0 188.76,492.83Z" fill="#ffffff" fill-opacity="0.44"/>
<path d="M123.88,308.03A102.3,102.3 0 0 1 124.63,307.84L126.58,315.60A94.3,94.3 0 0 0 125.90,315.78Z" fill="#9ad6f0" fill-opacity="0.61"/>
<path d="M200.15,495.99A102.3,102.3 0 0 1 199.61,496.29L195.70,489.32A94.3,94.3 0 0 0 196.20,489.03Z" fill="#ffffff" fill-opacity="0.61"/>
<path d="M48.22,393.39A102.3,102.3 0 0 1 48.30,392.77L56.22,393.89A94.3,94.3 0 0 0 56.14,394.46Z" fill="#bfe6f7" fill-opacity="0.31"/>
<path d="M70.55,471.98A102.3,102.3 0 0 1 70.07,471.39L76.29,466.36A94.3,94.3 0 0 0 76.73,466.90Z" fill="#9ad6f0" fill-opacity="0.57"/>
<path d="M49.15,426.40A102.3,102.3 0 0 1 49.04,425.82L56.90,424.35A94.3,94.3 0 0 0 57.00,424.89Z" fill="#bfe6f7" fill-opacity="0.40"/>
<path d="M223.69,477.59A102.3,102.3 0 0 1 223.30,478.00L217.53,472.45A94.3,94.3 0 0 0 217.90,472.07Z" fill="#9ad6f0" fill-opacity="0.44"/>
<path d="M52.55,374.70A102.3,102.3 0 0 1 52.65,374.41L60.23,376.97A94.3,94.3 0 0 0 60.14,377.23Z" fill="#9ad6f0" fill-opacity="0.50"/>
<path d="M158.11,509.00A102.3,102.3 0 0 1 157.33,509.06L156.73,501.08A94.3,94.3 0 0 0 157.45,501.02Z" fill="#bfe6f7" fill-opacity="0.56"/>
<path d="M232.12,346.59A102.3,102.3 0 0 1 232.40,346.97L225.92,351.66A94.3,94.3 0 0 0 225.67,351.32Z" fill="#ffffff" fill-opacity="0.39"/>
<path d="M57.82,452.24A102.3,102.3 0 0 1 57.46,451.49L64.66,448.01A94.3,94.3 0 0 0 65.00,448.70Z" fill="#ffffff" fill-opacity="0.43"/>
<path d="M72.95,339.30A102.3,102.3 0 0 1 73.31,338.90L79.27,344.23A94.3,94.3 0 0 0 78.95,344.60Z" fill="#ffffff" fill-opacity="0.52"/>
<path d="M166.48,507.95A102.3,102.3 0 0 1 165.88,508.05L164.60,500.15A94.3,94.3 0 0 0 165.16,500.06Z" fill="#9ad6f0" fill-opacity="0.55"/>
<path d="M179.20,309.13A102.3,102.3 0 0 1 179.83,309.32L177.47,316.96A94.3,94.3 0 0 0 176.89,316.78Z" fill="#9ad6f0" fill-opacity="0.45"/>
<path d="M48.14,393.96A102.3,102.3 0 0 1 48.18,393.68L56.11,394.73A94.3,94.3 0 0 0 56.08,394.98Z" fill="#bfe6f7" fill-opacity="0.36"/>
<path d="M249.80,386.41A102.3,102.3 0 0 1 249.87,386.77L242.03,388.36A94.3,94.3 0 0 0 241.96,388.02Z" fill="#9ad6f0" fill-opacity="0.30"/>
<path d="M48.41,391.99A102.3,102.3 0 0 1 48.53,391.20L56.44,392.44A94.3,94.3 0 0 0 56.33,393.17Z" fill="#e0f3fb" fill-opacity="0.39"/>
<path d="M230.57,469.57A102.3,102.3 0 0 1 230.08,470.20L223.79,465.26A94.3,94.3 0 0 0 224.24,464.68Z" fill="#bfe6f7" fill-opacity="0.40"/>
<path d="M92.49,491.93A102.3,102.3 0 0 1 91.84,491.48L96.36,484.88A94.3,94.3 0 0 0 96.96,485.29Z" fill="#9ad6f0" fill-opacity="0.47"/>
<path d="M239.70,455.49A102.3,102.3 0 0 1 239.31,456.22L232.29,452.37A94.3,94.3 0 0 0 232.66,451.70Z" fill="#bfe6f7" fill-opacity="0.40"/>
<path d="M47.30,407.03A102.3,102.3 0 0 1 47.30,406.33L55.30,406.38A94.3,94.3 0 0 0 55.30,407.03Z" fill="#ffffff" fill-opacity="0.61"/>
<path d="M251.87,404.52A102.3,102.3 0 0 1 251.89,405.41L243.89,405.54A94.3,94.3 0 0 0 243.87,404.72Z" fill="#9ad6f0" fill-opacity="0.50"/>
<path d="M57.34,362.85A102.3,102.3 0 0 1 57.67,362.16L64.86,365.67A94.3,94.3 0 0 0 64.56,366.30Z" fill="#e0f3fb" fill-opacity="0.31"/>
<path d="M101.51,497.34A102.3,102.3 0 0 1 100.77,496.94L104.59,489.91A94.3,94.3 0 0 0 105.27,490.28Z" fill="#bfe6f7" fill-opacity="0.58"/>
<path d="M83.15,484.83A102.3,102.3 0 0 1 82.60,484.35L87.84,478.31A94.3,94.3 0 0 0 88.35,478.75Z" fill="#ffffff" fill-opacity="0.61"/>
<path d="M86.18,326.78A102.3,102.3 0 0 1 86.80,326.29L91.71,332.61A94.3,94.3 0 0 0 91.14,333.05Z" fill="#bfe6f7" fill-opacity="0.47"/>
<path d="M52.00,437.69A102.3,102.3 0 0 1 51.82,437.13L59.47,434.78A94.3,94.3 0 0 0 59.63,435.30Z" fill="#bfe6f7" fill-opacity="0.53"/>
<path d="M192.82,499.77A102.3,102.3 0 0 1 192.20,500.06L188.87,492.78A94.3,94.3 0 0 0 189.44,492.52Z" fill="#9ad6f0" fill-opacity="0.57"/>
<path d="M137.24,508.60A102.3,102.3 0 0 1 136.95,508.56L137.94,500.63A94.3,94.3 0 0 0 138.21,500.66Z" fill="#ffffff" fill-opacity="0.56"/>
<path d="M237.96,355.50A102.3,102.3 0 0 1 238.13,355.79L231.21,359.80A94.3,94.3 0 0 0 231.05,359.53Z" fill="#e0f3fb" fill-opacity="0.32"/>
<path d="M72.15,473.88A102.3,102.3 0 0 1 71.93,473.63L78.00,468.42A94.3,94.3 0 0 0 78.20,468.66Z" fill="#9ad6f0" fill-opacity="0.53"/>
<path d="M76.01,335.98A102.3,102.3 0 0 1 76.33,335.66L82.06,341.24A94.3,94.3 0 0 0 81.77,341.54Z" fill="#e0f3fb" fill-opacity="0.63"/>
<path d="M115.48,503.49A102.3,102.3 0 0 1 115.06,503.34L117.77,495.81A94.3,94.3 0 0 0 118.15,495.95Z" fill="#ffffff" fill-opacity="0.55"/>
<path d="M61.52,355.02A102.3,102.3 0 0 1 61.97,354.26L68.82,358.39A94.3,94.3 0 0 0 68.41,359.09Z" fill="#9ad6f0" fill-opacity="0.46"/>
<path d="M93.45,321.54A102.3,102.3 0 0 1 94.14,321.09L98.47,327.81A94.3,94.3 0 0 0 97.84,328.22Z" fill="#9ad6f0" fill-opacity="0.60"/>
<path d="M226.37,339.44A102.3,102.3 0 0 1 226.69,339.80L220.66,345.06A94.3,94.3 0 0 0 220.37,344.73Z" fill="#9ad6f0" fill-opacity="0.37"/>
<path d="M236.32,352.78A102.3,102.3 0 0 1 236.49,353.06L229.70,357.28A94.3,94.3 0 0 0 229.54,357.03Z" fill="#bfe6f7" fill-opacity="0.30"/>
<path d="M235.82,462.11A102.3,102.3 0 0 1 235.62,462.42L228.89,458.09A94.3,94.3 0 0 0 229.08,457.80Z" fill="#9ad6f0" fill-opacity="0.54"/>
<path d="M146.63,509.31A102.3,102.3 0 0 1 146.33,509.30L146.59,501.30A94.3,94.3 0 0 0 146.86,501.31Z" fill="#ffffff" fill-opacity="0.36"/>
<path d="M104.19,498.72A102.3,102.3 0 0 1 103.64,498.45L107.24,491.30A94.3,94.3 0 0 0 107.74,491.55Z" fill="#bfe6f7" fill-opacity="0.60"/>
<path d="M78.80,480.90A102.3,102.3 0 0 1 78.53,480.64L84.09,474.88A94.3,94.3 0 0 0 84.34,475.12Z" fill="#bfe6f7" fill-opacity="0.33"/>
<path d="M105.21,314.88A102.3,102.3 0 0 1 105.63,314.68L109.07,321.91A94.3,94.3 0 0 0 108.69,322.09Z" fill="#9ad6f0" fill-opacity="0.41"/>
<path d="M48.36,421.72A102.3,102.3 0 0 1 48.29,421.22L56.21,420.11A94.3,94.3 0 0 0 56.27,420.57Z" fill="#9ad6f0" fill-opacity="0.56"/>
<path d="M48.16,420.31A102.3,102.3 0 0 1 48.11,419.89L56.05,418.89A94.3,94.3 0 0 0 56.10,419.27Z" fill="#9ad6f0" fill-opacity="0.38"/>
<path d="M57.40,362.73A102.3,102.3 0 0 1 57.72,362.06L64.91,365.58A94.3,94.3 0 0 0 64.61,366.20Z" fill="#bfe6f7" fill-opacity="0.65"/>
<path d="M200.98,318.59A102.3,102.3 0 0 1 201.74,319.03L197.66,325.92A94.3,94.3 0 0 0 196.97,325.51Z" fill="#e0f3fb" fill-opacity="0.46"/>
<path d="M53.84,443.03A102.3,102.3 0 0 1 53.57,442.32L61.08,439.56A94.3,94.3 0 0 0 61.32,440.21Z" fill="#bfe6f7" fill-opacity="0.55"/>
<path d="M188.30,501.75A102.3,102.3 0 0 1 188.02,501.86L185.02,494.45A94.3,94.3 0 0 0 185.27,494.34Z" fill="#e0f3fb" fill-opacity="0.62"/>
<path d="M201.53,318.91A102.3,102.3 0 0 1 202.14,319.27L198.03,326.14A94.3,94.3 0 0 0 197.47,325.80Z" fill="#e0f3fb" fill-opacity="0.62"/>
<path d="M107.70,313.73A102.3,102.3 0 0 1 108.41,313.41L111.63,320.73A94.3,94.3 0 0 0 110.97,321.02Z" fill="#ffffff" fill-opacity="0.52"/>
<path d="M155.31,304.91A102.3,102.3 0 0 1 156.06,304.95L155.55,312.94A94.3,94.3 0 0 0 154.87,312.90Z" fill="#9ad6f0" fill-opacity="0.48"/>
<path d="M48.91,425.11A102.3,102.3 0 0 1 48.86,424.84L56.74,423.45A94.3,94.3 0 0 0 56.78,423.69Z" fill="#ffffff" fill-opacity="0.61"/>
<path d="M140.74,305.13A102.3,102.3 0 0 1 141.60,305.06L142.23,313.04A94.3,94.3 0 0 0 141.43,313.10Z" fill="#ffffff" fill-opacity="0.50"/>
<path d="M226.99,473.95A102.3,102.3 0 0 1 226.57,474.44L220.55,469.17A94.3,94.3 0 0 0 220.94,468.72Z" fill="#e0f3fb" fill-opacity="0.58"/>
<path d="M156.97,509.08A102.3,102.3 0 0 1 156.54,509.11L156.00,501.13A94.3,94.3 0 0 0 156.40,501.10Z" fill="#9ad6f0" fill-opacity="0.52"/>
<path d="M131.80,306.31A102.3,102.3 0 0 1 132.25,306.23L133.60,314.12A94.3,94.3 0 0 0 133.19,314.19Z" fill="#bfe6f7" fill-opacity="0.36"/>
<path d="M203.84,493.79A102.3,102.3 0 0 1 203.45,494.03L199.24,487.23A94.3,94.3 0 0 0 199.60,487.00Z" fill="#9ad6f0" fill-opacity="0.57"/>
<path d="M213.61,486.85A102.3,102.3 0 0 1 213.03,487.31L208.07,481.03A94.3,94.3 0 0 0 208.60,480.61Z" fill="#9ad6f0" fill-opacity="0.49"/>
<path d="M181.87,309.97A102.3,102.3 0 0 1 182.17,310.07L179.62,317.66A94.3,94.3 0 0 0 179.34,317.56Z" fill="#bfe6f7" fill-opacity="0.61"/>
<path d="M174.98,506.15A102.3,102.3 0 0 1 174.44,506.29L172.49,498.53A94.3,94.3 0 0 0 173.00,498.40Z" fill="#bfe6f7" fill-opacity="0.53"/>
<path d="M166.76,507.90A102.3,102.3 0 0 1 166.02,508.02L164.73,500.13A94.3,94.3 0 0 0 165.42,500.01Z" fill="#9ad6f0" fill-opacity="0.41"/>
<path d="M94.97,493.54A102.3,102.3 0 0 1 94.49,493.23L98.80,486.49A94.3,94.3 0 0 0 99.24,486.78Z" fill="#e0f3fb" fill-opacity="0.56"/>
<path d="M73.81,475.76A102.3,102.3 0 0 1 73.24,475.13L79.21,469.81A94.3,94.3 0 0 0 79.74,470.39Z" fill="#9ad6f0" fill-opacity="0.37"/>
<path d="M242.07,363.30A102.3,102.3 0 0 1 242.33,363.85L235.08,367.22A94.3,94.3 0 0 0 234.84,366.72Z" fill="#bfe6f7" fill-opacity="0.33"/>
<path d="M48.71,423.98A102.3,102.3 0 0 1 48.64,423.56L56.54,422.26A94.3,94.3 0 0 0 56.60,422.66Z" fill="#e0f3fb" fill-opacity="0.45"/>
<path d="M127.27,506.88A102.3,102.3 0 0 1 126.85,506.79L128.63,498.99A94.3,94.3 0 0 0 129.01,499.08Z" fill="#9ad6f0" fill-opacity="0.33"/>
<path d="M86.91,487.89A102.3,102.3 0 0 1 86.30,487.41L91.25,481.13A94.3,94.3 0 0 0 91.81,481.57Z" fill="#ffffff" fill-opacity="0.60"/>
<path d="M110.06,501.40A102.3,102.3 0 0 1 109.78,501.28L112.89,493.91A94.3,94.3 0 0 0 113.15,494.02Z" fill="#bfe6f7" fill-opacity="0.54"/>
<path d="M142.86,509.13A102.3,102.3 0 0 1 142.25,509.09L142.83,501.11A94.3,94.3 0 0 0 143.39,501.15Z" fill="#bfe6f7" fill-opacity="0.52"/>
<path d="M52.60,439.55A102.3,102.3 0 0 1 52.32,438.71L59.93,436.23A94.3,94.3 0 0 0 60.19,437.01Z" fill="#e0f3fb" fill-opacity="0.39"/>
<path d="M53.93,443.27A102.3,102.3 0 0 1 53.74,442.76L61.23,439.97A94.3,94.3 0 0 0 61.41,440.43Z" fill="#ffffff" fill-opacity="0.55"/>
<path d="M129.47,306.75A102.3,102.3 0 0 1 129.99,306.65L131.53,314.50A94.3,94.3 0 0 0 131.05,314.59Z" fill="#9ad6f0" fill-opacity="0.63"/>
<path d="M75.19,477.25A102.3,102.3 0 0 1 74.64,476.67L80.50,471.22A94.3,94.3 0 0 0 81.01,471.76Z" fill="#e0f3fb" fill-opacity="0.40"/>
<path d="M47.91,418.25A102.3,102.3 0 0 1 47.87,417.84L55.83,417.00A94.3,94.3 0 0 0 55.87,417.37Z" fill="#9ad6f0" fill-opacity="0.39"/>
<path d="M124.62,307.85A102.3,102.3 0 0 1 125.20,307.70L127.11,315.47A94.3,94.3 0 0 0 126.57,315.60Z" fill="#ffffff" fill-opacity="0.39"/>
<path d="M236.16,352.52A102.3,102.3 0 0 1 236.59,353.22L229.79,357.43A94.3,94.3 0 0 0 229.39,356.79Z" fill="#bfe6f7" fill-opacity="0.34"/>
<path d="M64.92,464.45A102.3,102.3 0 0 1 64.45,463.75L71.11,459.32A94.3,94.3 0 0 0 71.54,459.96Z" fill="#bfe6f7" fill-opacity="0.57"/>
<path d="M240.07,359.30A102.3,102.3 0 0 1 240.37,359.86L233.27,363.55A94.3,94.3 0 0 0 233.00,363.03Z" fill="#ffffff" fill-opacity="0.31"/>
<path d="M182.02,310.02A102.3,102.3 0 0 1 182.67,310.24L180.08,317.81A94.3,94.3 0 0 0 179.48,317.61Z" fill="#bfe6f7" fill-opacity="0.36"/>
<path d="M211.32,488.63A102.3,102.3 0 0 1 210.70,489.10L205.92,482.68A94.3,94.3 0 0 0 206.50,482.25Z" fill="#e0f3fb" fill-opacity="0.57"/>
<path d="M137.72,305.44A102.3,102.3 0 0 1 138.07,305.40L138.98,313.35A94.3,94.3 0 0 0 138.65,313.39Z" fill="#e0f3fb" fill-opacity="0.53"/>
<path d="M182.52,503.91A102.3,102.3 0 0 1 182.02,504.08L179.49,496.49A94.3,94.3 0 0 0 179.94,496.34Z" fill="#e0f3fb" fill-opacity="0.42"/>
<path d="M59.33,455.18A102.3,102.3 0 0 1 59.15,454.83L66.22,451.10A94.3,94.3 0 0 0 66.39,451.42Z" fill="#bfe6f7" fill-opacity="0.33"/>
<path d="M137.02,305.53A102.3,102.3 0 0 1 137.31,305.49L138.27,313.43A94.3,94.3 0 0 0 138.00,313.47Z" fill="#e0f3fb" fill-opacity="0.58"/>
<path d="M236.97,460.27A102.3,102.3 0 0 1 236.70,460.71L229.89,456.52A94.3,94.3 0 0 0 230.13,456.11Z" fill="#e0f3fb" fill-opacity="0.40"/>
<path d="M54.93,368.27A102.3,102.3 0 0 1 55.26,367.49L62.63,370.59A94.3,94.3 0 0 0 62.34,371.30Z" fill="#ffffff" fill-opacity="0.56"/>
<path d="M133.84,305.97A102.3,102.3 0 0 1 134.43,305.88L135.62,313.79A94.3,94.3 0 0 0 135.08,313.88Z" fill="#9ad6f0" fill-opacity="0.35"/>
<path d="M139.07,508.81A102.3,102.3 0 0 1 138.75,508.77L139.60,500.82A94.3,94.3 0 0 0 139.90,500.85Z" fill="#ffffff" fill-opacity="0.46"/>
<path d="M203.41,494.06A102.3,102.3 0 0 1 202.94,494.34L198.77,487.52A94.3,94.3 0 0 0 199.20,487.25Z" fill="#e0f3fb" fill-opacity="0.57"/>
<path d="M81.49,330.72A102.3,102.3 0 0 1 82.07,330.21L87.35,336.22A94.3,94.3 0 0 0 86.82,336.69Z" fill="#e0f3fb" fill-opacity="0.39"/>
<path d="M94.24,321.02A102.3,102.3 0 0 1 94.87,320.62L99.15,327.38A94.3,94.3 0 0 0 98.57,327.75Z" fill="#9ad6f0" fill-opacity="0.38"/>
<path d="M251.52,415.81A102.3,102.3 0 0 1 251.47,416.43L243.50,415.70A94.3,94.3 0 0 0 243.55,415.12Z" fill="#e0f3fb" fill-opacity="0.38"/>
<path d="M111.48,312.12A102.3,102.3 0 0 1 112.16,311.85L115.09,319.29A94.3,94.3 0 0 0 114.46,319.54Z" fill="#e0f3fb" fill-opacity="0.43"/>
<path d="M235.13,463.18A102.3,102.3 0 0 1 234.65,463.89L228.00,459.45A94.3,94.3 0 0 0 228.44,458.79Z" fill="#bfe6f7" fill-opacity="0.41"/>
<path d="M63.60,351.66A102.3,102.3 0 0 1 63.84,351.28L70.54,355.64A94.3,94.3 0 0 0 70.32,355.99Z" fill="#9ad6f0" fill-opacity="0.54"/>
<path d="M166.33,306.13A102.3,102.3 0 0 1 166.98,306.24L165.62,314.12A94.3,94.3 0 0 0 165.02,314.02Z" fill="#9ad6f0" fill-opacity="0.32"/>
<path d="M218.41,331.35A102.3,102.3 0 0 1 218.84,331.74L213.43,337.63A94.3,94.3 0 0 0 213.03,337.27Z" fill="#e0f3fb" fill-opacity="0.41"/>
<path d="M148.35,304.76A102.3,102.3 0 0 1 149.78,304.75L149.76,312.75A94.3,94.3 0 0 0 148.45,312.76Z" fill="#ffffff" fill-opacity="0.9"/>
<path d="M191.21,313.59A102.3,102.3 0 0 1 196.04,315.90L192.41,323.03A94.3,94.3 0 0 0 187.96,320.90Z" fill="#ffffff" fill-opacity="0.4"/>
<path d="M230.21,344.07A102.3,102.3 0 0 1 236.36,352.84L229.57,357.08A94.3,94.3 0 0 0 223.91,348.99Z" fill="#ffffff" fill-opacity="0.35"/>
<path d="M245.73,372.06A102.3,102.3 0 0 1 246.61,374.59L239.03,377.13A94.3,94.3 0 0 0 238.21,374.80Z" fill="#ffffff" fill-opacity="0.6"/>
<path d="M250.72,391.58A102.3,102.3 0 0 1 250.88,392.64L242.96,393.76A94.3,94.3 0 0 0 242.81,392.79Z" fill="#ffffff" fill-opacity="0.8"/>
<path d="M251.34,396.36A102.3,102.3 0 0 1 251.45,397.42L243.48,398.18A94.3,94.3 0 0 0 243.38,397.19Z" fill="#ffffff" fill-opacity="0.7"/>
<path d="M245.11,443.71A102.3,102.3 0 0 1 243.06,448.66L235.75,445.41A94.3,94.3 0 0 0 237.64,440.84Z" fill="#ffffff" fill-opacity="0.35"/>
<path d="M223.19,478.11A102.3,102.3 0 0 1 216.71,484.26L211.47,478.22A94.3,94.3 0 0 0 217.43,472.56Z" fill="#ffffff" fill-opacity="0.35"/>
<path d="M182.57,503.89A102.3,102.3 0 0 1 180.53,504.56L178.11,496.94A94.3,94.3 0 0 0 179.99,496.32Z" fill="#ffffff" fill-opacity="0.8"/>
<path d="M160.29,508.79A102.3,102.3 0 0 1 159.23,508.90L158.47,500.93A94.3,94.3 0 0 0 159.46,500.83Z" fill="#ffffff" fill-opacity="0.8"/>
<path d="M101.57,497.38A102.3,102.3 0 0 1 99.69,496.35L103.59,489.37A94.3,94.3 0 0 0 105.33,490.31Z" fill="#ffffff" fill-opacity="0.8"/>
<path d="M82.49,484.26A102.3,102.3 0 0 1 76.01,478.11L81.77,472.56A94.3,94.3 0 0 0 87.73,478.22Z" fill="#ffffff" fill-opacity="0.3"/>
<path d="M59.27,455.08A102.3,102.3 0 0 1 54.75,445.37L62.17,442.38A94.3,94.3 0 0 0 66.34,451.32Z" fill="#ffffff" fill-opacity="0.25"/>
<path d="M47.51,413.65A102.3,102.3 0 0 1 47.44,412.40L55.43,411.99A94.3,94.3 0 0 0 55.50,413.14Z" fill="#ffffff" fill-opacity="0.9"/>
<path d="M47.30,406.16A102.3,102.3 0 0 1 47.32,405.09L55.32,405.24A94.3,94.3 0 0 0 55.30,406.23Z" fill="#ffffff" fill-opacity="0.8"/>
<path d="M48.42,391.93A102.3,102.3 0 0 1 48.70,390.17L56.59,391.49A94.3,94.3 0 0 0 56.34,393.11Z" fill="#ffffff" fill-opacity="0.5"/>
<path d="M52.59,374.59A102.3,102.3 0 0 1 53.29,372.57L60.82,375.26A94.3,94.3 0 0 0 60.17,377.13Z" fill="#ffffff" fill-opacity="0.7"/>
<path d="M63.80,351.33A102.3,102.3 0 0 1 71.23,341.29L77.36,346.44A94.3,94.3 0 0 0 70.51,355.69Z" fill="#ffffff" fill-opacity="0.3"/>
<path d="M99.23,318.01A102.3,102.3 0 0 1 102.36,316.31L106.06,323.40A94.3,94.3 0 0 0 103.16,324.98Z" fill="#ffffff" fill-opacity="0.4"/>
<circle cx="149.6" cy="407.05" r="90.15" fill="none" stroke="#e52c2d" stroke-width="8.30"/>
<path d="M125.12,315.98A94.3,94.3 0 0 1 125.44,315.90L127.57,323.92A86.0,86.0 0 0 0 127.28,324.00Z" fill="#ffffff" fill-opacity="0.51"/>
<path d="M180.35,496.20A94.3,94.3 0 0 1 179.73,496.41L177.08,488.54A86.0,86.0 0 0 0 177.64,488.35Z" fill="#f08a8a" fill-opacity="0.58"/>
<path d="M194.85,324.32A94.3,94.3 0 0 1 195.20,324.51L191.19,331.78A86.0,86.0 0 0 0 190.87,331.60Z" fill="#ffffff" fill-opacity="0.41"/>
<path d="M93.63,482.94A94.3,94.3 0 0 1 93.00,482.47L97.98,475.83A86.0,86.0 0 0 0 98.55,476.26Z" fill="#fad6d6" fill-opacity="0.55"/>
<path d="M177.86,317.08A94.3,94.3 0 0 1 178.58,317.31L176.03,325.21A86.0,86.0 0 0 0 175.37,325.00Z" fill="#f08a8a" fill-opacity="0.41"/>
<path d="M237.31,372.41A94.3,94.3 0 0 1 237.57,373.10L229.83,376.08A86.0,86.0 0 0 0 229.59,375.46Z" fill="#ffffff" fill-opacity="0.54"/>
<path d="M88.44,478.82A94.3,94.3 0 0 1 88.14,478.57L93.55,472.27A86.0,86.0 0 0 0 93.82,472.51Z" fill="#fad6d6" fill-opacity="0.41"/>
<path d="M57.10,388.73A94.3,94.3 0 0 1 57.25,387.95L65.38,389.63A86.0,86.0 0 0 0 65.24,390.35Z" fill="#f6b0b0" fill-opacity="0.40"/>
<path d="M243.11,419.22A94.3,94.3 0 0 1 243.03,419.86L234.80,418.74A86.0,86.0 0 0 0 234.88,418.15Z" fill="#fad6d6" fill-opacity="0.32"/>
<path d="M130.87,499.47A94.3,94.3 0 0 1 130.61,499.42L132.28,491.29A86.0,86.0 0 0 0 132.52,491.34Z" fill="#f08a8a" fill-opacity="0.48"/>
<path d="M139.36,500.79A94.3,94.3 0 0 1 138.88,500.74L139.83,492.49A86.0,86.0 0 0 0 140.26,492.54Z" fill="#f6b0b0" fill-opacity="0.41"/>
<path d="M216.79,473.22A94.3,94.3 0 0 1 216.38,473.63L210.50,467.77A86.0,86.0 0 0 0 210.88,467.39Z" fill="#f08a8a" fill-opacity="0.50"/>
<path d="M114.17,494.44A94.3,94.3 0 0 1 113.66,494.23L116.82,486.56A86.0,86.0 0 0 0 117.29,486.75Z" fill="#fad6d6" fill-opacity="0.33"/>
<path d="M147.52,312.77A94.3,94.3 0 0 1 147.97,312.76L148.11,321.06A86.0,86.0 0 0 0 147.70,321.07Z" fill="#fad6d6" fill-opacity="0.57"/>
<path d="M183.24,318.96A94.3,94.3 0 0 1 183.92,319.22L180.90,326.95A86.0,86.0 0 0 0 180.28,326.71Z" fill="#f6b0b0" fill-opacity="0.48"/>
<path d="M204.71,483.57A94.3,94.3 0 0 1 204.47,483.75L199.64,477.00A86.0,86.0 0 0 0 199.86,476.83Z" fill="#f6b0b0" fill-opacity="0.36"/>
<path d="M122.37,497.33A94.3,94.3 0 0 1 121.94,497.20L124.37,489.27A86.0,86.0 0 0 0 124.76,489.39Z" fill="#f08a8a" fill-opacity="0.62"/>
<path d="M81.04,471.80A94.3,94.3 0 0 1 80.70,471.43L86.76,465.77A86.0,86.0 0 0 0 87.08,466.10Z" fill="#ffffff" fill-opacity="0.49"/>
<path d="M59.20,380.23A94.3,94.3 0 0 1 59.37,379.63L67.32,382.05A86.0,86.0 0 0 0 67.15,382.59Z" fill="#f6b0b0" fill-opacity="0.53"/>
<path d="M205.51,331.11A94.3,94.3 0 0 1 205.79,331.32L200.85,337.99A86.0,86.0 0 0 0 200.59,337.79Z" fill="#ffffff" fill-opacity="0.59"/>
<path d="M104.70,324.13A94.3,94.3 0 0 1 105.15,323.88L109.06,331.20A86.0,86.0 0 0 0 108.65,331.42Z" fill="#ffffff" fill-opacity="0.47"/>
<path d="M135.46,500.28A94.3,94.3 0 0 1 134.88,500.19L136.18,492.00A86.0,86.0 0 0 0 136.70,492.08Z" fill="#fad6d6" fill-opacity="0.47"/>
<path d="M187.52,320.71A94.3,94.3 0 0 1 188.12,320.98L184.73,328.55A86.0,86.0 0 0 0 184.18,328.31Z" fill="#ffffff" fill-opacity="0.59"/>
<path d="M90.22,480.31A94.3,94.3 0 0 1 89.61,479.81L94.89,473.40A86.0,86.0 0 0 0 95.45,473.86Z" fill="#ffffff" fill-opacity="0.37"/>
<path d="M225.80,462.60A94.3,94.3 0 0 1 225.64,462.83L218.94,457.92A86.0,86.0 0 0 0 219.10,457.71Z" fill="#ffffff" fill-opacity="0.36"/>
<path d="M61.48,440.62A94.3,94.3 0 0 1 61.30,440.15L69.07,437.24A86.0,86.0 0 0 0 69.23,437.66Z" fill="#f08a8a" fill-opacity="0.36"/>
<path d="M193.17,323.42A94.3,94.3 0 0 1 193.48,323.58L189.62,330.93A86.0,86.0 0 0 0 189.33,330.78Z" fill="#ffffff" fill-opacity="0.65"/>
<path d="M129.37,499.15A94.3,94.3 0 0 1 128.85,499.04L130.68,490.94A86.0,86.0 0 0 0 131.15,491.05Z" fill="#ffffff" fill-opacity="0.36"/>
<path d="M242.61,422.60A94.3,94.3 0 0 1 242.56,422.90L234.38,421.50A86.0,86.0 0 0 0 234.42,421.23Z" fill="#fad6d6" fill-opacity="0.52"/>
<path d="M203.70,484.29A94.3,94.3 0 0 1 203.44,484.47L198.70,477.66A86.0,86.0 0 0 0 198.93,477.49Z" fill="#f6b0b0" fill-opacity="0.31"/>
<path d="M215.12,474.87A94.3,94.3 0 0 1 214.58,475.38L208.87,469.37A86.0,86.0 0 0 0 209.35,468.90Z" fill="#ffffff" fill-opacity="0.37"/>
<path d="M55.33,404.84A94.3,94.3 0 0 1 55.34,404.23L63.64,404.47A86.0,86.0 0 0 0 63.62,405.03Z" fill="#ffffff" fill-opacity="0.56"/>
<path d="M57.18,425.80A94.3,94.3 0 0 1 57.08,425.30L65.23,423.69A86.0,86.0 0 0 0 65.32,424.15Z" fill="#f6b0b0" fill-opacity="0.61"/>
<path d="M210.87,335.36A94.3,94.3 0 0 1 211.46,335.87L206.01,342.14A86.0,86.0 0 0 0 205.48,341.67Z" fill="#f6b0b0" fill-opacity="0.36"/>
<path d="M127.13,315.47A94.3,94.3 0 0 1 127.55,315.36L129.49,323.43A86.0,86.0 0 0 0 129.11,323.53Z" fill="#ffffff" fill-opacity="0.47"/>
<path d="M92.43,482.04A94.3,94.3 0 0 1 92.21,481.88L97.27,475.29A86.0,86.0 0 0 0 97.46,475.44Z" fill="#fad6d6" fill-opacity="0.55"/>
<path d="M242.54,423.01A94.3,94.3 0 0 1 242.42,423.69L234.25,422.23A86.0,86.0 0 0 0 234.36,421.61Z" fill="#f6b0b0" fill-opacity="0.52"/>
<path d="M141.05,313.14A94.3,94.3 0 0 1 141.78,313.07L142.47,321.35A86.0,86.0 0 0 0 141.80,321.40Z" fill="#f6b0b0" fill-opacity="0.46"/>
<path d="M189.86,492.32A94.3,94.3 0 0 1 189.45,492.52L185.94,484.99A86.0,86.0 0 0 0 186.32,484.82Z" fill="#f08a8a" fill-opacity="0.60"/>
<path d="M63.71,368.12A94.3,94.3 0 0 1 63.82,367.89L71.37,371.34A86.0,86.0 0 0 0 71.27,371.54Z" fill="#fad6d6" fill-opacity="0.51"/>
<path d="M208.43,333.35A94.3,94.3 0 0 1 209.00,333.81L203.77,340.26A86.0,86.0 0 0 0 203.25,339.84Z" fill="#f08a8a" fill-opacity="0.40"/>
<path d="M71.43,354.31A94.3,94.3 0 0 1 71.65,353.98L78.51,358.65A86.0,86.0 0 0 0 78.31,358.95Z" fill="#f08a8a" fill-opacity="0.40"/>
<path d="M228.94,356.09A94.3,94.3 0 0 1 229.33,356.70L222.32,361.13A86.0,86.0 0 0 0 221.96,360.57Z" fill="#fad6d6" fill-opacity="0.54"/>
<path d="M63.62,368.32A94.3,94.3 0 0 1 63.96,367.59L71.49,371.06A86.0,86.0 0 0 0 71.19,371.73Z" fill="#f6b0b0" fill-opacity="0.47"/>
<path d="M228.16,459.21A94.3,94.3 0 0 1 227.74,459.83L220.86,455.19A86.0,86.0 0 0 0 221.25,454.62Z" fill="#ffffff" fill-opacity="0.44"/>
<path d="M71.35,459.68A94.3,94.3 0 0 1 71.15,459.38L78.06,454.77A86.0,86.0 0 0 0 78.24,455.04Z" fill="#f6b0b0" fill-opacity="0.33"/>
<path d="M104.66,324.15A94.3,94.3 0 0 1 105.05,323.94L108.97,331.25A86.0,86.0 0 0 0 108.62,331.44Z" fill="#ffffff" fill-opacity="0.48"/>
<path d="M131.64,314.48A94.3,94.3 0 0 1 131.97,314.41L133.52,322.57A86.0,86.0 0 0 0 133.22,322.62Z" fill="#f08a8a" fill-opacity="0.60"/>
<path d="M94.94,483.89A94.3,94.3 0 0 1 94.49,483.57L99.34,476.84A86.0,86.0 0 0 0 99.75,477.13Z" fill="#ffffff" fill-opacity="0.34"/>
<path d="M145.62,501.27A94.3,94.3 0 0 1 145.34,501.25L145.72,492.96A86.0,86.0 0 0 0 145.97,492.97Z" fill="#ffffff" fill-opacity="0.33"/>
<path d="M187.92,320.89A94.3,94.3 0 0 1 188.24,321.03L184.84,328.60A86.0,86.0 0 0 0 184.55,328.47Z" fill="#f08a8a" fill-opacity="0.63"/>
<path d="M98.72,327.65A94.3,94.3 0 0 1 99.13,327.39L103.57,334.40A86.0,86.0 0 0 0 103.20,334.64Z" fill="#f08a8a" fill-opacity="0.41"/>
<path d="M65.28,449.26A94.3,94.3 0 0 1 64.96,448.63L72.41,444.97A86.0,86.0 0 0 0 72.70,445.55Z" fill="#ffffff" fill-opacity="0.62"/>
<path d="M60.07,377.44A94.3,94.3 0 0 1 60.27,376.85L68.13,379.51A86.0,86.0 0 0 0 67.95,380.05Z" fill="#f08a8a" fill-opacity="0.54"/>
<path d="M151.62,312.77A94.3,94.3 0 0 1 152.00,312.78L151.79,321.08A86.0,86.0 0 0 0 151.44,321.07Z" fill="#ffffff" fill-opacity="0.62"/>
<path d="M239.58,435.26A94.3,94.3 0 0 1 239.50,435.50L231.59,433.00A86.0,86.0 0 0 0 231.66,432.77Z" fill="#f08a8a" fill-opacity="0.34"/>
<path d="M97.58,328.40A94.3,94.3 0 0 1 98.18,328.00L102.71,334.96A86.0,86.0 0 0 0 102.16,335.32Z" fill="#f6b0b0" fill-opacity="0.36"/>
<path d="M241.69,427.33A94.3,94.3 0 0 1 241.59,427.79L233.49,425.97A86.0,86.0 0 0 0 233.59,425.55Z" fill="#f6b0b0" fill-opacity="0.58"/>
<path d="M237.96,439.98A94.3,94.3 0 0 1 237.77,440.51L230.01,437.56A86.0,86.0 0 0 0 230.18,437.08Z" fill="#f08a8a" fill-opacity="0.62"/>
<path d="M170.58,498.99A94.3,94.3 0 0 1 170.19,499.08L168.37,490.98A86.0,86.0 0 0 0 168.74,490.89Z" fill="#f6b0b0" fill-opacity="0.33"/>
<path d="M64.94,365.52A94.3,94.3 0 0 1 65.24,364.92L72.66,368.62A86.0,86.0 0 0 0 72.39,369.18Z" fill="#f6b0b0" fill-opacity="0.46"/>
<path d="M243.80,411.30A94.3,94.3 0 0 1 243.79,411.69L235.50,411.28A86.0,86.0 0 0 0 235.51,410.93Z" fill="#f6b0b0" fill-opacity="0.34"/>
<path d="M160.99,500.66A94.3,94.3 0 0 1 160.29,500.74L159.34,492.50A86.0,86.0 0 0 0 159.99,492.42Z" fill="#fad6d6" fill-opacity="0.32"/>
<path d="M229.33,457.40A94.3,94.3 0 0 1 229.08,457.80L222.09,453.33A86.0,86.0 0 0 0 222.31,452.97Z" fill="#fad6d6" fill-opacity="0.45"/>
<path d="M126.91,498.58A94.3,94.3 0 0 1 126.45,498.47L128.49,490.42A86.0,86.0 0 0 0 128.91,490.52Z" fill="#fad6d6" fill-opacity="0.58"/>
<path d="M66.76,452.10A94.3,94.3 0 0 1 66.54,451.70L73.85,447.77A86.0,86.0 0 0 0 74.05,448.14Z" fill="#f08a8a" fill-opacity="0.54"/>
<path d="M112.81,320.22A94.3,94.3 0 0 1 113.09,320.10L116.31,327.76A86.0,86.0 0 0 0 116.04,327.87Z" fill="#fad6d6" fill-opacity="0.56"/>
<path d="M194.82,324.30A94.3,94.3 0 0 1 195.33,324.58L191.30,331.84A86.0,86.0 0 0 0 190.84,331.59Z" fill="#f08a8a" fill-opacity="0.52"/>
<path d="M161.73,313.53A94.3,94.3 0 0 1 162.50,313.64L161.37,321.86A86.0,86.0 0 0 0 160.66,321.76Z" fill="#f08a8a" fill-opacity="0.49"/>
<path d="M100.93,487.82A94.3,94.3 0 0 1 100.62,487.63L104.93,480.54A86.0,86.0 0 0 0 105.21,480.71Z" fill="#f08a8a" fill-opacity="0.56"/>
<path d="M179.29,496.55A94.3,94.3 0 0 1 178.66,496.76L176.10,488.86A86.0,86.0 0 0 0 176.68,488.68Z" fill="#fad6d6" fill-opacity="0.53"/>
<path d="M178.06,496.95A94.3,94.3 0 0 1 177.39,497.16L174.94,489.23A86.0,86.0 0 0 0 175.56,489.04Z" fill="#fad6d6" fill-opacity="0.39"/>
<path d="M80.34,343.06A94.3,94.3 0 0 1 80.81,342.55L86.87,348.23A86.0,86.0 0 0 0 86.43,348.69Z" fill="#f6b0b0" fill-opacity="0.53"/>
<path d="M243.12,419.16A94.3,94.3 0 0 1 243.06,419.57L234.84,418.47A86.0,86.0 0 0 0 234.89,418.10Z" fill="#ffffff" fill-opacity="0.51"/>
<path d="M243.72,401.16A94.3,94.3 0 0 1 243.75,401.73L235.46,402.20A86.0,86.0 0 0 0 235.43,401.68Z" fill="#f08a8a" fill-opacity="0.46"/>
<path d="M61.32,373.89A94.3,94.3 0 0 1 61.61,373.13L69.35,376.12A86.0,86.0 0 0 0 69.09,376.81Z" fill="#ffffff" fill-opacity="0.50"/>
<path d="M242.98,393.91A94.3,94.3 0 0 1 243.05,394.39L234.82,395.51A86.0,86.0 0 0 0 234.76,395.07Z" fill="#f6b0b0" fill-opacity="0.64"/>
<path d="M221.55,346.09A94.3,94.3 0 0 1 221.91,346.53L215.55,351.85A86.0,86.0 0 0 0 215.22,351.46Z" fill="#f08a8a" fill-opacity="0.53"/>
<path d="M209.12,333.91A94.3,94.3 0 0 1 209.67,334.36L204.38,340.76A86.0,86.0 0 0 0 203.88,340.35Z" fill="#f6b0b0" fill-opacity="0.44"/>
<path d="M206.06,331.52A94.3,94.3 0 0 1 206.49,331.84L201.48,338.46A86.0,86.0 0 0 0 201.09,338.17Z" fill="#f08a8a" fill-opacity="0.30"/>
<path d="M230.97,359.40A94.3,94.3 0 0 1 231.39,360.11L224.19,364.24A86.0,86.0 0 0 0 223.81,363.59Z" fill="#f08a8a" fill-opacity="0.36"/>
<path d="M115.28,319.22A94.3,94.3 0 0 1 115.78,319.02L118.76,326.77A86.0,86.0 0 0 0 118.30,326.95Z" fill="#f6b0b0" fill-opacity="0.55"/>
<path d="M243.66,413.78A94.3,94.3 0 0 1 243.64,414.09L235.36,413.47A86.0,86.0 0 0 0 235.38,413.18Z" fill="#f6b0b0" fill-opacity="0.36"/>
<path d="M197.14,325.61A94.3,94.3 0 0 1 197.61,325.88L193.38,333.03A86.0,86.0 0 0 0 192.96,332.78Z" fill="#f08a8a" fill-opacity="0.54"/>
<path d="M127.37,498.69A94.3,94.3 0 0 1 126.94,498.59L128.94,490.53A86.0,86.0 0 0 0 129.32,490.63Z" fill="#f08a8a" fill-opacity="0.38"/>
<path d="M234.85,366.73A94.3,94.3 0 0 1 235.16,367.41L227.63,370.89A86.0,86.0 0 0 0 227.34,370.28Z" fill="#ffffff" fill-opacity="0.51"/>
<path d="M221.03,468.61A94.3,94.3 0 0 1 220.87,468.80L214.60,463.37A86.0,86.0 0 0 0 214.75,463.19Z" fill="#fad6d6" fill-opacity="0.52"/>
<path d="M230.65,455.26A94.3,94.3 0 0 1 230.39,455.68L223.28,451.40A86.0,86.0 0 0 0 223.51,451.02Z" fill="#ffffff" fill-opacity="0.38"/>
<path d="M60.49,376.20A94.3,94.3 0 0 1 60.65,375.75L68.48,378.50A86.0,86.0 0 0 0 68.33,378.92Z" fill="#ffffff" fill-opacity="0.50"/>
<path d="M87.64,478.14A94.3,94.3 0 0 1 87.34,477.88L92.82,471.64A86.0,86.0 0 0 0 93.10,471.88Z" fill="#f08a8a" fill-opacity="0.62"/>
<path d="M142.89,501.11A94.3,94.3 0 0 1 142.13,501.05L142.78,492.78A86.0,86.0 0 0 0 143.48,492.83Z" fill="#f08a8a" fill-opacity="0.49"/>
<path d="M228.62,355.58A94.3,94.3 0 0 1 229.05,356.25L222.05,360.72A86.0,86.0 0 0 0 221.66,360.11Z" fill="#ffffff" fill-opacity="0.46"/>
<path d="M212.02,477.73A94.3,94.3 0 0 1 211.80,477.92L206.33,471.69A86.0,86.0 0 0 0 206.53,471.51Z" fill="#ffffff" fill-opacity="0.60"/>
<path d="M210.22,479.28A94.3,94.3 0 0 1 209.90,479.55L204.60,473.17A86.0,86.0 0 0 0 204.88,472.93Z" fill="#f6b0b0" fill-opacity="0.63"/>
<path d="M149.29,312.75A94.3,94.3 0 0 1 149.60,312.75L149.60,321.05A86.0,86.0 0 0 0 149.32,321.05Z" fill="#fad6d6" fill-opacity="0.59"/>
<path d="M236.02,444.80A94.3,94.3 0 0 1 235.72,445.46L228.14,442.08A86.0,86.0 0 0 0 228.41,441.47Z" fill="#fad6d6" fill-opacity="0.38"/>
<path d="M186.70,320.36A94.3,94.3 0 0 1 187.45,320.68L184.12,328.28A86.0,86.0 0 0 0 183.44,327.99Z" fill="#f6b0b0" fill-opacity="0.39"/>
<path d="M55.41,402.56A94.3,94.3 0 0 1 55.44,401.86L63.73,402.32A86.0,86.0 0 0 0 63.70,402.96Z" fill="#f08a8a" fill-opacity="0.41"/>
<path d="M68.73,455.55A94.3,94.3 0 0 1 68.39,454.98L75.53,450.76A86.0,86.0 0 0 0 75.85,451.28Z" fill="#f08a8a" fill-opacity="0.41"/>
<path d="M115.97,495.15A94.3,94.3 0 0 1 115.22,494.86L118.24,487.13A86.0,86.0 0 0 0 118.93,487.39Z" fill="#f6b0b0" fill-opacity="0.37"/>
<path d="M209.45,479.92A94.3,94.3 0 0 1 209.23,480.11L203.98,473.68A86.0,86.0 0 0 0 204.18,473.51Z" fill="#f08a8a" fill-opacity="0.56"/>
<path d="M221.26,468.35A94.3,94.3 0 0 1 220.76,468.93L214.49,463.49A86.0,86.0 0 0 0 214.95,462.95Z" fill="#fad6d6" fill-opacity="0.48"/>
<path d="M86.92,336.60A94.3,94.3 0 0 1 87.31,336.25L92.79,342.48A86.0,86.0 0 0 0 92.44,342.80Z" fill="#ffffff" fill-opacity="0.37"/>
<path d="M55.76,416.36A94.3,94.3 0 0 1 55.73,416.09L64.00,415.30A86.0,86.0 0 0 0 64.02,415.54Z" fill="#ffffff" fill-opacity="0.59"/>
<path d="M213.26,337.48A94.3,94.3 0 0 1 213.59,337.78L207.96,343.88A86.0,86.0 0 0 0 207.66,343.60Z" fill="#ffffff" fill-opacity="0.52"/>
<path d="M123.44,316.45A94.3,94.3 0 0 1 124.21,316.23L126.44,324.23A86.0,86.0 0 0 0 125.74,324.43Z" fill="#f6b0b0" fill-opacity="0.35"/>
<path d="M70.75,458.77A94.3,94.3 0 0 1 70.54,458.44L77.49,453.92A86.0,86.0 0 0 0 77.69,454.22Z" fill="#fad6d6" fill-opacity="0.54"/>
<path d="M211.95,336.30A94.3,94.3 0 0 1 212.50,336.80L206.97,342.98A86.0,86.0 0 0 0 206.46,342.53Z" fill="#f6b0b0" fill-opacity="0.39"/>
<path d="M215.25,339.36A94.3,94.3 0 0 1 215.55,339.65L209.75,345.58A86.0,86.0 0 0 0 209.47,345.32Z" fill="#f6b0b0" fill-opacity="0.62"/>
<path d="M63.68,445.92A94.3,94.3 0 0 1 63.50,445.51L71.08,442.12A86.0,86.0 0 0 0 71.24,442.50Z" fill="#f08a8a" fill-opacity="0.52"/>
<path d="M67.34,453.15A94.3,94.3 0 0 1 67.03,452.59L74.29,448.58A86.0,86.0 0 0 0 74.58,449.09Z" fill="#f6b0b0" fill-opacity="0.37"/>
<path d="M241.18,384.54A94.3,94.3 0 0 1 241.25,384.87L233.19,386.82A86.0,86.0 0 0 0 233.11,386.53Z" fill="#f08a8a" fill-opacity="0.35"/>
<path d="M189.55,321.63A94.3,94.3 0 0 1 190.13,321.90L186.56,329.40A86.0,86.0 0 0 0 186.04,329.15Z" fill="#ffffff" fill-opacity="0.50"/>
<path d="M68.26,359.34A94.3,94.3 0 0 1 68.47,358.98L75.61,363.21A86.0,86.0 0 0 0 75.42,363.54Z" fill="#ffffff" fill-opacity="0.45"/>
<path d="M55.95,396.03A94.3,94.3 0 0 1 55.98,395.78L64.22,396.77A86.0,86.0 0 0 0 64.19,397.00Z" fill="#ffffff" fill-opacity="0.54"/>
<path d="M57.76,385.65A94.3,94.3 0 0 1 57.88,385.13L65.96,387.06A86.0,86.0 0 0 0 65.84,387.53Z" fill="#fad6d6" fill-opacity="0.44"/>
<path d="M64.97,448.64A94.3,94.3 0 0 1 64.67,448.03L72.14,444.42A86.0,86.0 0 0 0 72.42,444.98Z" fill="#f6b0b0" fill-opacity="0.36"/>
<path d="M243.53,415.41A94.3,94.3 0 0 1 243.49,415.84L235.23,415.07A86.0,86.0 0 0 0 235.26,414.68Z" fill="#ffffff" fill-opacity="0.32"/>
<path d="M125.57,498.24A94.3,94.3 0 0 1 125.20,498.14L127.35,490.12A86.0,86.0 0 0 0 127.69,490.21Z" fill="#f08a8a" fill-opacity="0.38"/>
<path d="M217.15,341.25A94.3,94.3 0 0 1 217.56,341.68L211.58,347.43A86.0,86.0 0 0 0 211.21,347.04Z" fill="#ffffff" fill-opacity="0.48"/>
<path d="M104.17,489.68A94.3,94.3 0 0 1 103.94,489.56L107.96,482.30A86.0,86.0 0 0 0 108.17,482.41Z" fill="#f08a8a" fill-opacity="0.63"/>
<path d="M137.35,500.55A94.3,94.3 0 0 1 136.89,500.49L138.01,492.27A86.0,86.0 0 0 0 138.43,492.32Z" fill="#f08a8a" fill-opacity="0.45"/>
<path d="M68.14,359.55A94.3,94.3 0 0 1 68.29,359.29L75.45,363.49A86.0,86.0 0 0 0 75.31,363.73Z" fill="#ffffff" fill-opacity="0.63"/>
<path d="M90.26,480.34A94.3,94.3 0 0 1 89.91,480.06L95.17,473.63A86.0,86.0 0 0 0 95.49,473.89Z" fill="#f6b0b0" fill-opacity="0.39"/>
<path d="M55.90,396.44A94.3,94.3 0 0 1 55.93,396.14L64.18,397.10A86.0,86.0 0 0 0 64.15,397.37Z" fill="#f08a8a" fill-opacity="0.32"/>
<path d="M56.35,421.06A94.3,94.3 0 0 1 56.24,420.35L64.46,419.18A86.0,86.0 0 0 0 64.55,419.83Z" fill="#fad6d6" fill-opacity="0.41"/>
<path d="M243.41,416.67A94.3,94.3 0 0 1 243.36,417.12L235.11,416.24A86.0,86.0 0 0 0 235.15,415.82Z" fill="#ffffff" fill-opacity="0.64"/>
<path d="M229.76,456.72A94.3,94.3 0 0 1 229.36,457.37L222.34,452.94A86.0,86.0 0 0 0 222.70,452.35Z" fill="#f08a8a" fill-opacity="0.39"/>
<path d="M191.03,322.34A94.3,94.3 0 0 1 191.64,322.64L187.94,330.07A86.0,86.0 0 0 0 187.39,329.80Z" fill="#f08a8a" fill-opacity="0.58"/>
<path d="M198.79,487.51A94.3,94.3 0 0 1 198.21,487.86L193.93,480.74A86.0,86.0 0 0 0 194.46,480.42Z" fill="#ffffff" fill-opacity="0.47"/>
<path d="M148.99,312.75A94.3,94.3 0 0 1 149.68,312.75L149.67,321.05A86.0,86.0 0 0 0 149.04,321.05Z" fill="#f6b0b0" fill-opacity="0.55"/>
<path d="M71.63,460.09A94.3,94.3 0 0 1 71.23,459.50L78.13,454.88A86.0,86.0 0 0 0 78.50,455.43Z" fill="#fad6d6" fill-opacity="0.59"/>
<path d="M157.74,501.00A94.3,94.3 0 0 1 157.19,501.04L156.52,492.77A86.0,86.0 0 0 0 157.02,492.73Z" fill="#fad6d6" fill-opacity="0.33"/>
<path d="M224.58,464.24A94.3,94.3 0 0 1 224.26,464.65L217.69,459.58A86.0,86.0 0 0 0 217.98,459.20Z" fill="#fad6d6" fill-opacity="0.40"/>
<path d="M242.42,423.67A94.3,94.3 0 0 1 242.36,424.00L234.20,422.51A86.0,86.0 0 0 0 234.25,422.21Z" fill="#fad6d6" fill-opacity="0.49"/>
<path d="M148.45,312.76A94.3,94.3 0 0 1 149.76,312.75L149.75,321.05A86.0,86.0 0 0 0 148.55,321.06Z" fill="#ffffff" fill-opacity="0.9"/>
<path d="M187.96,320.90A94.3,94.3 0 0 1 192.41,323.03L188.64,330.42A86.0,86.0 0 0 0 184.58,328.49Z" fill="#ffffff" fill-opacity="0.4"/>
<path d="M223.91,348.99A94.3,94.3 0 0 1 229.57,357.08L222.53,361.48A86.0,86.0 0 0 0 217.37,354.10Z" fill="#ffffff" fill-opacity="0.35"/>
<path d="M238.21,374.80A94.3,94.3 0 0 1 239.03,377.13L231.16,379.76A86.0,86.0 0 0 0 230.41,377.64Z" fill="#ffffff" fill-opacity="0.6"/>
<path d="M242.81,392.79A94.3,94.3 0 0 1 242.96,393.76L234.74,394.93A86.0,86.0 0 0 0 234.61,394.04Z" fill="#ffffff" fill-opacity="0.8"/>
<path d="M243.38,397.19A94.3,94.3 0 0 1 243.48,398.18L235.22,398.96A86.0,86.0 0 0 0 235.13,398.06Z" fill="#ffffff" fill-opacity="0.7"/>
<path d="M237.64,440.84A94.3,94.3 0 0 1 235.75,445.41L228.16,442.03A86.0,86.0 0 0 0 229.89,437.87Z" fill="#ffffff" fill-opacity="0.35"/>
<path d="M217.43,472.56A94.3,94.3 0 0 1 211.47,478.22L206.02,471.96A86.0,86.0 0 0 0 211.46,466.79Z" fill="#ffffff" fill-opacity="0.35"/>
<path d="M179.99,496.32A94.3,94.3 0 0 1 178.11,496.94L175.60,489.02A86.0,86.0 0 0 0 177.31,488.46Z" fill="#ffffff" fill-opacity="0.8"/>
<path d="M159.46,500.83A94.3,94.3 0 0 1 158.47,500.93L157.69,492.67A86.0,86.0 0 0 0 158.59,492.58Z" fill="#ffffff" fill-opacity="0.8"/>
<path d="M105.33,490.31A94.3,94.3 0 0 1 103.59,489.37L107.64,482.12A86.0,86.0 0 0 0 109.23,482.98Z" fill="#ffffff" fill-opacity="0.8"/>
<path d="M87.73,478.22A94.3,94.3 0 0 1 81.77,472.56L87.74,466.79A86.0,86.0 0 0 0 93.18,471.96Z" fill="#ffffff" fill-opacity="0.3"/>
<path d="M66.34,451.32A94.3,94.3 0 0 1 62.17,442.38L69.86,439.27A86.0,86.0 0 0 0 73.67,447.42Z" fill="#ffffff" fill-opacity="0.25"/>
<path d="M55.50,413.14A94.3,94.3 0 0 1 55.43,411.99L63.72,411.55A86.0,86.0 0 0 0 63.78,412.60Z" fill="#ffffff" fill-opacity="0.9"/>
<path d="M55.30,406.23A94.3,94.3 0 0 1 55.32,405.24L63.62,405.40A86.0,86.0 0 0 0 63.60,406.30Z" fill="#ffffff" fill-opacity="0.8"/>
<path d="M56.34,393.11A94.3,94.3 0 0 1 56.59,391.49L64.78,392.86A86.0,86.0 0 0 0 64.54,394.34Z" fill="#ffffff" fill-opacity="0.5"/>
<path d="M60.17,377.13A94.3,94.3 0 0 1 60.82,375.26L68.63,378.06A86.0,86.0 0 0 0 68.04,379.76Z" fill="#ffffff" fill-opacity="0.7"/>
<path d="M70.51,355.69A94.3,94.3 0 0 1 77.36,346.44L83.72,351.77A86.0,86.0 0 0 0 77.47,360.21Z" fill="#ffffff" fill-opacity="0.3"/>
<path d="M103.16,324.98A94.3,94.3 0 0 1 106.06,323.40L109.89,330.77A86.0,86.0 0 0 0 107.25,332.20Z" fill="#ffffff" fill-opacity="0.4"/>
<circle cx="149.6" cy="407.05" r="83.0" fill="none" stroke="#555" stroke-width="0.6" stroke-dasharray="1.2 0.5"/>
<polyline points="149.60,325.72 150.31,325.68 151.02,325.69 151.72,325.95 152.43,325.89 153.14,325.95 153.85,325.96 154.55,326.11 155.26,326.17 155.97,326.15 156.67,326.26 157.38,326.27 158.07,326.45 158.77,326.54 159.50,326.44 160.20,326.56 160.90,326.64 161.61,326.67 162.30,326.87 162.98,327.10 163.71,327.04 164.40,327.17 165.11,327.28 165.80,327.43 166.52,327.47 167.18,327.77 167.88,327.85 168.55,328.11 169.25,328.25 169.94,328.38 170.61,328.66 171.26,328.93 171.97,329.04 172.68,329.15 173.35,329.36 174.02,329.61 174.71,329.78 175.34,330.12 176.00,330.39 176.68,330.59 177.40,330.68 178.01,331.06 178.65,331.37 179.30,331.65 179.95,331.94 180.63,332.14 181.32,332.32 182.01,332.50 182.62,332.89 183.25,333.20 183.88,333.53 184.52,333.83 185.22,334.02 185.85,334.35 186.44,334.76 187.03,335.15 187.74,335.32 188.38,335.62 189.03,335.92 189.56,336.41 190.20,336.73 190.88,336.98 191.45,337.39 192.11,337.68 192.60,338.23 193.30,338.46 193.77,339.03 194.39,339.38 194.92,339.86 195.62,340.09 196.21,340.48 196.85,340.81 197.41,341.24 198.00,341.63 198.51,342.15 199.13,342.50 199.67,342.97 200.14,343.51 200.79,343.84 201.25,344.39 201.74,344.92 202.23,345.42 202.83,345.81 203.33,346.32 204.00,346.63 204.57,347.06 204.95,347.69 205.41,348.24 205.99,348.66 206.44,349.21 207.00,349.65 207.58,350.07 207.98,350.68 208.47,351.18 209.07,351.60 209.48,352.18 209.91,352.74 210.49,353.18 210.98,353.70 211.46,354.21 211.88,354.79 212.26,355.40 212.75,355.91 213.24,356.43 213.65,357.01 213.98,357.65 214.39,358.23 214.83,358.78 215.35,359.28 215.74,359.88 216.14,360.46 216.61,361.00 216.85,361.69 217.32,362.23 217.66,362.85 218.09,363.42 218.55,363.97 218.80,364.65 219.31,365.17 219.49,365.88 219.91,366.45 220.28,367.06 220.55,367.72 220.96,368.31 221.29,368.93 221.61,369.56 222.00,370.16 222.15,370.88 222.51,371.49 222.95,372.07 223.11,372.77 223.56,373.34 223.72,374.05 224.10,374.66 224.26,375.36 224.58,375.99 224.85,376.65 225.02,377.34 225.42,377.94 225.66,378.61 225.96,379.26 226.17,379.94 226.40,380.61 226.62,381.28 226.77,381.98 227.14,382.60 227.16,383.34 227.54,383.96 227.78,384.63 227.89,385.34 228.12,386.01 228.29,386.70 228.44,387.39 228.51,388.10 228.65,388.80 228.81,389.49 228.95,390.18 229.28,390.84 229.30,391.56 229.40,392.26 229.53,392.96 229.77,393.63 229.82,394.34 229.93,395.04 229.94,395.76 230.02,396.46 230.05,397.17 230.15,397.87 230.25,398.57 230.50,399.26 230.51,399.97 230.44,400.69 230.56,401.39 230.52,402.10 230.67,402.80 230.70,403.51 230.85,404.21 230.73,404.93 230.88,405.63 230.75,406.34 230.93,407.05 230.88,407.76 230.67,408.47 230.83,409.18 230.70,409.88 230.67,410.59 230.57,411.29 230.71,412.01 230.50,412.71 230.59,413.42 230.47,414.13 230.47,414.84 230.31,415.53 230.14,416.23 230.28,416.96 230.18,417.66 229.93,418.34 230.03,419.07 229.96,419.78 229.64,420.44 229.41,421.12 229.43,421.84 229.20,422.52 229.20,423.25 229.03,423.93 228.94,424.64 228.76,425.32 228.65,426.03 228.51,426.72 228.28,427.40 228.08,428.08 227.81,428.74 227.54,429.40 227.30,430.07 227.31,430.81 226.97,431.45 226.78,432.13 226.54,432.79 226.39,433.49 226.16,434.16 226.01,434.86 225.67,435.49 225.37,436.14 225.18,436.82 224.96,437.50 224.76,438.18 224.34,438.77 224.17,439.47 223.94,440.15 223.67,440.81 223.15,441.34 222.84,441.99 222.64,442.67 222.38,443.33 221.86,443.87 221.57,444.52 221.34,445.19 221.04,445.84 220.65,446.44 220.21,447.00 219.88,447.62 219.44,448.19 219.12,448.82 218.79,449.45 218.53,450.12 218.13,450.71 217.69,451.27 217.25,451.82 216.85,452.41 216.54,453.06 216.11,453.62 215.62,454.14 215.35,454.82 214.91,455.37 214.57,456.01 214.07,456.52 213.63,457.07 213.14,457.59 212.73,458.17 212.36,458.79 211.94,459.36 211.42,459.85 210.89,460.33 210.32,460.77 209.99,461.43 209.46,461.90 208.96,462.40 208.40,462.84 207.88,463.33 207.45,463.90 207.10,464.55 206.59,465.04 206.07,465.53 205.55,466.01 204.95,466.40 204.38,466.83 203.93,467.39 203.32,467.77 202.86,468.32 202.34,468.80 201.80,469.26 201.18,469.62 200.60,470.03 200.11,470.55 199.52,470.94 199.03,471.47 198.43,471.85 197.91,472.34 197.38,472.81 196.79,473.20 196.19,473.59 195.55,473.90 194.97,474.31 194.48,474.86 193.81,475.12 193.19,475.47 192.62,475.89 192.03,476.29 191.47,476.73 190.79,476.98 190.26,477.48 189.53,477.63 188.99,478.12 188.36,478.44 187.78,478.86 187.06,479.02 186.48,479.43 185.90,479.85 185.24,480.12 184.52,480.26 183.96,480.73 183.34,481.09 182.60,481.17 182.01,481.59 181.29,481.70 180.61,481.92 180.03,482.38 179.39,482.67 178.76,483.01 178.07,483.19 177.38,483.38 176.69,483.54 176.04,483.83 175.41,484.20 174.72,484.36 174.06,484.62 173.33,484.66 172.68,484.96 172.01,485.19 171.27,485.20 170.63,485.55 169.91,485.59 169.22,485.73 168.52,485.85 167.87,486.17 167.15,486.22 166.51,486.58 165.77,486.51 165.10,486.81 164.41,486.98 163.71,487.06 163.01,487.17 162.32,487.35 161.61,487.43 160.89,487.37 160.21,487.62 159.49,487.62 158.79,487.75 158.09,487.81 157.39,488.00 156.68,487.95 155.98,488.11 155.26,487.96 154.55,488.02 153.85,488.17 153.14,488.21 152.44,488.31 151.72,488.17 151.02,488.31 150.31,488.36 149.60,488.18 148.89,488.12 148.18,488.22 147.47,488.36 146.76,488.28 146.06,488.17 145.35,488.14 144.64,488.19 143.93,488.09 143.23,488.02 142.52,487.98 141.80,488.02 141.10,487.94 140.39,487.87 139.71,487.62 139.00,487.58 138.28,487.56 137.58,487.45 136.87,487.41 136.17,487.31 135.51,486.96 134.81,486.88 134.12,486.71 133.43,486.52 132.72,486.45 132.00,486.46 131.31,486.29 130.66,485.92 129.98,485.74 129.29,485.60 128.56,485.57 127.90,485.31 127.25,485.01 126.54,484.89 125.88,484.63 125.23,484.34 124.51,484.26 123.79,484.19 123.12,483.94 122.46,483.69 121.85,483.29 121.16,483.10 120.49,482.89 119.81,482.68 119.18,482.35 118.58,481.95 117.84,481.88 117.24,481.48 116.55,481.28 115.92,480.95 115.25,480.72 114.65,480.32 114.06,479.92 113.40,479.66 112.75,479.38 112.07,479.15 111.48,478.74 110.83,478.45 110.24,478.05 109.58,477.78 109.04,477.30 108.34,477.09 107.70,476.79 107.22,476.20 106.53,475.98 105.91,475.62 105.33,475.23 104.83,474.69 104.17,474.40 103.55,474.05 102.99,473.62 102.35,473.29 101.76,472.89 101.24,472.40 100.64,472.02 100.21,471.42 99.66,470.97 99.06,470.59 98.50,470.16 97.86,469.81 97.35,469.32 96.83,468.84 96.29,468.37 95.70,467.98 95.26,467.40 94.69,466.97 94.19,466.47 93.71,465.94 93.23,465.42 92.77,464.88 92.31,464.34 91.76,463.89 91.26,463.39 90.81,462.84 90.25,462.39 89.78,461.87 89.17,461.46 88.70,460.93 88.25,460.38 87.76,459.87 87.42,459.23 87.04,458.62 86.50,458.15 86.12,457.55 85.52,457.12 85.17,456.49 84.66,455.99 84.36,455.33 84.02,454.70 83.50,454.20 83.04,453.66 82.73,453.01 82.19,452.52 81.74,451.96 81.41,451.33 80.97,450.77 80.57,450.18 80.40,449.45 79.95,448.90 79.56,448.31 79.20,447.70 78.94,447.03 78.57,446.42 78.21,445.81 77.80,445.22 77.66,444.50 77.31,443.88 77.00,443.25 76.56,442.67 76.40,441.97 76.15,441.30 75.86,440.66 75.57,440.01 75.20,439.40 74.77,438.81 74.60,438.12 74.43,437.42 74.04,436.81 73.84,436.13 73.54,435.49 73.23,434.85 73.05,434.16 72.75,433.51 72.54,432.83 72.26,432.18 72.05,431.50 71.80,430.84 71.63,430.15 71.57,429.42 71.36,428.75 71.09,428.09 70.88,427.41 70.71,426.72 70.51,426.04 70.35,425.35 70.27,424.64 70.12,423.94 70.15,423.21 69.93,422.54 69.71,421.86 69.50,421.17 69.37,420.48 69.37,419.76 69.36,419.04 69.10,418.36 69.02,417.66 69.07,416.94 69.08,416.22 68.78,415.54 68.73,414.84 68.81,414.12 68.54,413.43 68.54,412.72 68.46,412.01 68.39,411.31 68.51,410.59 68.45,409.88 68.53,409.17 68.41,408.47 68.42,407.76 68.32,407.05 68.49,406.34 68.53,405.63 68.50,404.93 68.62,404.22 68.56,403.51 68.40,402.79 68.41,402.08 68.65,401.39 68.57,400.67 68.77,399.98 68.87,399.28 68.83,398.56 68.98,397.86 69.11,397.17 69.25,396.47 69.33,395.77 69.43,395.07 69.32,394.33 69.62,393.67 69.65,392.95 69.85,392.27 69.85,391.55 70.16,390.89 70.25,390.18 70.28,389.46 70.61,388.81 70.71,388.11 70.88,387.42 71.01,386.73 71.14,386.03 71.47,385.38 71.47,384.65 71.79,384.00 71.88,383.29 72.24,382.66 72.52,382.00 72.73,381.33 72.98,380.67 73.18,379.99 73.43,379.33 73.70,378.67 73.74,377.93 74.03,377.28 74.31,376.63 74.58,375.97 74.77,375.29 75.23,374.71 75.57,374.09 75.71,373.38 76.14,372.80 76.35,372.11 76.60,371.44 76.83,370.77 77.35,370.24 77.63,369.59 77.97,368.96 78.24,368.30 78.70,367.75 78.90,367.05 79.15,366.38 79.59,365.81 79.94,365.19 80.26,364.56 80.62,363.95 81.00,363.35 81.47,362.80 81.98,362.29 82.24,361.61 82.58,360.99 83.01,360.42 83.52,359.91 83.80,359.24 84.26,358.70 84.78,358.20 85.12,357.57 85.66,357.10 86.13,356.56 86.42,355.89 87.03,355.47 87.34,354.80 87.86,354.32 88.30,353.77 88.74,353.20 89.15,352.62 89.76,352.22 90.31,351.76 90.73,351.18 91.26,350.71 91.72,350.17 92.28,349.73 92.80,349.25 93.21,348.66 93.80,348.25 94.30,347.75 94.79,347.23 95.36,346.81 95.76,346.20 96.24,345.67 96.93,345.38 97.37,344.80 98.00,344.45 98.47,343.91 99.13,343.59 99.58,343.03 100.08,342.52 100.75,342.22 101.37,341.86 101.92,341.42 102.40,340.88 102.96,340.45 103.65,340.19 104.14,339.65 104.73,339.25 105.28,338.81 105.87,338.40 106.59,338.23 107.14,337.77 107.84,337.56 108.45,337.20 109.01,336.75 109.66,336.45 110.29,336.13 110.89,335.76 111.50,335.39 112.05,334.92 112.71,334.65 113.35,334.35 113.97,334.00 114.67,333.82 115.25,333.39 115.89,333.07 116.52,332.76 117.21,332.56 117.87,332.29 118.57,332.14 119.20,331.81 119.83,331.47 120.45,331.11 121.11,330.84 121.83,330.75 122.47,330.43 123.12,330.15 123.78,329.88 124.47,329.72 125.19,329.63 125.83,329.30 126.57,329.30 127.22,329.01 127.90,328.82 128.56,328.51 129.25,328.37 129.97,328.33 130.67,328.21 131.37,328.10 132.02,327.75 132.70,327.53 133.41,327.49 134.12,327.43 134.80,327.22 135.52,327.18 136.20,326.98 136.91,326.90 137.61,326.81 138.29,326.60 139.01,326.61 139.71,326.52 140.41,326.37 141.10,326.16 141.82,326.29 142.53,326.24 143.24,326.19 143.94,326.13 144.64,326.03 145.35,325.87 146.06,326.00 146.76,325.85 147.47,325.88 148.18,325.84 148.89,325.85 149.60,325.82" fill="none" stroke="#9a9a9a" stroke-width="0.45"/>
<circle cx="149.6" cy="407.05" r="78.8" fill="none" stroke="#222" stroke-width="0.9"/>
<path d="M149.60,328.25L149.60,330.05M152.66,328.31L152.63,329.31M155.72,328.49L155.65,329.49M158.77,328.79L158.66,329.78M161.81,329.20L161.66,330.19M164.83,329.74L164.64,330.72M167.83,330.39L167.59,331.36M170.79,331.15L170.52,332.12M173.73,332.03L173.42,332.99M176.63,333.03L176.28,333.97M179.49,334.14L178.80,335.80M182.30,335.35L181.88,336.26M185.06,336.68L184.61,337.57M187.77,338.11L187.29,338.99M190.42,339.65L189.91,340.50M193.01,341.29L192.46,342.12M195.54,343.03L194.96,343.84M197.99,344.86L197.38,345.65M200.38,346.79L199.73,347.55M202.68,348.81L202.01,349.55M204.91,350.92L203.64,352.20M207.05,353.11L206.32,353.80M209.10,355.39L208.35,356.04M211.06,357.74L210.28,358.37M212.94,360.17L212.13,360.76M214.71,362.67L213.89,363.23M216.39,365.23L215.54,365.76M217.96,367.86L217.10,368.36M219.44,370.55L218.55,371.01M220.80,373.29L219.90,373.72M222.06,376.09L220.41,376.79M223.21,378.93L222.28,379.29M224.25,381.81L223.30,382.13M225.17,384.73L224.22,385.02M225.98,387.69L225.02,387.94M226.68,390.68L225.70,390.88M227.26,393.69L226.27,393.86M227.72,396.72L226.73,396.85M228.06,399.76L227.07,399.85M228.29,402.82L227.29,402.87M228.39,405.88L226.59,405.91M228.38,408.95L227.38,408.92M228.24,412.01L227.25,411.95M227.99,415.06L227.00,414.96M227.62,418.11L226.63,417.97M227.13,421.13L226.15,420.95M226.53,424.14L225.55,423.92M225.80,427.12L224.84,426.86M224.96,430.06L224.01,429.77M224.01,432.98L223.07,432.65M222.95,435.85L221.27,435.19M221.77,438.68L220.86,438.28M220.49,441.47L219.59,441.03M219.10,444.20L218.21,443.72M217.60,446.87L216.74,446.37M216.00,449.48L215.16,448.95M214.30,452.03L213.48,451.46M212.50,454.52L211.70,453.91M210.61,456.93L209.83,456.29M208.62,459.26L207.87,458.60M206.54,461.52L205.24,460.27M204.38,463.69L203.69,462.97M202.14,465.78L201.47,465.03M199.82,467.78L199.18,467.01M197.42,469.68L196.81,468.89M194.94,471.50L194.37,470.68M192.40,473.21L191.86,472.37M189.80,474.83L189.29,473.97M187.13,476.34L186.66,475.46M184.41,477.74L183.97,476.85M181.63,479.05L180.90,477.40M178.81,480.24L178.44,479.31M175.94,481.32L175.61,480.37M173.03,482.29L172.74,481.33M170.09,483.14L169.83,482.17M167.11,483.88L166.89,482.90M164.11,484.50L163.93,483.52M161.09,485.01L160.94,484.02M158.05,485.40L157.94,484.40M155.00,485.66L154.93,484.67M151.94,485.82L151.88,484.02M148.87,485.85L148.88,484.85M145.81,485.76L145.85,484.76M142.75,485.55L142.84,484.56M139.70,485.23L139.83,484.23M136.67,484.78L136.83,483.80M133.66,484.22L133.86,483.24M130.67,483.54L130.91,482.57M127.71,482.75L127.98,481.79M124.78,481.84L125.09,480.89M121.89,480.82L122.52,479.13M119.04,479.68L119.43,478.76M116.24,478.44L116.66,477.53M113.49,477.09L113.95,476.20M110.79,475.63L111.28,474.76M108.15,474.07L108.68,473.22M105.58,472.41L106.14,471.58M103.07,470.65L103.66,469.84M100.63,468.79L101.25,468.00M98.27,466.84L98.92,466.08M95.98,464.80L97.21,463.48M93.78,462.67L94.49,461.96M91.66,460.45L92.39,459.78M89.62,458.16L90.38,457.51M87.68,455.79L88.47,455.17M85.83,453.34L86.64,452.76M84.08,450.83L84.91,450.27M82.43,448.25L83.28,447.73M80.88,445.60L81.75,445.12M79.43,442.90L80.32,442.45M78.09,440.15L79.72,439.39M76.85,437.34L77.78,436.96M75.73,434.49L76.67,434.14M74.72,431.60L75.67,431.28M73.82,428.66L74.78,428.39M73.04,425.70L74.01,425.46M72.37,422.71L73.35,422.51M71.82,419.69L72.81,419.53M71.39,416.66L72.38,416.54M71.07,413.61L72.07,413.53M70.88,410.55L72.68,410.47M70.80,407.49L71.80,407.48M70.84,404.42L71.84,404.46M71.01,401.36L72.00,401.44M71.29,398.31L72.28,398.42M71.69,395.27L72.67,395.42M72.20,392.25L73.18,392.44M72.84,389.25L73.81,389.48M73.59,386.28L74.55,386.54M74.45,383.34L75.41,383.64M75.43,380.44L77.12,381.04M76.52,377.57L77.45,377.94M77.72,374.75L78.64,375.16M79.03,371.98L79.93,372.43M80.45,369.26L81.33,369.74M81.97,366.60L82.83,367.12M83.60,364.00L84.43,364.55M85.32,361.47L86.14,362.05M87.14,359.00L87.94,359.61M89.06,356.61L89.83,357.25M91.07,354.29L92.40,355.50M93.16,352.06L93.88,352.76M95.34,349.90L96.03,350.63M97.61,347.84L98.27,348.59M99.95,345.86L100.58,346.64M102.37,343.98L102.97,344.78M104.85,342.19L105.42,343.01M107.41,340.50L107.95,341.34M110.03,338.91L110.53,339.77M112.71,337.42L113.18,338.30M115.45,336.04L116.23,337.66M118.23,334.76L118.63,335.68M121.07,333.60L121.43,334.53M123.95,332.54L124.27,333.49M126.86,331.60L127.15,332.56M129.82,330.77L130.07,331.74M132.80,330.06L133.01,331.04M135.80,329.47L135.98,330.45M138.83,328.99L138.97,329.98M141.88,328.63L141.97,329.62M144.93,328.39L145.04,330.19M147.99,328.27L148.01,329.27" stroke="#333" stroke-width="0.55" fill="none"/>
<text x="146.3" y="338.7" text-anchor="middle" class="kb" textLength="21.6" lengthAdjust="spacingAndGlyphs">8000 kbp</text>
<text x="176.9" y="344.5" text-anchor="middle" class="kb" textLength="18.3" lengthAdjust="spacingAndGlyphs">500 kbp</text>
<text x="119.1" y="345.4" text-anchor="middle" class="kb" textLength="21.6" lengthAdjust="spacingAndGlyphs">7500 kbp</text>
<text x="198" y="359" text-anchor="middle" class="kb" textLength="21.6" lengthAdjust="spacingAndGlyphs">1000 kbp</text>
<text x="98.5" y="361.5" text-anchor="middle" class="kb" textLength="21.6" lengthAdjust="spacingAndGlyphs">7000 kbp</text>
<text x="211.3" y="381" text-anchor="middle" class="kb" textLength="21.6" lengthAdjust="spacingAndGlyphs">1500 kbp</text>
<text x="88.8" y="385.4" text-anchor="middle" class="kb" textLength="21.6" lengthAdjust="spacingAndGlyphs">6500 kbp</text>
<text x="212.2" y="407.5" text-anchor="middle" class="kb" textLength="21.6" lengthAdjust="spacingAndGlyphs">2000 kbp</text>
<text x="87.5" y="411.2" text-anchor="middle" class="kb" textLength="21.6" lengthAdjust="spacingAndGlyphs">6000 kbp</text>
<text x="211.3" y="433.6" text-anchor="middle" class="kb" textLength="21.6" lengthAdjust="spacingAndGlyphs">2500 kbp</text>
<text x="90.3" y="438" text-anchor="middle" class="kb" textLength="21.6" lengthAdjust="spacingAndGlyphs">5500 kbp</text>
<text x="199" y="456.9" text-anchor="middle" class="kb" textLength="21.6" lengthAdjust="spacingAndGlyphs">3000 kbp</text>
<text x="103.2" y="459.5" text-anchor="middle" class="kb" textLength="21.6" lengthAdjust="spacingAndGlyphs">5000 kbp</text>
<text x="178.8" y="470.7" text-anchor="middle" class="kb" textLength="21.6" lengthAdjust="spacingAndGlyphs">3500 kbp</text>
<text x="125" y="474" text-anchor="middle" class="kb" textLength="21.6" lengthAdjust="spacingAndGlyphs">4500 kbp</text>
<text x="151.7" y="478.2" text-anchor="middle" class="kb" textLength="21.6" lengthAdjust="spacingAndGlyphs">4000 kbp</text>
<g fill="none" stroke-width="0.35"><path d="M150.90,285.90L152.96,293.76" stroke="#4a4a4a"/><path d="M142.90,282.60L152.96,293.76" stroke="#4a4a4a"/><path d="M152.88,296.60L152.96,293.76" stroke="#555"/><path d="M160.10,286.50L161.36,295.16" stroke="#4a4a4a"/><path d="M161.15,297.16L161.36,295.16" stroke="#555"/><path d="M173.90,282.60L167.77,296.09" stroke="#4a4a4a"/><path d="M170.50,285.00L167.77,296.09" stroke="#4a4a4a"/><path d="M167.46,298.00L167.77,296.09" stroke="#555"/><path d="M179.60,275.70L176.72,297.45" stroke="#4a4a4a"/><path d="M178.60,278.50L176.72,297.45" stroke="#4a4a4a"/><path d="M175.10,286.50L176.72,297.45" stroke="#4a4a4a"/><path d="M184.20,293.00L176.72,297.45" stroke="#4a4a4a"/><path d="M176.15,299.79L176.72,297.45" stroke="#555"/><path d="M248.10,339.50L189.14,301.29" stroke="#4a4a4a"/><path d="M245.30,335.50L189.14,301.29" stroke="#4a4a4a"/><path d="M243.60,331.50L189.14,301.29" stroke="#4a4a4a"/><path d="M238.20,328.40L189.14,301.29" stroke="#4a4a4a"/><path d="M234.60,324.20L189.14,301.29" stroke="#4a4a4a"/><path d="M231.30,320.30L189.14,301.29" stroke="#4a4a4a"/><path d="M226.60,316.40L189.14,301.29" stroke="#4a4a4a"/><path d="M221.00,312.70L189.14,301.29" stroke="#4a4a4a"/><path d="M216.40,307.70L189.14,301.29" stroke="#4a4a4a"/><path d="M210.60,303.80L189.14,301.29" stroke="#4a4a4a"/><path d="M204.90,300.30L189.14,301.29" stroke="#4a4a4a"/><path d="M195.60,297.30L189.14,301.29" stroke="#4a4a4a"/><path d="M188.30,303.55L189.14,301.29" stroke="#555"/><path d="M199.42,308.42L200.42,306.44" stroke="#555"/><path d="M208.81,313.75L210.49,311.11" stroke="#555"/><path d="M215.79,318.57L216.88,317.12" stroke="#555"/><path d="M223.68,325.06L225.70,322.83" stroke="#555"/><path d="M232.74,334.26L234.92,332.36" stroke="#555"/><path d="M241.21,345.26L242.82,344.17" stroke="#555"/><path d="M255.60,352.50L249.38,352.42" stroke="#4a4a4a"/><path d="M254.60,348.30L249.38,352.42" stroke="#4a4a4a"/><path d="M246.52,353.99L249.38,352.42" stroke="#555"/><path d="M259.10,360.30L253.30,361.10" stroke="#4a4a4a"/><path d="M256.60,356.60L253.30,361.10" stroke="#4a4a4a"/><path d="M250.63,362.28L253.30,361.10" stroke="#555"/><path d="M265.60,382.30L257.91,376.20" stroke="#4a4a4a"/><path d="M264.60,377.70L257.91,376.20" stroke="#4a4a4a"/><path d="M262.80,373.00L257.91,376.20" stroke="#4a4a4a"/><path d="M255.87,376.78L257.91,376.20" stroke="#555"/><path d="M266.50,393.70L261.97,391.26" stroke="#4a4a4a"/><path d="M272.90,389.70L261.97,391.26" stroke="#4a4a4a"/><path d="M266.50,386.40L261.97,391.26" stroke="#4a4a4a"/><path d="M259.02,391.67L261.97,391.26" stroke="#555"/><path d="M260.10,407.05L262.20,407.05" stroke="#555"/><path d="M259.83,414.76L262.92,414.97" stroke="#555"/><path d="M259.02,422.43L261.42,422.77" stroke="#555"/><path d="M263.60,438.00L258.98,432.30" stroke="#4a4a4a"/><path d="M264.60,434.00L258.98,432.30" stroke="#4a4a4a"/><path d="M265.60,430.60L258.98,432.30" stroke="#4a4a4a"/><path d="M266.50,427.00L258.98,432.30" stroke="#4a4a4a"/><path d="M267.00,423.30L258.98,432.30" stroke="#4a4a4a"/><path d="M267.60,419.20L258.98,432.30" stroke="#4a4a4a"/><path d="M267.60,415.50L258.98,432.30" stroke="#4a4a4a"/><path d="M267.60,411.30L258.98,432.30" stroke="#4a4a4a"/><path d="M267.60,407.30L258.98,432.30" stroke="#4a4a4a"/><path d="M267.60,403.00L258.98,432.30" stroke="#4a4a4a"/><path d="M267.60,398.90L258.98,432.30" stroke="#4a4a4a"/><path d="M257.27,431.91L258.98,432.30" stroke="#555"/><path d="M257.30,454.20L255.08,447.12" stroke="#4a4a4a"/><path d="M259.10,450.00L255.08,447.12" stroke="#4a4a4a"/><path d="M261.00,446.40L255.08,447.12" stroke="#4a4a4a"/><path d="M262.30,442.20L255.08,447.12" stroke="#4a4a4a"/><path d="M252.90,446.29L255.08,447.12" stroke="#555"/><path d="M253.60,463.40L249.76,459.86" stroke="#4a4a4a"/><path d="M255.50,459.30L249.76,459.86" stroke="#4a4a4a"/><path d="M247.35,458.59L249.76,459.86" stroke="#555"/><path d="M249.00,471.30L247.23,464.56" stroke="#4a4a4a"/><path d="M250.90,468.00L247.23,464.56" stroke="#4a4a4a"/><path d="M244.81,463.13L247.23,464.56" stroke="#555"/><path d="M231.60,488.50L237.13,477.93" stroke="#4a4a4a"/><path d="M238.00,488.20L237.13,477.93" stroke="#4a4a4a"/><path d="M239.80,483.60L237.13,477.93" stroke="#4a4a4a"/><path d="M241.60,479.50L237.13,477.93" stroke="#4a4a4a"/><path d="M235.47,476.59L237.13,477.93" stroke="#555"/><path d="M224.40,496.50L220.52,494.94" stroke="#4a4a4a"/><path d="M228.60,492.20L220.52,494.94" stroke="#4a4a4a"/><path d="M218.99,493.05L220.52,494.94" stroke="#555"/><path d="M220.30,499.70L216.05,498.51" stroke="#4a4a4a"/><path d="M214.55,496.45L216.05,498.51" stroke="#555"/><path d="M213.40,504.40L207.87,503.26" stroke="#4a4a4a"/><path d="M206.84,501.57L207.87,503.26" stroke="#555"/><path d="M196.80,514.30L200.51,508.71" stroke="#4a4a4a"/><path d="M199.60,511.60L200.51,508.71" stroke="#4a4a4a"/><path d="M205.10,508.80L200.51,508.71" stroke="#4a4a4a"/><path d="M199.08,505.85L200.51,508.71" stroke="#555"/><path d="M189.90,517.60L186.60,514.51" stroke="#4a4a4a"/><path d="M185.58,511.53L186.60,514.51" stroke="#555"/><path d="M174.60,529.50L177.75,515.89" stroke="#4a4a4a"/><path d="M174.60,533.30L177.75,515.89" stroke="#4a4a4a"/><path d="M181.60,522.60L177.75,515.89" stroke="#4a4a4a"/><path d="M181.60,526.40L177.75,515.89" stroke="#4a4a4a"/><path d="M177.27,514.03L177.75,515.89" stroke="#555"/><path d="M158.20,524.50L162.42,519.57" stroke="#4a4a4a"/><path d="M155.50,529.50L162.42,519.57" stroke="#4a4a4a"/><path d="M162.11,516.84L162.42,519.57" stroke="#555"/><path d="M143.00,525.00L144.64,520.73" stroke="#4a4a4a"/><path d="M140.30,533.30L144.64,520.73" stroke="#4a4a4a"/><path d="M144.78,517.44L144.64,520.73" stroke="#555"/><path d="M129.90,528.70L132.00,518.17" stroke="#4a4a4a"/><path d="M129.90,532.00L132.00,518.17" stroke="#4a4a4a"/><path d="M129.90,535.50L132.00,518.17" stroke="#4a4a4a"/><path d="M121.60,538.80L132.00,518.17" stroke="#4a4a4a"/><path d="M132.31,516.19L132.00,518.17" stroke="#555"/><path d="M110.60,520.40L117.83,515.69" stroke="#4a4a4a"/><path d="M119.10,522.40L117.83,515.69" stroke="#4a4a4a"/><path d="M118.59,513.11L117.83,515.69" stroke="#555"/><path d="M89.90,513.00L102.31,509.87" stroke="#4a4a4a"/><path d="M95.50,516.20L102.31,509.87" stroke="#4a4a4a"/><path d="M101.00,519.00L102.31,509.87" stroke="#4a4a4a"/><path d="M92.70,521.20L102.31,509.87" stroke="#4a4a4a"/><path d="M89.90,524.50L102.31,509.87" stroke="#4a4a4a"/><path d="M103.43,507.44L102.31,509.87" stroke="#555"/><path d="M27.90,441.20L79.97,496.18" stroke="#4a4a4a"/><path d="M30.60,445.00L79.97,496.18" stroke="#4a4a4a"/><path d="M32.00,449.50L79.97,496.18" stroke="#4a4a4a"/><path d="M33.40,453.30L79.97,496.18" stroke="#4a4a4a"/><path d="M34.80,457.60L79.97,496.18" stroke="#4a4a4a"/><path d="M34.80,461.00L79.97,496.18" stroke="#4a4a4a"/><path d="M37.50,465.20L79.97,496.18" stroke="#4a4a4a"/><path d="M41.60,470.00L79.97,496.18" stroke="#4a4a4a"/><path d="M45.80,473.50L79.97,496.18" stroke="#4a4a4a"/><path d="M47.20,476.80L79.97,496.18" stroke="#4a4a4a"/><path d="M51.30,481.00L79.97,496.18" stroke="#4a4a4a"/><path d="M52.70,485.00L79.97,496.18" stroke="#4a4a4a"/><path d="M56.80,489.20L79.97,496.18" stroke="#4a4a4a"/><path d="M65.10,497.50L79.97,496.18" stroke="#4a4a4a"/><path d="M69.30,501.00L79.97,496.18" stroke="#4a4a4a"/><path d="M73.40,504.70L79.97,496.18" stroke="#4a4a4a"/><path d="M80.30,508.00L79.97,496.18" stroke="#4a4a4a"/><path d="M81.57,494.13L79.97,496.18" stroke="#555"/><path d="M66.20,479.54L64.71,480.84" stroke="#555"/><path d="M59.53,471.06L57.84,472.26" stroke="#555"/><path d="M54.68,463.63L52.90,464.70" stroke="#555"/><path d="M49.29,453.40L46.95,454.48" stroke="#555"/><path d="M45.83,445.02L43.38,445.92" stroke="#555"/><path d="M33.10,424.50L37.89,427.15" stroke="#4a4a4a"/><path d="M33.10,427.90L37.89,427.15" stroke="#4a4a4a"/><path d="M33.10,432.60L37.89,427.15" stroke="#4a4a4a"/><path d="M33.10,436.20L37.89,427.15" stroke="#4a4a4a"/><path d="M40.85,426.62L37.89,427.15" stroke="#555"/><path d="M33.10,415.40L37.26,416.88" stroke="#4a4a4a"/><path d="M33.10,420.00L37.26,416.88" stroke="#4a4a4a"/><path d="M39.52,416.68L37.26,416.88" stroke="#555"/><path d="M34.00,410.80L37.26,409.99" stroke="#4a4a4a"/><path d="M39.14,409.94L37.26,409.99" stroke="#555"/><path d="M34.00,401.70L36.99,402.92" stroke="#4a4a4a"/><path d="M33.10,406.30L36.99,402.92" stroke="#4a4a4a"/><path d="M39.17,403.00L36.99,402.92" stroke="#555"/><path d="M42.06,381.63L39.85,381.11" stroke="#555"/><path d="M46.79,366.55L44.89,365.80" stroke="#555"/><path d="M51.00,339.00L51.91,349.04" stroke="#4a4a4a"/><path d="M48.70,343.00L51.91,349.04" stroke="#4a4a4a"/><path d="M46.40,347.20L51.91,349.04" stroke="#4a4a4a"/><path d="M41.40,350.80L51.91,349.04" stroke="#4a4a4a"/><path d="M41.40,354.50L51.91,349.04" stroke="#4a4a4a"/><path d="M39.40,358.00L51.91,349.04" stroke="#4a4a4a"/><path d="M38.60,363.00L51.91,349.04" stroke="#4a4a4a"/><path d="M37.70,367.00L51.91,349.04" stroke="#4a4a4a"/><path d="M37.70,370.80L51.91,349.04" stroke="#4a4a4a"/><path d="M34.00,376.00L51.91,349.04" stroke="#4a4a4a"/><path d="M33.10,380.00L51.91,349.04" stroke="#4a4a4a"/><path d="M33.10,384.00L51.91,349.04" stroke="#4a4a4a"/><path d="M33.10,388.00L51.91,349.04" stroke="#4a4a4a"/><path d="M33.10,392.60L51.91,349.04" stroke="#4a4a4a"/><path d="M33.10,396.60L51.91,349.04" stroke="#4a4a4a"/><path d="M54.59,350.64L51.91,349.04" stroke="#555"/><path d="M60.20,327.60L66.25,329.87" stroke="#4a4a4a"/><path d="M56.70,331.00L66.25,329.87" stroke="#4a4a4a"/><path d="M68.52,331.97L66.25,329.87" stroke="#555"/><path d="M75.37,325.19L73.58,323.21" stroke="#555"/><path d="M80.36,320.93L79.29,319.60" stroke="#555"/><path d="M88.13,315.23L86.75,313.17" stroke="#555"/><path d="M97.38,309.67L96.32,307.67" stroke="#555"/><path d="M109.60,291.00L112.37,300.14" stroke="#4a4a4a"/><path d="M100.30,294.60L112.37,300.14" stroke="#4a4a4a"/><path d="M96.90,299.30L112.37,300.14" stroke="#4a4a4a"/><path d="M88.90,304.00L112.37,300.14" stroke="#4a4a4a"/><path d="M83.20,307.40L112.37,300.14" stroke="#4a4a4a"/><path d="M76.30,311.50L112.37,300.14" stroke="#4a4a4a"/><path d="M72.80,315.40L112.37,300.14" stroke="#4a4a4a"/><path d="M68.20,319.00L112.37,300.14" stroke="#4a4a4a"/><path d="M63.60,323.50L112.37,300.14" stroke="#4a4a4a"/><path d="M113.26,302.70L112.37,300.14" stroke="#555"/><path d="M118.70,288.80L121.53,297.72" stroke="#4a4a4a"/><path d="M122.12,300.02L121.53,297.72" stroke="#555"/><path d="M134.80,285.40L131.18,295.75" stroke="#4a4a4a"/><path d="M127.90,287.20L131.18,295.75" stroke="#4a4a4a"/><path d="M131.55,298.03L131.18,295.75" stroke="#555"/><path d="M55.60,335.00L68.49,328.45" stroke="#e03030"/><path d="M70.25,330.15L68.49,328.45" stroke="#e03030"/><path d="M52.60,493.60L83.52,499.01" stroke="#e03030"/><path d="M85.12,496.79L83.52,499.01" stroke="#e03030"/><path d="M245.30,475.30L227.29,488.63" stroke="#e03030"/><path d="M225.80,487.07L227.29,488.63" stroke="#e03030"/><path d="M261.90,368.50L251.03,357.14" stroke="#e03030"/><path d="M261.00,364.30L251.03,357.14" stroke="#e03030"/><path d="M248.75,358.26L251.03,357.14" stroke="#e03030"/><path d="M249.90,343.50L233.64,330.85" stroke="#e03030"/><path d="M231.46,332.82L233.64,330.85" stroke="#e03030"/></g>
<path d="M153.02,302.32L153.27,294.61M160.70,302.95L161.46,295.79M166.81,303.14L167.88,296.64M174.44,304.43L175.55,299.86M175.82,304.80L177.38,298.71M185.58,307.82L187.16,303.44M187.57,308.68L189.35,304.06M196.85,313.12L199.44,307.96M206.14,318.68L210.09,312.51M212.36,322.54L216.37,317.13M220.64,329.11L224.15,325.26M228.63,338.38L233.57,334.09M236.53,348.02L241.99,344.31M241.63,356.28L248.10,352.71M245.46,364.60L251.62,361.87M250.86,378.34L256.37,376.78M253.63,392.34L260.58,391.36M254.77,406.76L260.69,406.75M254.33,414.14L259.49,414.49M253.65,421.50L260.45,422.44M252.31,430.33L258.86,431.81M251.87,431.59L257.56,432.96M248.06,443.25L253.53,445.26M247.97,445.19L254.02,447.54M242.56,455.57L248.32,458.57M240.31,460.40L246.37,463.96M232.09,472.59L236.35,475.97M230.52,473.96L234.41,477.18M216.09,488.81L220.33,494.03M210.91,492.06L214.60,497.17M204.57,497.01L207.02,501.03M196.70,501.23L198.86,505.54M183.43,506.14L185.29,511.58M176.65,508.17L178.54,515.24M175.12,509.21L176.42,514.39M161.56,511.62L162.21,517.36M144.68,512.37L144.43,517.78M134.39,510.67L133.27,518.28M132.44,511.11L131.60,516.16M120.38,507.80L118.44,514.49M106.21,502.49L103.79,507.80M105.38,502.08L102.15,509.00M85.70,490.29L81.46,495.81M84.29,488.95L80.95,493.14M69.91,475.93L65.95,479.36M63.89,468.18L58.52,472.01M59.63,460.87L53.17,464.73M54.26,450.66L48.13,453.46M50.89,442.75L45.62,444.66M46.23,426.11L40.61,427.15M46.13,425.17L38.97,426.42M44.84,416.26L39.43,416.74M44.07,409.80L37.46,409.97M44.25,402.93L38.23,402.69M47.06,383.10L40.81,381.64M52.05,368.98L45.20,366.30M58.70,354.07L53.03,350.77M59.50,352.90L54.35,349.81M72.02,335.63L68.41,332.31M79.55,329.27L75.18,324.41M83.76,325.15L79.18,319.45M91.32,319.31L87.57,313.67M99.54,314.48L97.14,310.04M113.90,308.09L111.62,301.77M116.36,307.66L114.57,302.32M123.94,305.38L122.39,299.24M132.03,303.39L131.09,297.84" stroke="#1a1a1a" stroke-width="0.85" fill="none"/>
<path d="M74.16,333.64L70.33,329.91M222.00,483.31L226.21,487.74M227.76,336.68L231.67,333.16" stroke="#e01010" stroke-width="0.9" fill="none"/>
<path d="M88.09,492.60L85.38,496.37M244.16,360.64L250.22,357.67" stroke="#d80c0c" stroke-width="2.2" fill="none"/>
<g fill="#555"><circle cx="235.9" cy="487.7" r="0.35"/><circle cx="34.0" cy="390.9" r="0.35"/><circle cx="231.5" cy="327.8" r="0.35"/><circle cx="53.7" cy="471.4" r="0.35"/><circle cx="259.5" cy="361.8" r="0.35"/><circle cx="267.3" cy="393.2" r="0.35"/><circle cx="67.5" cy="492.8" r="0.35"/><circle cx="36.8" cy="389.1" r="0.35"/><circle cx="266.6" cy="390.6" r="0.35"/><circle cx="196.2" cy="513.3" r="0.35"/><circle cx="33.0" cy="409.0" r="0.35"/><circle cx="35.6" cy="429.3" r="0.35"/><circle cx="265.4" cy="425.8" r="0.35"/><circle cx="233.3" cy="324.8" r="0.35"/><circle cx="40.5" cy="374.6" r="0.35"/><circle cx="151.4" cy="288.6" r="0.35"/><circle cx="256.7" cy="361.9" r="0.35"/><circle cx="259.9" cy="435.3" r="0.35"/><circle cx="262.9" cy="412.9" r="0.35"/><circle cx="52.9" cy="340.0" r="0.35"/><circle cx="38.2" cy="383.2" r="0.35"/><circle cx="251.3" cy="457.7" r="0.35"/><circle cx="53.0" cy="337.8" r="0.35"/><circle cx="112.0" cy="295.1" r="0.35"/><circle cx="73.9" cy="495.0" r="0.35"/><circle cx="224.3" cy="322.0" r="0.35"/><circle cx="68.8" cy="494.1" r="0.35"/><circle cx="135.9" cy="292.4" r="0.35"/><circle cx="133.5" cy="524.2" r="0.35"/><circle cx="264.5" cy="431.0" r="0.35"/><circle cx="81.7" cy="500.6" r="0.35"/><circle cx="222.5" cy="494.7" r="0.35"/><circle cx="240.9" cy="337.4" r="0.35"/><circle cx="141.1" cy="289.4" r="0.35"/><circle cx="156.0" cy="289.7" r="0.35"/><circle cx="239.9" cy="333.6" r="0.35"/><circle cx="92.8" cy="303.1" r="0.35"/><circle cx="71.9" cy="317.0" r="0.35"/><circle cx="66.4" cy="483.8" r="0.35"/><circle cx="266.6" cy="409.9" r="0.35"/><circle cx="82.5" cy="504.7" r="0.35"/><circle cx="253.4" cy="350.3" r="0.35"/><circle cx="94.9" cy="510.0" r="0.35"/><circle cx="229.0" cy="323.6" r="0.35"/><circle cx="139.1" cy="524.1" r="0.35"/><circle cx="43.9" cy="456.8" r="0.35"/><circle cx="38.0" cy="435.3" r="0.35"/><circle cx="251.8" cy="467.8" r="0.35"/><circle cx="47.5" cy="462.8" r="0.35"/><circle cx="124.5" cy="291.6" r="0.35"/><circle cx="32.7" cy="428.6" r="0.35"/><circle cx="228.5" cy="495.5" r="0.35"/><circle cx="96.0" cy="509.4" r="0.35"/><circle cx="215.0" cy="499.6" r="0.35"/><circle cx="72.1" cy="317.0" r="0.35"/><circle cx="232.0" cy="492.5" r="0.35"/><circle cx="234.3" cy="328.1" r="0.35"/><circle cx="144.3" cy="290.4" r="0.35"/><circle cx="247.0" cy="342.5" r="0.35"/><circle cx="168.7" cy="291.3" r="0.35"/><circle cx="88.6" cy="506.7" r="0.35"/><circle cx="48.3" cy="458.5" r="0.35"/><circle cx="70.4" cy="320.2" r="0.35"/><circle cx="78.4" cy="317.5" r="0.35"/><circle cx="265.8" cy="390.7" r="0.35"/><circle cx="94.9" cy="304.3" r="0.35"/><circle cx="265.1" cy="402.1" r="0.35"/><circle cx="265.3" cy="400.3" r="0.35"/><circle cx="119.7" cy="293.9" r="0.35"/><circle cx="262.9" cy="372.5" r="0.35"/></g>
<text x="180" y="278.0" text-anchor="start" class="gl">phoR</text>
<text x="179" y="280.8" text-anchor="start" class="gl">phoP</text>
<text x="174.3" y="284.9" text-anchor="start" class="gl">pkaA</text>
<text x="170.9" y="287.3" text-anchor="start" class="gl">cdB</text>
<text x="175.5" y="288.8" text-anchor="start" class="gl">mbtB</text>
<text x="160.5" y="288.8" text-anchor="start" class="gl">ddrA</text>
<text x="151.3" y="288.2" text-anchor="start" class="gl">ddrA</text>
<text x="143.3" y="284.9" text-anchor="start" class="gl">lesA</text>
<text x="135.2" y="287.7" text-anchor="start" class="gl">fadB</text>
<text x="128.3" y="289.5" text-anchor="start" class="gl">tycC</text>
<text x="119.1" y="291.1" text-anchor="start" class="gl">mbtC</text>
<text x="110" y="293.3" text-anchor="start" class="gl">mbtA</text>
<text x="100.7" y="296.9" text-anchor="start" class="gl">rsgA</text>
<text x="96.5" y="301.6" text-anchor="end" class="gl">ahpC</text>
<text x="88.5" y="306.3" text-anchor="end" class="gl">mbtA</text>
<text x="82.8" y="309.7" text-anchor="end" class="gl">rsgI</text>
<text x="75.9" y="313.8" text-anchor="end" class="gl">fadD26</text>
<text x="72.4" y="317.7" text-anchor="end" class="gl">fcuA</text>
<text x="67.8" y="321.3" text-anchor="end" class="gl">pknG</text>
<text x="63.2" y="325.8" text-anchor="end" class="gl">radA</text>
<text x="59.8" y="329.9" text-anchor="end" class="gl">rsfA</text>
<text x="56.3" y="333.3" text-anchor="end" class="gl">katA</text>
<text x="55.2" y="337.3" text-anchor="end" class="gl r">mce operon 6</text>
<text x="50.6" y="341.3" text-anchor="end" class="gl">mbtA</text>
<text x="48.3" y="345.3" text-anchor="end" class="gl">mbtA</text>
<text x="46" y="349.5" text-anchor="end" class="gl">rsdA</text>
<text x="41" y="353.1" text-anchor="end" class="gl">eccA3</text>
<text x="41" y="356.8" text-anchor="end" class="gl">eccB3</text>
<text x="39" y="360.3" text-anchor="end" class="gl">mycP3</text>
<text x="38.2" y="365.3" text-anchor="end" class="gl">pknG</text>
<text x="37.3" y="369.3" text-anchor="end" class="gl">PDIM</text>
<text x="37.3" y="373.1" text-anchor="end" class="gl">rsgI</text>
<text x="33.6" y="378.3" text-anchor="end" class="gl">fenuU</text>
<text x="32.7" y="382.3" text-anchor="end" class="gl">mbtC</text>
<text x="32.7" y="386.3" text-anchor="end" class="gl">gpsE</text>
<text x="32.7" y="390.3" text-anchor="end" class="gl">mbtC</text>
<text x="32.7" y="394.9" text-anchor="end" class="gl">ddrA</text>
<text x="32.7" y="398.9" text-anchor="end" class="gl">mymA</text>
<text x="33.6" y="404.0" text-anchor="end" class="gl">napC</text>
<text x="32.7" y="408.6" text-anchor="end" class="gl">ecsF</text>
<text x="33.6" y="413.1" text-anchor="end" class="gl">purC</text>
<text x="32.7" y="417.7" text-anchor="end" class="gl">mymA</text>
<text x="32.7" y="422.3" text-anchor="end" class="gl">ctpV</text>
<text x="32.7" y="426.8" text-anchor="end" class="gl">ddrA</text>
<text x="32.7" y="430.2" text-anchor="end" class="gl">mpD</text>
<text x="32.7" y="434.9" text-anchor="end" class="gl">mbtE</text>
<text x="32.7" y="438.5" text-anchor="end" class="gl">rnpA</text>
<text x="28.3" y="443.5" text-anchor="start" class="gl">pdhA</text>
<text x="31" y="447.3" text-anchor="start" class="gl">mdA</text>
<text x="32.4" y="451.8" text-anchor="start" class="gl">mbtE</text>
<text x="33.8" y="455.6" text-anchor="start" class="gl">rsgI</text>
<text x="35.2" y="459.9" text-anchor="start" class="gl">mymC</text>
<text x="35.2" y="463.3" text-anchor="start" class="gl">mycP3</text>
<text x="37.9" y="467.5" text-anchor="start" class="gl">fadE5</text>
<text x="42" y="472.3" text-anchor="start" class="gl">pcnA</text>
<text x="46.2" y="475.8" text-anchor="start" class="gl">ercA</text>
<text x="47.6" y="479.1" text-anchor="start" class="gl">rsgA</text>
<text x="51.7" y="483.3" text-anchor="start" class="gl">rnlB</text>
<text x="53.1" y="487.3" text-anchor="start" class="gl">mbtL</text>
<text x="57.2" y="491.5" text-anchor="start" class="gl">fadA</text>
<text x="53" y="495.9" text-anchor="start" class="gl r">mbtBDCYE</text>
<text x="65.5" y="499.8" text-anchor="start" class="gl">eccB3</text>
<text x="69.7" y="503.3" text-anchor="start" class="gl">eccA3</text>
<text x="73.8" y="507.0" text-anchor="start" class="gl">mycP3</text>
<text x="80.7" y="510.3" text-anchor="start" class="gl">eccC4</text>
<text x="90.3" y="515.3" text-anchor="start" class="gl">fagA</text>
<text x="95.9" y="518.5" text-anchor="start" class="gl">radB</text>
<text x="101.4" y="521.3" text-anchor="start" class="gl">whiB3</text>
<text x="93.1" y="523.5" text-anchor="start" class="gl">eccC4</text>
<text x="90.3" y="526.8" text-anchor="start" class="gl">mycP3</text>
<text x="111" y="522.7" text-anchor="start" class="gl">rsgA</text>
<text x="119.5" y="524.7" text-anchor="start" class="gl">fadE5</text>
<text x="130.3" y="531.0" text-anchor="start" class="gl">fagA</text>
<text x="130.3" y="534.3" text-anchor="start" class="gl">fagB</text>
<text x="130.3" y="537.8" text-anchor="start" class="gl">rsgM</text>
<text x="122" y="541.1" text-anchor="start" class="gl">dsbA</text>
<text x="143.4" y="527.3" text-anchor="start" class="gl">devS</text>
<text x="158.6" y="526.8" text-anchor="start" class="gl">devS</text>
<text x="155.9" y="531.8" text-anchor="start" class="gl">devR/devS</text>
<text x="140.7" y="535.6" text-anchor="start" class="gl">sigH/rpoH</text>
<text x="175" y="531.8" text-anchor="start" class="gl">fadR</text>
<text x="175" y="535.6" text-anchor="start" class="gl">katB</text>
<text x="182" y="524.9" text-anchor="start" class="gl">mbtD</text>
<text x="182" y="528.7" text-anchor="start" class="gl">purC</text>
<text x="190.3" y="519.9" text-anchor="start" class="gl">mbtB</text>
<text x="197.2" y="516.6" text-anchor="start" class="gl">fes</text>
<text x="200" y="513.9" text-anchor="start" class="gl">PDIM</text>
<text x="205.5" y="511.1" text-anchor="start" class="gl">mce43</text>
<text x="213.8" y="506.7" text-anchor="start" class="gl">mglt3</text>
<text x="220.7" y="502.0" text-anchor="start" class="gl">devS</text>
<text x="224.8" y="498.8" text-anchor="start" class="gl">nodC</text>
<text x="229" y="494.5" text-anchor="start" class="gl">lmH</text>
<text x="232" y="490.8" text-anchor="start" class="gl">mbtL</text>
<text x="238.4" y="490.5" text-anchor="start" class="gl">mbtL</text>
<text x="240.2" y="485.9" text-anchor="start" class="gl">mbtJ</text>
<text x="242" y="481.8" text-anchor="start" class="gl">pntA</text>
<text x="245.7" y="477.6" text-anchor="start" class="gl r">mce operon 7</text>
<text x="249.4" y="473.6" text-anchor="start" class="gl">fadD13</text>
<text x="251.3" y="470.3" text-anchor="start" class="gl">katA</text>
<text x="254" y="465.7" text-anchor="start" class="gl">mql</text>
<text x="255.9" y="461.6" text-anchor="start" class="gl">lysA</text>
<text x="257.7" y="456.5" text-anchor="start" class="gl">rsgI</text>
<text x="259.5" y="452.3" text-anchor="start" class="gl">katB</text>
<text x="261.4" y="448.7" text-anchor="start" class="gl">nodC</text>
<text x="262.7" y="444.5" text-anchor="start" class="gl">fadE5</text>
<text x="264" y="440.3" text-anchor="start" class="gl">virB</text>
<text x="265" y="436.3" text-anchor="start" class="gl">virA</text>
<text x="266" y="432.9" text-anchor="start" class="gl">rsgI</text>
<text x="266.9" y="429.3" text-anchor="start" class="gl">cyp125</text>
<text x="267.4" y="425.6" text-anchor="start" class="gl">adhD</text>
<text x="268" y="421.5" text-anchor="start" class="gl">katB</text>
<text x="268" y="417.8" text-anchor="start" class="gl">radH</text>
<text x="268" y="413.6" text-anchor="start" class="gl">pnpA</text>
<text x="268" y="409.6" text-anchor="start" class="gl">mbtC</text>
<text x="268" y="405.3" text-anchor="start" class="gl">cseA</text>
<text x="268" y="401.2" text-anchor="start" class="gl">glnA1</text>
<text x="266.9" y="396.0" text-anchor="start" class="gl">rsgI</text>
<text x="273.3" y="392.0" text-anchor="start" class="gl">radH</text>
<text x="266.9" y="388.7" text-anchor="start" class="gl">fadE5</text>
<text x="266" y="384.6" text-anchor="start" class="gl">cyp125</text>
<text x="265" y="380.0" text-anchor="start" class="gl">devS</text>
<text x="263.2" y="375.3" text-anchor="start" class="gl">eccB3</text>
<text x="262.3" y="370.8" text-anchor="start" class="gl r">qcrA-FCGBDE</text>
<text x="261.4" y="366.6" text-anchor="start" class="gl r">narGHJI</text>
<text x="259.5" y="362.6" text-anchor="start" class="gl">phoR</text>
<text x="257" y="358.9" text-anchor="start" class="gl">ddrA</text>
<text x="256" y="354.8" text-anchor="start" class="gl">mbtE</text>
<text x="255" y="350.6" text-anchor="start" class="gl">mbtB</text>
<text x="250.3" y="345.8" text-anchor="start" class="gl r">mce operon 1</text>
<text x="248.5" y="341.8" text-anchor="start" class="gl">nopA</text>
<text x="245.7" y="337.8" text-anchor="start" class="gl">mymA</text>
<text x="244" y="333.8" text-anchor="start" class="gl">fadD13</text>
<text x="238.6" y="330.7" text-anchor="start" class="gl">radH</text>
<text x="235" y="326.5" text-anchor="start" class="gl">virA</text>
<text x="231.7" y="322.6" text-anchor="start" class="gl">virB</text>
<text x="227" y="318.7" text-anchor="start" class="gl">rsgI</text>
<text x="221.4" y="315.0" text-anchor="start" class="gl">narK2</text>
<text x="216.8" y="310.0" text-anchor="start" class="gl">panC</text>
<text x="211" y="306.1" text-anchor="start" class="gl">panD</text>
<text x="205.3" y="302.6" text-anchor="start" class="gl">fadD29</text>
<text x="196" y="299.6" text-anchor="start" class="gl">mptA</text>
<text x="184.6" y="295.3" text-anchor="start" class="gl">cyp125</text>

<text x="108.3" y="130.9" class="ct it" textLength="63.3" lengthAdjust="spacingAndGlyphs">Nocardia barduliensis</text>
<text x="174.4" y="130.9" class="ct" textLength="19.5" lengthAdjust="spacingAndGlyphs">335427</text>
<text x="194.5" y="127.6" class="sup">T</text>
<text x="133" y="138.6" class="ct" textLength="35.3" lengthAdjust="spacingAndGlyphs">8495898 bp</text>
<text x="104.6" y="406.8" class="ct it" textLength="66.2" lengthAdjust="spacingAndGlyphs">Nocardia gipuzkoensis</text>
<text x="173.1" y="406.8" class="ct" textLength="20" lengthAdjust="spacingAndGlyphs">234509</text>
<text x="193.8" y="403.5" class="sup">T</text>
<text x="132.2" y="415.5" class="ct" textLength="34.5" lengthAdjust="spacingAndGlyphs">8076204 bp</text>


<rect x="285.2" y="206.4" width="9.8" height="8.8" fill="#000"/>
<text x="299.7" y="214.2" class="lg" textLength="44.6" lengthAdjust="spacingAndGlyphs">GC content</text>
<text x="285.2" y="228.6" class="lh it" textLength="66.2" lengthAdjust="spacingAndGlyphs">Nocardia asiatica</text>
<text x="354.7" y="228.6" class="lh" textLength="53.5" lengthAdjust="spacingAndGlyphs">NBRC 100129</text>
<text x="409.3" y="225.0" class="lsup">T</text>
<rect x="285.3" y="234.1" width="10.2" height="9.7" fill="#e8141a"/>
<text x="301.2" y="242.6" class="li" textLength="39.1" lengthAdjust="spacingAndGlyphs">100% identity</text>
<rect x="285.3" y="248.4" width="10.2" height="9.5" fill="#e8959a"/>
<text x="301.2" y="256.7" class="li" textLength="35.6" lengthAdjust="spacingAndGlyphs">70% identity</text>
<rect x="285.3" y="262.8" width="10.2" height="9.5" fill="#dcdcdc"/>
<text x="301.2" y="271.0" class="li" textLength="35.6" lengthAdjust="spacingAndGlyphs">50% identity</text>
<text x="285.5" y="284.5" class="lh it" textLength="77.2" lengthAdjust="spacingAndGlyphs">Nocardia abscessus</text>
<text x="365.8" y="284.5" class="lh" textLength="53.6" lengthAdjust="spacingAndGlyphs">NBRC 100374</text>
<text x="421.3" y="281.0" class="lsup">T</text>
<rect x="285.3" y="291.2" width="10.4" height="9.4" fill="#14a0dc"/>
<text x="301.2" y="299.3" class="li" textLength="39.1" lengthAdjust="spacingAndGlyphs">100% identity</text>
<rect x="285.3" y="305.2" width="10.4" height="9.4" fill="#7ecbe8"/>
<text x="301.2" y="313.5" class="li" textLength="35.6" lengthAdjust="spacingAndGlyphs">70% identity</text>
<rect x="285.3" y="319.1" width="10.4" height="9.5" fill="#dcdcdc"/>
<text x="301.2" y="327.7" class="li" textLength="35.6" lengthAdjust="spacingAndGlyphs">50% identity</text>

</svg>
</body></html>
